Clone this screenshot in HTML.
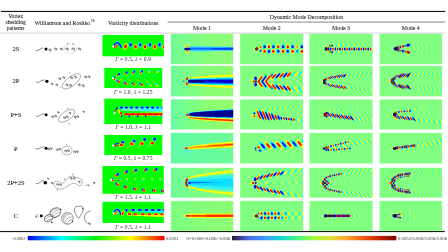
<!DOCTYPE html><html><head><meta charset="utf-8"><style>html,body{margin:0;padding:0;background:#fff;width:448px;height:252px;overflow:hidden;position:relative}</style></head><body><svg width="448" height="252" viewBox="0 0 448 252" style="position:absolute;left:0;top:0">
<defs>
<filter id="b4" x="-10%" y="-10%" width="120%" height="120%"><feGaussianBlur stdDeviation="0.45"/></filter>
<filter id="b6" x="-10%" y="-10%" width="120%" height="120%"><feGaussianBlur stdDeviation="0.6"/></filter>
<filter id="b2" x="-10%" y="-10%" width="120%" height="120%"><feGaussianBlur stdDeviation="0.25"/></filter>
<linearGradient id="cb1" x1="0" x2="1" y1="0" y2="0"><stop offset="0" stop-color="#0000f0"/><stop offset="0.25" stop-color="#00ffff"/><stop offset="0.5" stop-color="#00f000"/><stop offset="0.75" stop-color="#ffff00"/><stop offset="1" stop-color="#f00000"/></linearGradient>
<linearGradient id="cb2" x1="0" x2="1" y1="0" y2="0"><stop offset="0.0" stop-color="rgb(48, 18, 59)"/><stop offset="0.1" stop-color="rgb(70, 107, 227)"/><stop offset="0.2" stop-color="rgb(62, 155, 254)"/><stop offset="0.3" stop-color="rgb(24, 214, 203)"/><stop offset="0.4" stop-color="rgb(70, 247, 131)"/><stop offset="0.5" stop-color="rgb(164, 252, 60)"/><stop offset="0.6" stop-color="rgb(225, 221, 55)"/><stop offset="0.7" stop-color="rgb(254, 164, 49)"/><stop offset="0.8" stop-color="rgb(239, 90, 17)"/><stop offset="0.9" stop-color="rgb(194, 36, 3)"/><stop offset="1.0" stop-color="rgb(122, 4, 3)"/></linearGradient>
<clipPath id="cv0"><rect x="102.5" y="35.0" width="61.40" height="21.30"/></clipPath>
<clipPath id="cv1"><rect x="104.3" y="67.9" width="57.90" height="20.10"/></clipPath>
<clipPath id="cv2"><rect x="104.3" y="98.6" width="58.00" height="25.50"/></clipPath>
<clipPath id="cv3"><rect x="104.3" y="135.0" width="58.00" height="20.00"/></clipPath>
<clipPath id="cv4"><rect x="102.5" y="166.0" width="61.30" height="27.80"/></clipPath>
<clipPath id="cv5"><rect x="102.5" y="201.8" width="61.30" height="21.20"/></clipPath>
<clipPath id="cm00"><rect x="170.8" y="33.8" width="62.40" height="30.40"/></clipPath>
<clipPath id="cm01"><rect x="240.2" y="33.8" width="62.90" height="30.40"/></clipPath>
<clipPath id="cm02"><rect x="309.5" y="33.8" width="63.10" height="30.40"/></clipPath>
<clipPath id="cm03"><rect x="379.6" y="33.8" width="62.30" height="30.40"/></clipPath>
<clipPath id="cm10"><rect x="170.8" y="65.9" width="62.40" height="30.50"/></clipPath>
<clipPath id="cm11"><rect x="240.2" y="65.9" width="62.90" height="30.50"/></clipPath>
<clipPath id="cm12"><rect x="309.5" y="65.9" width="63.10" height="30.50"/></clipPath>
<clipPath id="cm13"><rect x="379.6" y="65.9" width="62.30" height="30.50"/></clipPath>
<clipPath id="cm20"><rect x="170.8" y="99.4" width="62.40" height="30.10"/></clipPath>
<clipPath id="cm21"><rect x="240.2" y="99.4" width="62.90" height="30.10"/></clipPath>
<clipPath id="cm22"><rect x="309.5" y="99.4" width="63.10" height="30.10"/></clipPath>
<clipPath id="cm23"><rect x="379.6" y="99.4" width="62.30" height="30.10"/></clipPath>
<clipPath id="cm30"><rect x="170.8" y="132.9" width="62.40" height="30.60"/></clipPath>
<clipPath id="cm31"><rect x="240.2" y="132.9" width="62.90" height="30.60"/></clipPath>
<clipPath id="cm32"><rect x="309.5" y="132.9" width="63.10" height="30.60"/></clipPath>
<clipPath id="cm33"><rect x="379.6" y="132.9" width="62.30" height="30.60"/></clipPath>
<clipPath id="cm40"><rect x="170.8" y="167.8" width="62.40" height="29.90"/></clipPath>
<clipPath id="cm41"><rect x="240.2" y="167.8" width="62.90" height="29.90"/></clipPath>
<clipPath id="cm42"><rect x="309.5" y="167.8" width="63.10" height="29.90"/></clipPath>
<clipPath id="cm43"><rect x="379.6" y="167.8" width="62.30" height="29.90"/></clipPath>
<clipPath id="cm50"><rect x="170.8" y="200.9" width="62.40" height="30.00"/></clipPath>
<clipPath id="cm51"><rect x="240.2" y="200.9" width="62.90" height="30.00"/></clipPath>
<clipPath id="cm52"><rect x="309.5" y="200.9" width="63.10" height="30.00"/></clipPath>
<clipPath id="cm53"><rect x="379.6" y="200.9" width="62.30" height="30.00"/></clipPath>
<linearGradient id="g1r0" x1="0" x2="1" y1="0" y2="0"><stop offset="0" stop-color="rgb(112, 250, 150)"/><stop offset="0.25" stop-color="rgb(122, 255, 134)"/><stop offset="0.55" stop-color="rgb(132, 255, 122)"/><stop offset="1" stop-color="rgb(142, 252, 114)"/></linearGradient>
<linearGradient id="g1r1" x1="0" x2="1" y1="0" y2="0"><stop offset="0" stop-color="rgb(108, 250, 156)"/><stop offset="0.25" stop-color="rgb(120, 255, 138)"/><stop offset="0.55" stop-color="rgb(134, 255, 120)"/><stop offset="1" stop-color="rgb(144, 252, 112)"/></linearGradient>
<linearGradient id="g1r2" x1="0" x2="1" y1="0" y2="0"><stop offset="0" stop-color="rgb(104, 250, 160)"/><stop offset="0.3" stop-color="rgb(122, 255, 134)"/><stop offset="0.6" stop-color="rgb(138, 255, 116)"/><stop offset="1" stop-color="rgb(148, 252, 108)"/></linearGradient>
<linearGradient id="g1r3" x1="0" x2="1" y1="0" y2="0"><stop offset="0" stop-color="rgb(98, 252, 164)"/><stop offset="0.5" stop-color="rgb(102, 252, 160)"/><stop offset="1" stop-color="rgb(110, 252, 150)"/></linearGradient>
<linearGradient id="g1r4" x1="0" x2="1" y1="0" y2="0"><stop offset="0" stop-color="rgb(110, 250, 152)"/><stop offset="0.4" stop-color="rgb(122, 255, 134)"/><stop offset="1" stop-color="rgb(134, 255, 122)"/></linearGradient>
<linearGradient id="g1r5" x1="0" x2="1" y1="0" y2="0"><stop offset="0" stop-color="rgb(126, 255, 130)"/><stop offset="0.5" stop-color="rgb(134, 255, 122)"/><stop offset="1" stop-color="rgb(142, 252, 114)"/></linearGradient>
</defs>
<rect x="1" y="10.9" width="444.2" height="1.1" fill="#111"/>
<rect x="167.5" y="21.7" width="277.7" height="0.7" fill="#555"/>
<rect x="0" y="32.7" width="445.2" height="0.7" fill="#c8bcc8"/>
<rect x="0" y="230.95" width="444.8" height="1.15" fill="#1a1a1a"/>
<text x="15.7" y="18.0" font-family="Liberation Serif, serif" font-size="5.6" text-anchor="middle" fill="#1a1a1a" stroke="#1a1a1a" stroke-width="0.06" >Vortex</text>
<text x="15.7" y="24.1" font-family="Liberation Serif, serif" font-size="5.6" text-anchor="middle" fill="#1a1a1a" stroke="#1a1a1a" stroke-width="0.06" >shedding</text>
<text x="15.7" y="30.2" font-family="Liberation Serif, serif" font-size="5.6" text-anchor="middle" fill="#1a1a1a" stroke="#1a1a1a" stroke-width="0.06" >patterns</text>
<text x="34.8" y="24.6" font-family="Liberation Serif, serif" font-size="5.75" fill="#1a1a1a" stroke="#1a1a1a" stroke-width="0.06">Williamson and Roshko<tspan font-size="3.4" dy="-2.3"> 18</tspan></text>
<text x="133.3" y="24.5" font-family="Liberation Serif, serif" font-size="5.8" text-anchor="middle" fill="#1a1a1a" stroke="#1a1a1a" stroke-width="0.06" >Vorticity distributions</text>
<text x="306.5" y="19.2" font-family="Liberation Serif, serif" font-size="5.82" text-anchor="middle" fill="#1a1a1a" stroke="#1a1a1a" stroke-width="0.06" >Dynamic Mode Decomposition</text>
<text x="202.0" y="29.9" font-family="Liberation Serif, serif" font-size="5.8" text-anchor="middle" fill="#1a1a1a" stroke="#1a1a1a" stroke-width="0.06" >Mode 1</text>
<text x="271.65" y="29.9" font-family="Liberation Serif, serif" font-size="5.8" text-anchor="middle" fill="#1a1a1a" stroke="#1a1a1a" stroke-width="0.06" >Mode 2</text>
<text x="341.05" y="29.9" font-family="Liberation Serif, serif" font-size="5.8" text-anchor="middle" fill="#1a1a1a" stroke="#1a1a1a" stroke-width="0.06" >Mode 3</text>
<text x="410.75" y="29.9" font-family="Liberation Serif, serif" font-size="5.8" text-anchor="middle" fill="#1a1a1a" stroke="#1a1a1a" stroke-width="0.06" >Mode 4</text>
<text x="15.9" y="51.3" font-family="Liberation Serif, serif" font-size="6.5" text-anchor="middle" fill="#222" stroke="#222" stroke-width="0.08">2S</text>
<text x="15.9" y="83.45" font-family="Liberation Serif, serif" font-size="6.5" text-anchor="middle" fill="#222" stroke="#222" stroke-width="0.08">2P</text>
<text x="15.9" y="116.75" font-family="Liberation Serif, serif" font-size="6.5" text-anchor="middle" fill="#222" stroke="#222" stroke-width="0.08">P+S</text>
<text x="15.9" y="150.5" font-family="Liberation Serif, serif" font-size="6.5" text-anchor="middle" fill="#222" stroke="#222" stroke-width="0.08">P</text>
<text x="15.9" y="185.05" font-family="Liberation Serif, serif" font-size="6.5" text-anchor="middle" fill="#222" stroke="#222" stroke-width="0.08">2P+2S</text>
<text x="15.9" y="218.2" font-family="Liberation Serif, serif" font-size="6.5" text-anchor="middle" fill="#222" stroke="#222" stroke-width="0.08">C</text>
<g filter="url(#b2)">
<path d="M35.4,50.6 L36.6,50.4 L38.4,50.1 L43.1,47.7" fill="none" stroke="#1a1a1a" stroke-width="0.5" /><circle cx="46" cy="49" r="1.5" fill="#000"/><path d="M48.7,50.26 a1.2,1.2 0 1,1 2.4,0 a0.66,0.66 0 1,1 -1.32,0.2" fill="none" stroke="#1a1a1a" stroke-width="0.65" /><path d="M54.4,49.36 a1.2,1.2 0 1,1 2.4,0 a0.66,0.66 0 1,1 -1.32,0.2" fill="none" stroke="#1a1a1a" stroke-width="0.65" /><path d="M60,49.36 a1.2,1.2 0 1,1 2.4,0 a0.66,0.66 0 1,1 -1.32,0.2" fill="none" stroke="#1a1a1a" stroke-width="0.65" /><ellipse cx="70.3" cy="48.6" rx="6.4" ry="4.8" fill="none" stroke="#777" stroke-width="0.45" stroke-dasharray="0.6,0.6"/><path d="M65.56,49.43 a1.44,1.44 0 1,1 2.88,0 a0.79,0.79 0 1,1 -1.58,0.2" fill="none" stroke="#1a1a1a" stroke-width="0.65" /><path d="M71.76,49.43 a1.44,1.44 0 1,1 2.88,0 a0.79,0.79 0 1,1 -1.58,0.2" fill="none" stroke="#1a1a1a" stroke-width="0.65" /><line x1="67.5" y1="44.2" x2="67.8" y2="43.4" stroke="#1a1a1a" stroke-width="0.45" stroke-linecap="round"/><line x1="72.8" y1="44.2" x2="73.1" y2="43.4" stroke="#1a1a1a" stroke-width="0.45" stroke-linecap="round"/><path d="M78.2,49.36 a1.2,1.2 0 1,1 2.4,0 a0.66,0.66 0 1,1 -1.32,0.2" fill="none" stroke="#1a1a1a" stroke-width="0.65" />
<path d="M35.9,82.0 Q37.5,83.2 39.5,81.8 Q41.5,80.2 44.8,79.8" fill="none" stroke="#1a1a1a" stroke-width="0.5" /><circle cx="46.9" cy="81.3" r="1.6" fill="#000"/><path d="M50.94,84.09 a0.96,0.96 0 1,1 1.92,0 a0.53,0.53 0 1,1 -1.06,0.2" fill="none" stroke="#1a1a1a" stroke-width="0.65" /><path d="M55.64,85.09 a0.96,0.96 0 1,1 1.92,0 a0.53,0.53 0 1,1 -1.06,0.2" fill="none" stroke="#1a1a1a" stroke-width="0.65" /><path d="M58.62,78.92 a1.08,1.08 0 1,1 2.16,0 a0.59,0.59 0 1,1 -1.19,0.2" fill="none" stroke="#1a1a1a" stroke-width="0.65" /><path d="M62.52,77.82 a1.08,1.08 0 1,1 2.16,0 a0.59,0.59 0 1,1 -1.19,0.2" fill="none" stroke="#1a1a1a" stroke-width="0.65" /><ellipse cx="71.4" cy="81.3" rx="11" ry="4.6" transform="rotate(-38 71.4 81.3)" fill="none" stroke="#555" stroke-width="0.45"/><path d="M70.32,78.12 a1.08,1.08 0 1,1 2.16,0 a0.59,0.59 0 1,1 -1.19,0.2" fill="none" stroke="#1a1a1a" stroke-width="0.65" /><path d="M74.22,77.32 a1.08,1.08 0 1,1 2.16,0 a0.59,0.59 0 1,1 -1.19,0.2" fill="none" stroke="#1a1a1a" stroke-width="0.65" /><path d="M65.62,85.12 a1.08,1.08 0 1,1 2.16,0 a0.59,0.59 0 1,1 -1.19,0.2" fill="none" stroke="#1a1a1a" stroke-width="0.65" /><path d="M69.22,85.62 a1.08,1.08 0 1,1 2.16,0 a0.59,0.59 0 1,1 -1.19,0.2" fill="none" stroke="#1a1a1a" stroke-width="0.65" /><path d="M84.42,77.32 a1.08,1.08 0 1,1 2.16,0 a0.59,0.59 0 1,1 -1.19,0.2" fill="none" stroke="#1a1a1a" stroke-width="0.65" /><path d="M87.92,76.92 a1.08,1.08 0 1,1 2.16,0 a0.59,0.59 0 1,1 -1.19,0.2" fill="none" stroke="#1a1a1a" stroke-width="0.65" /><path d="M78.12,85.12 a1.08,1.08 0 1,1 2.16,0 a0.59,0.59 0 1,1 -1.19,0.2" fill="none" stroke="#1a1a1a" stroke-width="0.65" /><path d="M82.02,85.92 a1.08,1.08 0 1,1 2.16,0 a0.59,0.59 0 1,1 -1.19,0.2" fill="none" stroke="#1a1a1a" stroke-width="0.65" /><circle cx="69.8" cy="72.8" r="0.45" fill="#1a1a1a"/><circle cx="60.8" cy="86.9" r="0.45" fill="#1a1a1a"/>
<path d="M35.9,116.0 Q37.5,117.2 39.5,115.6 Q41.5,114 44.4,113.8" fill="none" stroke="#1a1a1a" stroke-width="0.5" /><circle cx="46.1" cy="114.8" r="1.5" fill="#000"/><path d="M51.54,116.89 a0.96,0.96 0 1,1 1.92,0 a0.53,0.53 0 1,1 -1.06,0.2" fill="none" stroke="#1a1a1a" stroke-width="0.65" /><path d="M54.54,116.39 a0.96,0.96 0 1,1 1.92,0 a0.53,0.53 0 1,1 -1.06,0.2" fill="none" stroke="#1a1a1a" stroke-width="0.65" /><path d="M57.46,112.55 a0.84,0.84 0 1,1 1.68,0 a0.46,0.46 0 1,1 -0.92,0.2" fill="none" stroke="#1a1a1a" stroke-width="0.65" /><ellipse cx="66.7" cy="115.8" rx="9.4" ry="4.4" transform="rotate(-35 66.7 115.8)" fill="none" stroke="#555" stroke-width="0.45"/><path d="M63.42,117.82 a1.08,1.08 0 1,1 2.16,0 a0.59,0.59 0 1,1 -1.19,0.2" fill="none" stroke="#1a1a1a" stroke-width="0.65" /><path d="M66.12,117.12 a1.08,1.08 0 1,1 2.16,0 a0.59,0.59 0 1,1 -1.19,0.2" fill="none" stroke="#1a1a1a" stroke-width="0.65" /><path d="M68.84,113.29 a0.96,0.96 0 1,1 1.92,0 a0.53,0.53 0 1,1 -1.06,0.2" fill="none" stroke="#1a1a1a" stroke-width="0.65" /><line x1="67.6" y1="109" x2="67.9" y2="108.2" stroke="#1a1a1a" stroke-width="0.45" stroke-linecap="round"/><line x1="69" y1="124.2" x2="69.3" y2="123.4" stroke="#1a1a1a" stroke-width="0.45" stroke-linecap="round"/><path d="M74.04,117.29 a0.96,0.96 0 1,1 1.92,0 a0.53,0.53 0 1,1 -1.06,0.2" fill="none" stroke="#1a1a1a" stroke-width="0.65" /><path d="M76.64,116.79 a0.96,0.96 0 1,1 1.92,0 a0.53,0.53 0 1,1 -1.06,0.2" fill="none" stroke="#1a1a1a" stroke-width="0.65" /><path d="M82.66,111.85 a0.84,0.84 0 1,1 1.68,0 a0.46,0.46 0 1,1 -0.92,0.2" fill="none" stroke="#1a1a1a" stroke-width="0.65" />
<path d="M35.6,148.6 L37.4,148.9 Q40,148.4 44.4,146.6" fill="none" stroke="#1a1a1a" stroke-width="0.5" /><circle cx="46" cy="148.3" r="1.5" fill="#000"/><path d="M47.64,149.39 a0.96,0.96 0 1,1 1.92,0 a0.53,0.53 0 1,1 -1.06,0.2" fill="none" stroke="#1a1a1a" stroke-width="0.65" /><path d="M50.04,148.79 a0.96,0.96 0 1,1 1.92,0 a0.53,0.53 0 1,1 -1.06,0.2" fill="none" stroke="#1a1a1a" stroke-width="0.65" /><path d="M56.14,149.89 a0.96,0.96 0 1,1 1.92,0 a0.53,0.53 0 1,1 -1.06,0.2" fill="none" stroke="#1a1a1a" stroke-width="0.65" /><path d="M58.64,149.29 a0.96,0.96 0 1,1 1.92,0 a0.53,0.53 0 1,1 -1.06,0.2" fill="none" stroke="#1a1a1a" stroke-width="0.65" /><ellipse cx="66.9" cy="150.5" rx="5.2" ry="4.3" fill="none" stroke="#555" stroke-width="0.45"/><path d="M64.52,151.32 a1.08,1.08 0 1,1 2.16,0 a0.59,0.59 0 1,1 -1.19,0.2" fill="none" stroke="#1a1a1a" stroke-width="0.65" /><path d="M67.22,150.82 a1.08,1.08 0 1,1 2.16,0 a0.59,0.59 0 1,1 -1.19,0.2" fill="none" stroke="#1a1a1a" stroke-width="0.65" /><line x1="66.4" y1="145" x2="66.7" y2="144.2" stroke="#1a1a1a" stroke-width="0.45" stroke-linecap="round"/><path d="M73.64,152.29 a0.96,0.96 0 1,1 1.92,0 a0.53,0.53 0 1,1 -1.06,0.2" fill="none" stroke="#1a1a1a" stroke-width="0.65" /><path d="M76.24,151.79 a0.96,0.96 0 1,1 1.92,0 a0.53,0.53 0 1,1 -1.06,0.2" fill="none" stroke="#1a1a1a" stroke-width="0.65" />
<path d="M35.9,183.6 Q38,184.2 40,182.4 Q42,180.6 43.8,180.5" fill="none" stroke="#1a1a1a" stroke-width="0.5" /><circle cx="45.3" cy="182.8" r="1.8" fill="#000"/><path d="M47.08,178.82 a0.72,0.72 0 1,1 1.44,0 a0.4,0.4 0 1,1 -0.79,0.2" fill="none" stroke="#1a1a1a" stroke-width="0.65" /><path d="M51.16,183.25 a0.84,0.84 0 1,1 1.68,0 a0.46,0.46 0 1,1 -0.92,0.2" fill="none" stroke="#1a1a1a" stroke-width="0.65" /><path d="M54,183.5 C54,180.5 58,180.5 60,182.5 C62,184.2 64,183 66,180 C68,176.5 72,175.2 75,177 C78,178.2 81.5,177.8 82.3,181 C83,185 80,187 78,185.2 C76,183.2 73,182.5 70,184.5 C67,186.5 64,189.3 60,189.2 C56,189 54,186.5 54,183.5 Z" fill="none" stroke="#555" stroke-width="0.45" /><path d="M56.54,184.59 a0.96,0.96 0 1,1 1.92,0 a0.53,0.53 0 1,1 -1.06,0.2" fill="none" stroke="#1a1a1a" stroke-width="0.65" /><path d="M59.54,185.09 a0.96,0.96 0 1,1 1.92,0 a0.53,0.53 0 1,1 -1.06,0.2" fill="none" stroke="#1a1a1a" stroke-width="0.65" /><path d="M70.04,178.59 a0.96,0.96 0 1,1 1.92,0 a0.53,0.53 0 1,1 -1.06,0.2" fill="none" stroke="#1a1a1a" stroke-width="0.65" /><path d="M73.04,178.59 a0.96,0.96 0 1,1 1.92,0 a0.53,0.53 0 1,1 -1.06,0.2" fill="none" stroke="#1a1a1a" stroke-width="0.65" /><path d="M78.24,182.09 a0.96,0.96 0 1,1 1.92,0 a0.53,0.53 0 1,1 -1.06,0.2" fill="none" stroke="#1a1a1a" stroke-width="0.65" /><line x1="72.6" y1="174.8" x2="72.9" y2="174" stroke="#1a1a1a" stroke-width="0.45" stroke-linecap="round"/><line x1="57.2" y1="190.2" x2="57.5" y2="189.4" stroke="#1a1a1a" stroke-width="0.45" stroke-linecap="round"/><line x1="64.6" y1="179.4" x2="64.9" y2="178.6" stroke="#1a1a1a" stroke-width="0.45" stroke-linecap="round"/><circle cx="85.5" cy="185.2" r="0.45" fill="#1a1a1a"/><path d="M87.28,185.42 a0.72,0.72 0 1,1 1.44,0 a0.4,0.4 0 1,1 -0.79,0.2" fill="none" stroke="#1a1a1a" stroke-width="0.65" /><path d="M93.16,183.05 a0.84,0.84 0 1,1 1.68,0 a0.46,0.46 0 1,1 -0.92,0.2" fill="none" stroke="#1a1a1a" stroke-width="0.65" />
<path d="M35.2,215.6 L36.2,217.4 L37.6,214.2" fill="none" stroke="#1a1a1a" stroke-width="0.5" /><circle cx="38.2" cy="216.4" r="0.35" fill="#1a1a1a"/><circle cx="41.3" cy="215.9" r="1.45" fill="#000"/><ellipse cx="55.4" cy="212.6" rx="5.6" ry="4.6" transform="rotate(-30 55.4 212.6)" fill="none" stroke="#333" stroke-width="0.55"/><ellipse cx="48.6" cy="218.2" rx="4.6" ry="3.4" transform="rotate(-25 48.6 218.2)" fill="none" stroke="#333" stroke-width="0.55"/><path d="M51.5,214.5 Q55,209.5 59.5,209.8 M52.5,216.5 Q56.5,212 60.2,212.6 M54,218 Q58,215 59.6,215.2 M50.5,212.5 Q53.5,208.5 57.5,207.8" fill="none" stroke="#444" stroke-width="0.45" /><path d="M45,219.5 Q47.5,216 51.5,216.2 M45.8,221.4 Q49,219 52.6,219.2 M44.6,217.4 Q46.5,215.2 49,215" fill="none" stroke="#444" stroke-width="0.45" /><path d="M60.2,208.2 L61.8,209.4 L60.0,210.0 Z" fill="#000" /><path d="M51.2,221.6 L53.0,222.6 L51.2,223.2 Z" fill="#000" /><ellipse cx="67.4" cy="218.4" rx="5.8" ry="5.8" fill="none" stroke="#333" stroke-width="0.55"/><path d="M63,221 Q64.5,214.5 70,214 M64.5,223 Q66,217.5 71.5,216.8 M66.5,224 Q69,219.5 72.6,219.6 M62.6,218 Q64,214.6 67,213.2" fill="none" stroke="#444" stroke-width="0.45" /><circle cx="72.6" cy="221.6" r="0.6" fill="#000"/><path d="M74.2,209.0 Q75.5,205.6 79.0,206.4 Q82.6,205.4 83.4,208.6 Q83.2,213.0 78.6,218.6 Q74.0,213.6 74.2,209.0 Z" fill="none" stroke="#333" stroke-width="0.55" /><circle cx="82.8" cy="208.7" r="0.6" fill="#000"/><path d="M90.8,210.9 Q84.6,212.0 84.3,217.6 Q84.6,221.6 87.6,223.2" fill="none" stroke="#333" stroke-width="0.55" /><path d="M88.24,223.99 a0.96,0.96 0 1,1 1.92,0 a0.53,0.53 0 1,1 -1.06,0.2" fill="none" stroke="#1a1a1a" stroke-width="0.65" />
</g>
<rect x="102.5" y="35.0" width="61.40" height="21.30" fill="#00ff00"/>
<g clip-path="url(#cv0)"><g filter="url(#b4)"><path d="M113.8,45.6 Q116,42 118,42.8 Q120,44 121.5,47.8" fill="none" stroke="#00ffff" stroke-width="2.4" /><path d="M113.8,45.6 Q116,42 118,42.8 Q120,44 121.5,47.8" fill="none" stroke="#0000ff" stroke-width="1.4" /><path d="M114,47.6 Q116,47 117.5,44.8" fill="none" stroke="#ffff00" stroke-width="2" /><path d="M114,47.6 Q116,47 117.5,44.8" fill="none" stroke="#ff0000" stroke-width="1.2" /><ellipse cx="125.5" cy="46.4" rx="1.95" ry="3.45" fill="#ffff00" transform="rotate(15 125.5 46.4)"/><ellipse cx="125.5" cy="46.4" rx="1.3" ry="2.3" fill="#ff0000" transform="rotate(15 125.5 46.4)"/><ellipse cx="130.5" cy="44.7" rx="1.95" ry="2.7" fill="#00ffff"/><ellipse cx="130.5" cy="44.7" rx="1.3" ry="1.8" fill="#0000ff"/><ellipse cx="135.5" cy="46.7" rx="2.1" ry="2.55" fill="#ffff00"/><ellipse cx="135.5" cy="46.7" rx="1.4" ry="1.7" fill="#ff0000"/><ellipse cx="140.2" cy="44.7" rx="1.95" ry="2.7" fill="#00ffff"/><ellipse cx="140.2" cy="44.7" rx="1.3" ry="1.8" fill="#0000ff"/><ellipse cx="145.1" cy="46.7" rx="2.1" ry="2.55" fill="#ffff00"/><ellipse cx="145.1" cy="46.7" rx="1.4" ry="1.7" fill="#ff0000"/><ellipse cx="150" cy="44.7" rx="1.95" ry="2.7" fill="#00ffff"/><ellipse cx="150" cy="44.7" rx="1.3" ry="1.8" fill="#0000ff"/><ellipse cx="154.8" cy="46.7" rx="2.1" ry="2.55" fill="#ffff00"/><ellipse cx="154.8" cy="46.7" rx="1.4" ry="1.7" fill="#ff0000"/><ellipse cx="159.6" cy="44.7" rx="1.95" ry="2.7" fill="#00ffff"/><ellipse cx="159.6" cy="44.7" rx="1.3" ry="1.8" fill="#0000ff"/><ellipse cx="164.2" cy="46.7" rx="2.1" ry="2.55" fill="#ffff00"/><ellipse cx="164.2" cy="46.7" rx="1.4" ry="1.7" fill="#ff0000"/><circle cx="113.2" cy="46.6" r="1.1" fill="#ffffff"/></g></g>
<text x="133.20" y="61.2" font-family="Liberation Serif, serif" font-size="5.5" letter-spacing="0.12" text-anchor="middle" fill="#2a2a2a"><tspan font-style="italic">Γ</tspan> = 0.5, <tspan font-style="italic">λ</tspan> = 0.9</text>
<rect x="104.3" y="67.9" width="57.90" height="20.10" fill="#00ff00"/>
<g clip-path="url(#cv1)"><g filter="url(#b4)"><line x1="120.5" y1="77.4" x2="125.2" y2="74.3" stroke="#00ffff" stroke-width="0.8" stroke-linecap="round" opacity="0.75"/><line x1="120" y1="79.2" x2="124.7" y2="81.9" stroke="#ffff00" stroke-width="0.8" stroke-linecap="round" opacity="0.75"/><line x1="128.1" y1="77.4" x2="132.8" y2="73.5" stroke="#00ffff" stroke-width="0.8" stroke-linecap="round" opacity="0.75"/><line x1="127.9" y1="79.2" x2="132.6" y2="82.5" stroke="#ffff00" stroke-width="0.8" stroke-linecap="round" opacity="0.75"/><line x1="135.9" y1="77.4" x2="140.6" y2="73.1" stroke="#00ffff" stroke-width="0.8" stroke-linecap="round" opacity="0.75"/><line x1="135.9" y1="79.2" x2="140.6" y2="83" stroke="#ffff00" stroke-width="0.8" stroke-linecap="round" opacity="0.75"/><line x1="144.2" y1="77.4" x2="148.9" y2="72.8" stroke="#00ffff" stroke-width="0.8" stroke-linecap="round" opacity="0.75"/><line x1="144.2" y1="79.2" x2="148.9" y2="83.4" stroke="#ffff00" stroke-width="0.8" stroke-linecap="round" opacity="0.75"/><line x1="152.5" y1="77.4" x2="157.2" y2="72.6" stroke="#00ffff" stroke-width="0.8" stroke-linecap="round" opacity="0.75"/><line x1="151.1" y1="79.2" x2="155.8" y2="83.8" stroke="#ffff00" stroke-width="0.8" stroke-linecap="round" opacity="0.75"/><ellipse cx="117.8" cy="75.2" rx="1.47" ry="1.54" fill="#ffff00"/><ellipse cx="117.8" cy="75.2" rx="1.05" ry="1.1" fill="#ff0000"/><ellipse cx="119.1" cy="74.1" rx="1.54" ry="1.61" fill="#00ffff"/><ellipse cx="119.1" cy="74.1" rx="1.1" ry="1.15" fill="#0000ff"/><ellipse cx="125.4" cy="73.6" rx="1.47" ry="1.54" fill="#ffff00"/><ellipse cx="125.4" cy="73.6" rx="1.05" ry="1.1" fill="#ff0000"/><ellipse cx="126.7" cy="72.5" rx="1.54" ry="1.61" fill="#00ffff"/><ellipse cx="126.7" cy="72.5" rx="1.1" ry="1.15" fill="#0000ff"/><ellipse cx="133" cy="72.8" rx="1.47" ry="1.54" fill="#ffff00"/><ellipse cx="133" cy="72.8" rx="1.05" ry="1.1" fill="#ff0000"/><ellipse cx="134.3" cy="71.7" rx="1.54" ry="1.61" fill="#00ffff"/><ellipse cx="134.3" cy="71.7" rx="1.1" ry="1.15" fill="#0000ff"/><ellipse cx="140.8" cy="72.4" rx="1.47" ry="1.54" fill="#ffff00"/><ellipse cx="140.8" cy="72.4" rx="1.05" ry="1.1" fill="#ff0000"/><ellipse cx="142.1" cy="71.3" rx="1.54" ry="1.61" fill="#00ffff"/><ellipse cx="142.1" cy="71.3" rx="1.1" ry="1.15" fill="#0000ff"/><ellipse cx="150.3" cy="71" rx="1.4" ry="1" fill="#00ffff"/><ellipse cx="149.1" cy="72.1" rx="1.4" ry="1" fill="#ffff00"/><ellipse cx="150.3" cy="71" rx="0.6" ry="0.5" fill="#00a0ff"/><ellipse cx="149.1" cy="72.1" rx="0.6" ry="0.5" fill="#ff8000"/><ellipse cx="158.6" cy="70.8" rx="1.4" ry="1" fill="#00ffff"/><ellipse cx="157.4" cy="71.9" rx="1.4" ry="1" fill="#ffff00"/><ellipse cx="158.6" cy="70.8" rx="0.6" ry="0.5" fill="#00a0ff"/><ellipse cx="157.4" cy="71.9" rx="0.6" ry="0.5" fill="#ff8000"/><ellipse cx="117.7" cy="80.8" rx="1.54" ry="1.61" fill="#00ffff"/><ellipse cx="117.7" cy="80.8" rx="1.1" ry="1.15" fill="#0000ff"/><ellipse cx="119" cy="81.8" rx="1.47" ry="1.54" fill="#ffff00"/><ellipse cx="119" cy="81.8" rx="1.05" ry="1.1" fill="#ff0000"/><ellipse cx="124.8" cy="82.8" rx="1.54" ry="1.61" fill="#00ffff"/><ellipse cx="124.8" cy="82.8" rx="1.1" ry="1.15" fill="#0000ff"/><ellipse cx="126.1" cy="83.8" rx="1.47" ry="1.54" fill="#ffff00"/><ellipse cx="126.1" cy="83.8" rx="1.05" ry="1.1" fill="#ff0000"/><ellipse cx="132.7" cy="83.4" rx="1.54" ry="1.61" fill="#00ffff"/><ellipse cx="132.7" cy="83.4" rx="1.1" ry="1.15" fill="#0000ff"/><ellipse cx="134" cy="84.4" rx="1.47" ry="1.54" fill="#ffff00"/><ellipse cx="134" cy="84.4" rx="1.05" ry="1.1" fill="#ff0000"/><ellipse cx="140.7" cy="83.9" rx="1.54" ry="1.61" fill="#00ffff"/><ellipse cx="140.7" cy="83.9" rx="1.1" ry="1.15" fill="#0000ff"/><ellipse cx="142" cy="84.9" rx="1.47" ry="1.54" fill="#ffff00"/><ellipse cx="142" cy="84.9" rx="1.05" ry="1.1" fill="#ff0000"/><ellipse cx="149.1" cy="84.2" rx="1.4" ry="1" fill="#00ffff"/><ellipse cx="150.3" cy="85.3" rx="1.4" ry="1" fill="#ffff00"/><ellipse cx="149.1" cy="84.2" rx="0.6" ry="0.5" fill="#00a0ff"/><ellipse cx="150.3" cy="85.3" rx="0.6" ry="0.5" fill="#ff8000"/><ellipse cx="156" cy="84.6" rx="1.4" ry="1" fill="#00ffff"/><ellipse cx="157.2" cy="85.7" rx="1.4" ry="1" fill="#ffff00"/><ellipse cx="156" cy="84.6" rx="0.6" ry="0.5" fill="#00a0ff"/><ellipse cx="157.2" cy="85.7" rx="0.6" ry="0.5" fill="#ff8000"/><ellipse cx="114.6" cy="77.2" rx="1.35" ry="1.2" fill="#00ffff"/><ellipse cx="114.6" cy="77.2" rx="0.9" ry="0.8" fill="#0000ff"/><ellipse cx="114.6" cy="79.4" rx="1.35" ry="1.2" fill="#ffff00"/><ellipse cx="114.6" cy="79.4" rx="0.9" ry="0.8" fill="#ff0000"/><circle cx="112.8" cy="78.2" r="1.1" fill="#ffffff"/></g></g>
<text x="133.25" y="93.6" font-family="Liberation Serif, serif" font-size="5.5" letter-spacing="0.12" text-anchor="middle" fill="#2a2a2a"><tspan font-style="italic">Γ</tspan> = 1.0, <tspan font-style="italic">λ</tspan> = 1.25</text>
<rect x="104.3" y="98.6" width="58.00" height="25.50" fill="#00ff00"/>
<g clip-path="url(#cv2)"><g filter="url(#b4)"><path d="M121,108.4 L162.5,107.6 L162.5,112.0 L121,110.8 Z" fill="#70ffc0" /><path d="M138,108.6 L162.5,108.0 L162.5,111.4 L138,110.4 Z" fill="#30ffe8" /><path d="M124.5,112.9 L162.5,112.6 L162.5,116.0 L124.5,115.5 Z" fill="#ffff00" /><path d="M124.5,113.5 L162.5,113.3 L162.5,115.2 L124.5,114.9 Z" fill="#ff0000" /><path d="M114.4,112.2 Q115,109.5 116.6,108.4" fill="none" stroke="#ff0000" stroke-width="0.9" /><circle cx="116.8" cy="108.4" r="1" fill="#0000ff"/><path d="M118.2,109.4 L121.6,116.2" fill="none" stroke="#ffff00" stroke-width="1.8" /><ellipse cx="120.9" cy="113.4" rx="1" ry="1.3" fill="#ff0000" transform="rotate(-25 120.9 113.4)"/><ellipse cx="121.6" cy="116" rx="0.9" ry="0.9" fill="#0000ff"/><ellipse cx="121.4" cy="107.6" rx="2.2" ry="1.5" fill="#00ffff" opacity="0.8"/><ellipse cx="121.4" cy="107.6" rx="1.6" ry="1.05" fill="#0000ff"/><ellipse cx="126.4" cy="107.6" rx="2.2" ry="1.5" fill="#00ffff" opacity="0.8"/><ellipse cx="126.4" cy="107.6" rx="1.6" ry="1.05" fill="#0000ff"/><ellipse cx="131.4" cy="107.6" rx="2.2" ry="1.5" fill="#00ffff" opacity="0.8"/><ellipse cx="131.4" cy="107.6" rx="1.6" ry="1.05" fill="#0000ff"/><ellipse cx="136.8" cy="107.6" rx="2.2" ry="1.5" fill="#00ffff" opacity="0.8"/><ellipse cx="136.8" cy="107.6" rx="1.6" ry="1.05" fill="#0000ff"/><ellipse cx="142.2" cy="107.6" rx="2.2" ry="1.5" fill="#00ffff" opacity="0.8"/><ellipse cx="142.2" cy="107.6" rx="1.6" ry="1.05" fill="#0000ff"/><ellipse cx="147.4" cy="107.6" rx="2.2" ry="1.5" fill="#00ffff" opacity="0.8"/><ellipse cx="147.4" cy="107.6" rx="1.6" ry="1.05" fill="#0000ff"/><ellipse cx="152.6" cy="107.6" rx="2.2" ry="1.5" fill="#00ffff" opacity="0.8"/><ellipse cx="152.6" cy="107.6" rx="1.6" ry="1.05" fill="#0000ff"/><ellipse cx="157.6" cy="107.6" rx="2.2" ry="1.5" fill="#00ffff" opacity="0.8"/><ellipse cx="157.6" cy="107.6" rx="1.6" ry="1.05" fill="#0050ff"/><ellipse cx="162.4" cy="107.6" rx="2.2" ry="1.5" fill="#00ffff" opacity="0.8"/><ellipse cx="162.4" cy="107.6" rx="1.6" ry="1.05" fill="#0050ff"/><ellipse cx="126.4" cy="114.2" rx="1.7" ry="1.3" fill="#ff0000"/><ellipse cx="132.6" cy="114.2" rx="1.7" ry="1.3" fill="#ff0000"/><ellipse cx="138.4" cy="114.2" rx="1.7" ry="1.3" fill="#ff0000"/><ellipse cx="144.4" cy="114.2" rx="1.7" ry="1.3" fill="#ff0000"/><ellipse cx="150.4" cy="114.2" rx="1.7" ry="1.3" fill="#ff0000"/><ellipse cx="156.4" cy="114.2" rx="1.7" ry="1.3" fill="#ff0000"/><ellipse cx="162.2" cy="114.2" rx="1.7" ry="1.3" fill="#ff0000"/><circle cx="129.3" cy="116.2" r="0.95" fill="#0000ff"/><circle cx="137.6" cy="116.2" r="0.95" fill="#0000ff"/><circle cx="145.8" cy="116.2" r="0.95" fill="#0000ff"/><circle cx="153.9" cy="116.2" r="0.95" fill="#00a0ff"/><circle cx="160.8" cy="116.2" r="0.95" fill="#00a0ff"/><circle cx="114.4" cy="112.9" r="1.1" fill="#ffffff"/></g></g>
<text x="133.30" y="129.4" font-family="Liberation Serif, serif" font-size="5.5" letter-spacing="0.12" text-anchor="middle" fill="#2a2a2a"><tspan font-style="italic">Γ</tspan> = 1.0, <tspan font-style="italic">λ</tspan> = 1.1</text>
<rect x="104.3" y="135.0" width="58.00" height="20.00" fill="#00ff00"/>
<g clip-path="url(#cv3)"><g filter="url(#b4)"><line x1="113.6" y1="144.5" x2="119" y2="143.2" stroke="#0000ff" stroke-width="1" stroke-linecap="round"/><line x1="113.6" y1="146" x2="119" y2="145.6" stroke="#ff0000" stroke-width="1" stroke-linecap="round"/><line x1="119.9" y1="146.3" x2="115.4" y2="148.3" stroke="#00ffff" stroke-width="0.6" stroke-linecap="round" opacity="0.8"/><line x1="120.4" y1="146.8" x2="116.4" y2="149.3" stroke="#ffff00" stroke-width="0.5" stroke-linecap="round" opacity="0.6"/><line x1="130.2" y1="145.3" x2="125.7" y2="147.3" stroke="#00ffff" stroke-width="0.6" stroke-linecap="round" opacity="0.8"/><line x1="130.7" y1="145.8" x2="126.7" y2="148.3" stroke="#ffff00" stroke-width="0.5" stroke-linecap="round" opacity="0.6"/><line x1="140.6" y1="144.9" x2="136.1" y2="146.9" stroke="#00ffff" stroke-width="0.6" stroke-linecap="round" opacity="0.8"/><line x1="141.1" y1="145.4" x2="137.1" y2="147.9" stroke="#ffff00" stroke-width="0.5" stroke-linecap="round" opacity="0.6"/><line x1="151" y1="144.5" x2="146.5" y2="146.5" stroke="#00ffff" stroke-width="0.6" stroke-linecap="round" opacity="0.8"/><line x1="151.5" y1="145" x2="147.5" y2="147.5" stroke="#ffff00" stroke-width="0.5" stroke-linecap="round" opacity="0.6"/><ellipse cx="122.7" cy="142.4" rx="2.1" ry="1.89" fill="#00ffff"/><ellipse cx="122.7" cy="142.4" rx="1.5" ry="1.35" fill="#0000ff"/><ellipse cx="121.4" cy="144.8" rx="2.24" ry="2.1" fill="#ffff00"/><ellipse cx="121.4" cy="144.8" rx="1.6" ry="1.5" fill="#ff0000"/><ellipse cx="134.1" cy="141" rx="2.1" ry="1.89" fill="#00ffff"/><ellipse cx="134.1" cy="141" rx="1.5" ry="1.35" fill="#0000ff"/><ellipse cx="131.7" cy="143.8" rx="2.24" ry="2.1" fill="#ffff00"/><ellipse cx="131.7" cy="143.8" rx="1.6" ry="1.5" fill="#ff0000"/><ellipse cx="144.6" cy="139.6" rx="2.1" ry="1.89" fill="#00ffff"/><ellipse cx="144.6" cy="139.6" rx="1.5" ry="1.35" fill="#0000ff"/><ellipse cx="142.1" cy="143.4" rx="2.24" ry="2.1" fill="#ffff00"/><ellipse cx="142.1" cy="143.4" rx="1.6" ry="1.5" fill="#ff0000"/><ellipse cx="154.6" cy="139.2" rx="2.1" ry="1.89" fill="#00ffff"/><ellipse cx="154.6" cy="139.2" rx="1.5" ry="1.35" fill="#0000ff"/><ellipse cx="152.5" cy="143" rx="2.24" ry="2.1" fill="#ffff00"/><ellipse cx="152.5" cy="143" rx="1.6" ry="1.5" fill="#ff0000"/><ellipse cx="162.8" cy="142.5" rx="1.4" ry="1.6" fill="#ffff00"/><circle cx="113.3" cy="145.4" r="1.1" fill="#ffffff"/></g></g>
<text x="133.30" y="160.3" font-family="Liberation Serif, serif" font-size="5.5" letter-spacing="0.12" text-anchor="middle" fill="#2a2a2a"><tspan font-style="italic">Γ</tspan> = 0.5, <tspan font-style="italic">λ</tspan> = 0.75</text>
<rect x="102.5" y="166.0" width="61.30" height="27.80" fill="#00ff00"/>
<g clip-path="url(#cv4)"><g filter="url(#b4)"><line x1="118.1" y1="176.7" x2="123.1" y2="179.4" stroke="#00ffff" stroke-width="0.5" stroke-linecap="round" opacity="0.6"/><line x1="127.2" y1="173.9" x2="132.2" y2="176.6" stroke="#00ffff" stroke-width="0.5" stroke-linecap="round" opacity="0.6"/><line x1="136.3" y1="172.4" x2="141.3" y2="175.1" stroke="#00ffff" stroke-width="0.5" stroke-linecap="round" opacity="0.6"/><line x1="146.7" y1="171.7" x2="151.7" y2="174.4" stroke="#00ffff" stroke-width="0.5" stroke-linecap="round" opacity="0.6"/><line x1="156.7" y1="171.4" x2="161.7" y2="174.1" stroke="#00ffff" stroke-width="0.5" stroke-linecap="round" opacity="0.6"/><line x1="118.1" y1="182.6" x2="123.1" y2="179.9" stroke="#ffff00" stroke-width="0.5" stroke-linecap="round" opacity="0.6"/><line x1="126.3" y1="185.3" x2="131.3" y2="182.6" stroke="#ffff00" stroke-width="0.5" stroke-linecap="round" opacity="0.6"/><line x1="135.6" y1="187.2" x2="140.6" y2="184.5" stroke="#ffff00" stroke-width="0.5" stroke-linecap="round" opacity="0.6"/><line x1="144.4" y1="188.4" x2="149.4" y2="185.7" stroke="#ffff00" stroke-width="0.5" stroke-linecap="round" opacity="0.6"/><line x1="154.8" y1="188.7" x2="159.8" y2="186" stroke="#ffff00" stroke-width="0.5" stroke-linecap="round" opacity="0.6"/><line x1="163.6" y1="189.2" x2="168.6" y2="186.5" stroke="#ffff00" stroke-width="0.5" stroke-linecap="round" opacity="0.6"/><ellipse cx="116.4" cy="175.4" rx="1.49" ry="1.76" fill="#ffff00"/><ellipse cx="116.4" cy="175.4" rx="1.1" ry="1.3" fill="#ff0000"/><ellipse cx="117.8" cy="174.4" rx="1.49" ry="1.76" fill="#00ffff"/><ellipse cx="117.8" cy="174.4" rx="1.1" ry="1.3" fill="#0000ff"/><ellipse cx="125.5" cy="172.6" rx="1.49" ry="1.76" fill="#ffff00"/><ellipse cx="125.5" cy="172.6" rx="1.1" ry="1.3" fill="#ff0000"/><ellipse cx="126.9" cy="171.6" rx="1.49" ry="1.76" fill="#00ffff"/><ellipse cx="126.9" cy="171.6" rx="1.1" ry="1.3" fill="#0000ff"/><ellipse cx="134.6" cy="171.1" rx="1.49" ry="1.76" fill="#ffff00"/><ellipse cx="134.6" cy="171.1" rx="1.1" ry="1.3" fill="#ff0000"/><ellipse cx="136" cy="170.1" rx="1.49" ry="1.76" fill="#00ffff"/><ellipse cx="136" cy="170.1" rx="1.1" ry="1.3" fill="#0000ff"/><ellipse cx="145" cy="170.4" rx="1.49" ry="1.76" fill="#ffff00"/><ellipse cx="145" cy="170.4" rx="1.1" ry="1.3" fill="#ff0000"/><ellipse cx="146.4" cy="169.4" rx="1.49" ry="1.76" fill="#00ffff"/><ellipse cx="146.4" cy="169.4" rx="1.1" ry="1.3" fill="#0000ff"/><ellipse cx="155" cy="170.1" rx="1.49" ry="1.76" fill="#ffff00"/><ellipse cx="155" cy="170.1" rx="1.1" ry="1.3" fill="#ff0000"/><ellipse cx="156.4" cy="169.1" rx="1.49" ry="1.76" fill="#00ffff"/><ellipse cx="156.4" cy="169.1" rx="1.1" ry="1.3" fill="#0000ff"/><ellipse cx="116.4" cy="184.1" rx="1.49" ry="1.76" fill="#00ffff"/><ellipse cx="116.4" cy="184.1" rx="1.1" ry="1.3" fill="#0000ff"/><ellipse cx="117.8" cy="184.7" rx="1.49" ry="1.76" fill="#ffff00"/><ellipse cx="117.8" cy="184.7" rx="1.1" ry="1.3" fill="#ff0000"/><ellipse cx="124.6" cy="186.8" rx="1.49" ry="1.76" fill="#00ffff"/><ellipse cx="124.6" cy="186.8" rx="1.1" ry="1.3" fill="#0000ff"/><ellipse cx="126" cy="187.4" rx="1.49" ry="1.76" fill="#ffff00"/><ellipse cx="126" cy="187.4" rx="1.1" ry="1.3" fill="#ff0000"/><ellipse cx="133.9" cy="188.7" rx="1.49" ry="1.76" fill="#00ffff"/><ellipse cx="133.9" cy="188.7" rx="1.1" ry="1.3" fill="#0000ff"/><ellipse cx="135.3" cy="189.3" rx="1.49" ry="1.76" fill="#ffff00"/><ellipse cx="135.3" cy="189.3" rx="1.1" ry="1.3" fill="#ff0000"/><ellipse cx="142.7" cy="189.9" rx="1.49" ry="1.76" fill="#00ffff"/><ellipse cx="142.7" cy="189.9" rx="1.1" ry="1.3" fill="#0000ff"/><ellipse cx="144.1" cy="190.5" rx="1.49" ry="1.76" fill="#ffff00"/><ellipse cx="144.1" cy="190.5" rx="1.1" ry="1.3" fill="#ff0000"/><ellipse cx="153.1" cy="190.2" rx="1.49" ry="1.76" fill="#00ffff"/><ellipse cx="153.1" cy="190.2" rx="1.1" ry="1.3" fill="#0000ff"/><ellipse cx="154.5" cy="190.8" rx="1.49" ry="1.76" fill="#ffff00"/><ellipse cx="154.5" cy="190.8" rx="1.1" ry="1.3" fill="#ff0000"/><ellipse cx="161.9" cy="190.7" rx="1.49" ry="1.76" fill="#00ffff"/><ellipse cx="161.9" cy="190.7" rx="1.1" ry="1.3" fill="#0000ff"/><ellipse cx="163.3" cy="191.3" rx="1.49" ry="1.76" fill="#ffff00"/><ellipse cx="163.3" cy="191.3" rx="1.1" ry="1.3" fill="#ff0000"/><ellipse cx="126.8" cy="178.9" rx="1.2" ry="0.8" fill="#ffff00"/><ellipse cx="126.8" cy="180.2" rx="1.2" ry="0.8" fill="#00ffff"/><ellipse cx="126.8" cy="178.9" rx="0.5" ry="0.4" fill="#ff8000"/><ellipse cx="135" cy="178.9" rx="1.2" ry="0.8" fill="#ffff00"/><ellipse cx="135" cy="180.2" rx="1.2" ry="0.8" fill="#00ffff"/><ellipse cx="135" cy="178.9" rx="0.5" ry="0.4" fill="#ff8000"/><ellipse cx="143.4" cy="178.9" rx="1.2" ry="0.8" fill="#ffff00"/><ellipse cx="143.4" cy="180.2" rx="1.2" ry="0.8" fill="#00ffff"/><ellipse cx="143.4" cy="178.9" rx="0.5" ry="0.4" fill="#ff8000"/><ellipse cx="152.3" cy="178.9" rx="1.2" ry="0.8" fill="#ffff00"/><ellipse cx="152.3" cy="180.2" rx="1.2" ry="0.8" fill="#00ffff"/><ellipse cx="152.3" cy="178.9" rx="0.5" ry="0.4" fill="#ff8000"/><ellipse cx="160.4" cy="178.9" rx="1.2" ry="0.8" fill="#ffff00"/><ellipse cx="160.4" cy="180.2" rx="1.2" ry="0.8" fill="#00ffff"/><ellipse cx="160.4" cy="178.9" rx="0.5" ry="0.4" fill="#ff8000"/><ellipse cx="118.4" cy="179.3" rx="0.9" ry="0.9" fill="#ffff00"/><ellipse cx="118.4" cy="179.3" rx="0.6" ry="0.6" fill="#ff0000"/><ellipse cx="118.4" cy="180.5" rx="0.9" ry="0.9" fill="#00ffff"/><ellipse cx="118.4" cy="180.5" rx="0.6" ry="0.6" fill="#0000ff"/><ellipse cx="112.9" cy="179.1" rx="1.35" ry="1.2" fill="#00ffff"/><ellipse cx="112.9" cy="179.1" rx="0.9" ry="0.8" fill="#0000ff"/><ellipse cx="112.9" cy="180.8" rx="1.35" ry="1.2" fill="#ffff00"/><ellipse cx="112.9" cy="180.8" rx="0.9" ry="0.8" fill="#ff0000"/><circle cx="110.9" cy="179.9" r="1.1" fill="#ffffff"/></g></g>
<text x="133.15" y="199.0" font-family="Liberation Serif, serif" font-size="5.5" letter-spacing="0.12" text-anchor="middle" fill="#2a2a2a"><tspan font-style="italic">Γ</tspan> = 1.5, <tspan font-style="italic">λ</tspan> = 1.1</text>
<rect x="102.5" y="201.8" width="61.30" height="21.20" fill="#00ff00"/>
<g clip-path="url(#cv5)"><g filter="url(#b4)"><path d="M133,211.2 L164,210.6 L164,213.0 L133,211.8 Z" fill="#00ffff" /><path d="M133,215.0 L164,214.6 L164,217.0 L133,215.8 Z" fill="#ffff00" /><path d="M114,212.4 Q116,208.6 118,209.6 Q120,211 121,214.8" fill="none" stroke="#00ffff" stroke-width="2.2" /><path d="M114,212.4 Q116,208.6 118,209.6 Q120,211 121,214.8" fill="none" stroke="#0000ff" stroke-width="1.3" /><path d="M114,214.2 Q116.5,213.4 117.8,211.4" fill="none" stroke="#ffff00" stroke-width="1.8" /><path d="M114,214.2 Q116.5,213.4 117.8,211.4" fill="none" stroke="#ff0000" stroke-width="1" /><ellipse cx="122.8" cy="213.3" rx="1.35" ry="3" fill="#ffff00" transform="rotate(20 122.8 213.3)"/><ellipse cx="122.8" cy="213.3" rx="0.9" ry="2" fill="#ff0000" transform="rotate(20 122.8 213.3)"/><ellipse cx="126.5" cy="210.2" rx="1.8" ry="1.8" fill="#00ffff"/><ellipse cx="126.5" cy="210.2" rx="1.2" ry="1.2" fill="#0000ff"/><ellipse cx="129.5" cy="214.2" rx="2.55" ry="1.65" fill="#ffff00"/><ellipse cx="129.5" cy="214.2" rx="1.7" ry="1.1" fill="#ff0000"/><ellipse cx="133.1" cy="210.1" rx="2.6" ry="1.3" fill="#00ffff"/><ellipse cx="133.1" cy="210.1" rx="2" ry="1" fill="#0000ff"/><ellipse cx="139.8" cy="210.1" rx="2.6" ry="1.3" fill="#00ffff"/><ellipse cx="139.8" cy="210.1" rx="2" ry="1" fill="#0000ff"/><ellipse cx="146.4" cy="210.1" rx="2.6" ry="1.3" fill="#00ffff"/><ellipse cx="146.4" cy="210.1" rx="2" ry="1" fill="#0000ff"/><ellipse cx="152.7" cy="210.1" rx="2.6" ry="1.3" fill="#00ffff"/><ellipse cx="152.7" cy="210.1" rx="2" ry="1" fill="#0000ff"/><ellipse cx="158.9" cy="210.1" rx="2.6" ry="1.3" fill="#00ffff"/><ellipse cx="158.9" cy="210.1" rx="2" ry="1" fill="#0000ff"/><ellipse cx="164.5" cy="210.1" rx="2.6" ry="1.3" fill="#00ffff"/><ellipse cx="164.5" cy="210.1" rx="2" ry="1" fill="#0000ff"/><ellipse cx="135.3" cy="214.3" rx="2.6" ry="1.3" fill="#ffff00"/><ellipse cx="135.3" cy="214.3" rx="2" ry="1" fill="#ff0000"/><ellipse cx="142.7" cy="214.3" rx="2.6" ry="1.3" fill="#ffff00"/><ellipse cx="142.7" cy="214.3" rx="2" ry="1" fill="#ff0000"/><ellipse cx="149.3" cy="214.3" rx="2.6" ry="1.3" fill="#ffff00"/><ellipse cx="149.3" cy="214.3" rx="2" ry="1" fill="#ff0000"/><ellipse cx="156" cy="214.3" rx="2.6" ry="1.3" fill="#ffff00"/><ellipse cx="156" cy="214.3" rx="2" ry="1" fill="#ff0000"/><ellipse cx="161.9" cy="214.3" rx="2.6" ry="1.3" fill="#ffff00"/><ellipse cx="161.9" cy="214.3" rx="2" ry="1" fill="#ff0000"/><circle cx="113.5" cy="213.3" r="1.1" fill="#ffffff"/></g></g>
<text x="133.15" y="228.9" font-family="Liberation Serif, serif" font-size="5.5" letter-spacing="0.12" text-anchor="middle" fill="#2a2a2a"><tspan font-style="italic">Γ</tspan> = 0.5, <tspan font-style="italic">λ</tspan> = 1.1</text>
<rect x="170.8" y="33.8" width="62.40" height="30.40" fill="url(#g1r0)"/>
<g clip-path="url(#cm00)"><g filter="url(#b6)"><ellipse cx="187.5" cy="48.9" rx="5" ry="3.4" fill="#70f0d0"/><path d="M188,45.8 L189.93,45.8 L191.85,45.8 L193.78,45.8 L195.7,45.8 L197.62,45.8 L199.55,45.84 L201.47,45.9 L203.4,45.95 L205.32,46.01 L207.25,46.06 L209.17,46.12 L211.1,46.17 L213.03,46.23 L214.95,46.28 L216.88,46.34 L218.8,46.39 L220.72,46.45 L222.65,46.5 L224.57,46.56 L226.5,46.61 L228.42,46.67 L230.35,46.72 L232.27,46.78 L234.2,46.83 L234.2,50.77 L232.27,50.82 L230.35,50.88 L228.42,50.93 L226.5,50.99 L224.57,51.04 L222.65,51.1 L220.72,51.15 L218.8,51.21 L216.88,51.26 L214.95,51.32 L213.03,51.37 L211.1,51.43 L209.17,51.48 L207.25,51.54 L205.32,51.59 L203.4,51.65 L201.47,51.7 L199.55,51.76 L197.62,51.8 L195.7,51.8 L193.78,51.8 L191.85,51.8 L189.93,51.8 L188,51.8 Z" fill="#60e8e8" /><path d="M188,46.8 L189.93,46.8 L191.85,46.8 L193.78,46.8 L195.7,46.8 L197.62,46.8 L199.55,46.82 L201.47,46.84 L203.4,46.86 L205.32,46.88 L207.25,46.91 L209.17,46.93 L211.1,46.95 L213.03,46.97 L214.95,46.99 L216.88,47.02 L218.8,47.04 L220.72,47.06 L222.65,47.08 L224.57,47.1 L226.5,47.13 L228.42,47.15 L230.35,47.17 L232.27,47.19 L234.2,47.21 L234.2,50.39 L232.27,50.41 L230.35,50.43 L228.42,50.45 L226.5,50.47 L224.57,50.5 L222.65,50.52 L220.72,50.54 L218.8,50.56 L216.88,50.58 L214.95,50.61 L213.03,50.63 L211.1,50.65 L209.17,50.67 L207.25,50.69 L205.32,50.72 L203.4,50.74 L201.47,50.76 L199.55,50.78 L197.62,50.8 L195.7,50.8 L193.78,50.8 L191.85,50.8 L189.93,50.8 L188,50.8 Z" fill="#30c8ff" /><path d="M189,47.8 L190.88,47.8 L192.77,47.8 L194.65,47.8 L196.53,47.8 L198.42,47.8 L200.3,47.8 L202.18,47.8 L204.07,47.8 L205.95,47.8 L207.83,47.8 L209.72,47.8 L211.6,47.8 L213.48,47.8 L215.37,47.8 L217.25,47.8 L219.13,47.8 L221.02,47.8 L222.9,47.8 L224.78,47.8 L226.67,47.8 L228.55,47.8 L230.43,47.8 L232.32,47.8 L234.2,47.8 L234.2,49.8 L232.32,49.8 L230.43,49.8 L228.55,49.8 L226.67,49.8 L224.78,49.8 L222.9,49.8 L221.02,49.8 L219.13,49.8 L217.25,49.8 L215.37,49.8 L213.48,49.8 L211.6,49.8 L209.72,49.8 L207.83,49.8 L205.95,49.8 L204.07,49.8 L202.18,49.8 L200.3,49.8 L198.42,49.8 L196.53,49.8 L194.65,49.8 L192.77,49.8 L190.88,49.8 L189,49.8 Z" fill="#0a68ff" /><path d="M212,48.2 L212.93,48.18 L213.85,48.16 L214.78,48.13 L215.7,48.11 L216.62,48.09 L217.55,48.07 L218.47,48.05 L219.4,48.02 L220.32,48 L221.25,47.98 L222.17,47.96 L223.1,47.94 L224.03,47.91 L224.95,47.89 L225.88,47.87 L226.8,47.85 L227.72,47.83 L228.65,47.8 L229.57,47.78 L230.5,47.76 L231.42,47.74 L232.35,47.72 L233.27,47.69 L234.2,47.67 L234.2,49.93 L233.27,49.91 L232.35,49.88 L231.42,49.86 L230.5,49.84 L229.57,49.82 L228.65,49.8 L227.72,49.77 L226.8,49.75 L225.88,49.73 L224.95,49.71 L224.03,49.69 L223.1,49.66 L222.17,49.64 L221.25,49.62 L220.32,49.6 L219.4,49.58 L218.47,49.55 L217.55,49.53 L216.62,49.51 L215.7,49.49 L214.78,49.47 L213.85,49.44 L212.93,49.42 L212,49.4 Z" fill="#0040ff" /><ellipse cx="187.2" cy="46.2" rx="2.1" ry="1.5" fill="#ffff00"/><ellipse cx="187.2" cy="51.8" rx="2.1" ry="1.5" fill="#ffff00"/><ellipse cx="187.2" cy="46.6" rx="1.2" ry="0.8" fill="#ff8000"/><ellipse cx="187.2" cy="51.4" rx="1.2" ry="0.8" fill="#ff8000"/><ellipse cx="187.3" cy="49" rx="3.1" ry="1.3" fill="#00008f"/></g></g>
<rect x="240.2" y="33.8" width="62.90" height="30.40" fill="#80ff80"/>
<g clip-path="url(#cm01)"><g filter="url(#b4)"><ellipse cx="260.5" cy="47" rx="1.4" ry="1.24" fill="#ffff00" transform="rotate(-30 260.5 47)"/><ellipse cx="260.5" cy="47" rx="0.9" ry="0.8" fill="#ff0000" transform="rotate(-30 260.5 47)"/><ellipse cx="260.5" cy="50.8" rx="1.4" ry="1.24" fill="#00ffff" transform="rotate(30 260.5 50.8)"/><ellipse cx="260.5" cy="50.8" rx="0.9" ry="0.8" fill="#0000ff" transform="rotate(30 260.5 50.8)"/><ellipse cx="264.6" cy="46.7" rx="1.98" ry="2.47" fill="#00ffff"/><ellipse cx="264.6" cy="46.7" rx="1.2" ry="1.5" fill="#0000ff"/><ellipse cx="264.6" cy="51.2" rx="1.98" ry="2.47" fill="#ffff00"/><ellipse cx="264.6" cy="51.2" rx="1.2" ry="1.5" fill="#ff0000"/><ellipse cx="269" cy="46.7" rx="1.98" ry="2.47" fill="#ffff00"/><ellipse cx="269" cy="46.7" rx="1.2" ry="1.5" fill="#ff0000"/><ellipse cx="269" cy="51.2" rx="1.98" ry="2.47" fill="#00ffff"/><ellipse cx="269" cy="51.2" rx="1.2" ry="1.5" fill="#0000ff"/><ellipse cx="273.4" cy="46.7" rx="1.98" ry="2.47" fill="#00ffff"/><ellipse cx="273.4" cy="46.7" rx="1.2" ry="1.5" fill="#0000ff"/><ellipse cx="273.4" cy="51.2" rx="1.98" ry="2.47" fill="#ffff00"/><ellipse cx="273.4" cy="51.2" rx="1.2" ry="1.5" fill="#ff0000"/><ellipse cx="278.2" cy="46.7" rx="1.98" ry="2.47" fill="#ffff00"/><ellipse cx="278.2" cy="46.7" rx="1.2" ry="1.5" fill="#ff0000"/><ellipse cx="278.2" cy="51.2" rx="1.98" ry="2.47" fill="#00ffff"/><ellipse cx="278.2" cy="51.2" rx="1.2" ry="1.5" fill="#0000ff"/><ellipse cx="283.1" cy="46.7" rx="1.98" ry="2.47" fill="#00ffff"/><ellipse cx="283.1" cy="46.7" rx="1.2" ry="1.5" fill="#0000ff"/><ellipse cx="283.1" cy="51.2" rx="1.98" ry="2.47" fill="#ffff00"/><ellipse cx="283.1" cy="51.2" rx="1.2" ry="1.5" fill="#ff0000"/><ellipse cx="287.8" cy="46.7" rx="1.98" ry="2.47" fill="#ffff00"/><ellipse cx="287.8" cy="46.7" rx="1.2" ry="1.5" fill="#ff0000"/><ellipse cx="287.8" cy="51.2" rx="1.98" ry="2.47" fill="#00ffff"/><ellipse cx="287.8" cy="51.2" rx="1.2" ry="1.5" fill="#0000ff"/><ellipse cx="292.6" cy="46.7" rx="1.98" ry="2.47" fill="#00ffff"/><ellipse cx="292.6" cy="46.7" rx="1.2" ry="1.5" fill="#0000ff"/><ellipse cx="292.6" cy="51.2" rx="1.98" ry="2.47" fill="#ffff00"/><ellipse cx="292.6" cy="51.2" rx="1.2" ry="1.5" fill="#ff0000"/><ellipse cx="297.3" cy="46.7" rx="1.8" ry="2.25" fill="#ffff00"/><ellipse cx="297.3" cy="46.7" rx="0.96" ry="1.2" fill="#ff8000"/><ellipse cx="297.3" cy="51.2" rx="1.8" ry="2.25" fill="#00ffff"/><ellipse cx="297.3" cy="51.2" rx="0.96" ry="1.2" fill="#0080ff"/><ellipse cx="301.9" cy="46.7" rx="1.98" ry="2.47" fill="#00ffff"/><ellipse cx="301.9" cy="46.7" rx="1.2" ry="1.5" fill="#0000ff"/><ellipse cx="301.9" cy="51.2" rx="1.98" ry="2.47" fill="#ffff00"/><ellipse cx="301.9" cy="51.2" rx="1.2" ry="1.5" fill="#ff0000"/><ellipse cx="256.7" cy="48.9" rx="2.4" ry="2.2" fill="#ffff00"/><ellipse cx="256.7" cy="48.9" rx="1.35" ry="1.3" fill="#e00000" stroke="#000080" stroke-width="0.75"/></g></g>
<rect x="309.5" y="33.8" width="63.10" height="30.40" fill="#80ff80"/>
<g clip-path="url(#cm02)"><g filter="url(#b4)"><ellipse cx="334" cy="45.6" rx="1" ry="1.9" fill="#ffff00" transform="rotate(-35 334 45.6)" opacity="1.0"/><ellipse cx="334" cy="52.2" rx="1" ry="1.9" fill="#ffff00" transform="rotate(35 334 52.2)" opacity="1.0"/><ellipse cx="336.45" cy="45.5" rx="1" ry="1.9" fill="#00ffff" transform="rotate(-35 336.45 45.5)" opacity="0.94"/><ellipse cx="336.45" cy="52.3" rx="1" ry="1.9" fill="#00ffff" transform="rotate(35 336.45 52.3)" opacity="0.94"/><ellipse cx="338.9" cy="45.4" rx="1" ry="1.9" fill="#ffff00" transform="rotate(-35 338.9 45.4)" opacity="0.88"/><ellipse cx="338.9" cy="52.4" rx="1" ry="1.9" fill="#ffff00" transform="rotate(35 338.9 52.4)" opacity="0.88"/><ellipse cx="341.35" cy="45.3" rx="1" ry="1.9" fill="#00ffff" transform="rotate(-35 341.35 45.3)" opacity="0.82"/><ellipse cx="341.35" cy="52.5" rx="1" ry="1.9" fill="#00ffff" transform="rotate(35 341.35 52.5)" opacity="0.82"/><ellipse cx="343.8" cy="45.2" rx="1" ry="1.9" fill="#ffff00" transform="rotate(-35 343.8 45.2)" opacity="0.76"/><ellipse cx="343.8" cy="52.6" rx="1" ry="1.9" fill="#ffff00" transform="rotate(35 343.8 52.6)" opacity="0.76"/><ellipse cx="346.25" cy="45.1" rx="1" ry="1.9" fill="#00ffff" transform="rotate(-35 346.25 45.1)" opacity="0.7"/><ellipse cx="346.25" cy="52.7" rx="1" ry="1.9" fill="#00ffff" transform="rotate(35 346.25 52.7)" opacity="0.7"/><ellipse cx="348.7" cy="45" rx="1" ry="1.9" fill="#ffff00" transform="rotate(-35 348.7 45)" opacity="0.64"/><ellipse cx="348.7" cy="52.8" rx="1" ry="1.9" fill="#ffff00" transform="rotate(35 348.7 52.8)" opacity="0.64"/><ellipse cx="351.15" cy="44.9" rx="1" ry="1.9" fill="#00ffff" transform="rotate(-35 351.15 44.9)" opacity="0.58"/><ellipse cx="351.15" cy="52.9" rx="1" ry="1.9" fill="#00ffff" transform="rotate(35 351.15 52.9)" opacity="0.58"/><ellipse cx="353.6" cy="44.8" rx="1" ry="1.9" fill="#ffff00" transform="rotate(-35 353.6 44.8)" opacity="0.52"/><ellipse cx="353.6" cy="53" rx="1" ry="1.9" fill="#ffff00" transform="rotate(35 353.6 53)" opacity="0.52"/><ellipse cx="356.05" cy="44.7" rx="1" ry="1.9" fill="#00ffff" transform="rotate(-35 356.05 44.7)" opacity="0.46"/><ellipse cx="356.05" cy="53.1" rx="1" ry="1.9" fill="#00ffff" transform="rotate(35 356.05 53.1)" opacity="0.46"/><ellipse cx="358.5" cy="44.6" rx="1" ry="1.9" fill="#ffff00" transform="rotate(-35 358.5 44.6)" opacity="0.4"/><ellipse cx="358.5" cy="53.2" rx="1" ry="1.9" fill="#ffff00" transform="rotate(35 358.5 53.2)" opacity="0.4"/><ellipse cx="360.95" cy="44.5" rx="1" ry="1.9" fill="#00ffff" transform="rotate(-35 360.95 44.5)" opacity="0.34"/><ellipse cx="360.95" cy="53.3" rx="1" ry="1.9" fill="#00ffff" transform="rotate(35 360.95 53.3)" opacity="0.34"/><ellipse cx="363.4" cy="44.4" rx="1" ry="1.9" fill="#ffff00" transform="rotate(-35 363.4 44.4)" opacity="0.28"/><ellipse cx="363.4" cy="53.4" rx="1" ry="1.9" fill="#ffff00" transform="rotate(35 363.4 53.4)" opacity="0.28"/><ellipse cx="365.85" cy="44.3" rx="1" ry="1.9" fill="#00ffff" transform="rotate(-35 365.85 44.3)" opacity="0.22"/><ellipse cx="365.85" cy="53.5" rx="1" ry="1.9" fill="#00ffff" transform="rotate(35 365.85 53.5)" opacity="0.22"/><ellipse cx="368.3" cy="44.2" rx="1" ry="1.9" fill="#ffff00" transform="rotate(-35 368.3 44.2)" opacity="0.16"/><ellipse cx="368.3" cy="53.6" rx="1" ry="1.9" fill="#ffff00" transform="rotate(35 368.3 53.6)" opacity="0.16"/><ellipse cx="370.75" cy="44.1" rx="1" ry="1.9" fill="#00ffff" transform="rotate(-35 370.75 44.1)" opacity="0.15"/><ellipse cx="370.75" cy="53.7" rx="1" ry="1.9" fill="#00ffff" transform="rotate(35 370.75 53.7)" opacity="0.15"/><ellipse cx="329.8" cy="46.1" rx="1.4" ry="1.55" fill="#ffff00"/><ellipse cx="329.8" cy="46.1" rx="0.9" ry="1" fill="#ff0000"/><ellipse cx="332.2" cy="45.6" rx="1.24" ry="1.55" fill="#00ffff"/><ellipse cx="332.2" cy="45.6" rx="0.8" ry="1" fill="#0000ff"/><ellipse cx="329.8" cy="51.7" rx="1.4" ry="1.55" fill="#ffff00"/><ellipse cx="329.8" cy="51.7" rx="0.9" ry="1" fill="#ff0000"/><ellipse cx="332.2" cy="52.2" rx="1.24" ry="1.55" fill="#00ffff"/><ellipse cx="332.2" cy="52.2" rx="0.8" ry="1" fill="#0000ff"/><ellipse cx="330.7" cy="48.9" rx="1.12" ry="2.1" fill="#00ffff"/><ellipse cx="330.7" cy="48.9" rx="0.8" ry="1.5" fill="#0000ff"/><ellipse cx="333.05" cy="48.9" rx="1.12" ry="2.1" fill="#ffff00"/><ellipse cx="333.05" cy="48.9" rx="0.8" ry="1.5" fill="#ff0000"/><ellipse cx="335.4" cy="48.9" rx="1.12" ry="2.1" fill="#00ffff"/><ellipse cx="335.4" cy="48.9" rx="0.8" ry="1.5" fill="#0000ff"/><ellipse cx="337.75" cy="48.9" rx="1.12" ry="2.1" fill="#ffff00"/><ellipse cx="337.75" cy="48.9" rx="0.8" ry="1.5" fill="#ff0000"/><ellipse cx="340.1" cy="48.9" rx="1.12" ry="2.1" fill="#00ffff"/><ellipse cx="340.1" cy="48.9" rx="0.8" ry="1.5" fill="#0000ff"/><ellipse cx="342.45" cy="48.9" rx="1.12" ry="2.1" fill="#ffff00"/><ellipse cx="342.45" cy="48.9" rx="0.8" ry="1.5" fill="#ff0000"/><ellipse cx="344.8" cy="48.9" rx="1.12" ry="2.1" fill="#00ffff"/><ellipse cx="344.8" cy="48.9" rx="0.8" ry="1.5" fill="#0000ff"/><ellipse cx="347.15" cy="48.9" rx="1.12" ry="2.1" fill="#ffff00"/><ellipse cx="347.15" cy="48.9" rx="0.8" ry="1.5" fill="#ff0000"/><ellipse cx="349.5" cy="48.9" rx="1.12" ry="2.1" fill="#00ffff"/><ellipse cx="349.5" cy="48.9" rx="0.8" ry="1.5" fill="#0000ff"/><ellipse cx="351.85" cy="48.9" rx="1.12" ry="2.1" fill="#ffff00"/><ellipse cx="351.85" cy="48.9" rx="0.8" ry="1.5" fill="#ff0000"/><ellipse cx="354.2" cy="48.9" rx="1.12" ry="2.1" fill="#00ffff"/><ellipse cx="354.2" cy="48.9" rx="0.8" ry="1.5" fill="#0000ff"/><ellipse cx="356.55" cy="48.9" rx="1.12" ry="2.1" fill="#ffff00"/><ellipse cx="356.55" cy="48.9" rx="0.8" ry="1.5" fill="#ff0000"/><ellipse cx="358.9" cy="48.9" rx="1.12" ry="2.1" fill="#00ffff"/><ellipse cx="358.9" cy="48.9" rx="0.8" ry="1.5" fill="#0000ff"/><ellipse cx="361.25" cy="48.9" rx="1.12" ry="2.1" fill="#ffff00"/><ellipse cx="361.25" cy="48.9" rx="0.8" ry="1.5" fill="#ff0000"/><ellipse cx="363.6" cy="48.9" rx="1.12" ry="2.1" fill="#00ffff"/><ellipse cx="363.6" cy="48.9" rx="0.8" ry="1.5" fill="#0000ff"/><ellipse cx="365.95" cy="48.9" rx="1.12" ry="2.1" fill="#ffff00"/><ellipse cx="365.95" cy="48.9" rx="0.8" ry="1.5" fill="#ff0000"/><ellipse cx="368.3" cy="48.9" rx="1.12" ry="2.1" fill="#00ffff"/><ellipse cx="368.3" cy="48.9" rx="0.8" ry="1.5" fill="#0000ff"/><ellipse cx="370.65" cy="48.9" rx="1.12" ry="2.1" fill="#ffff00"/><ellipse cx="370.65" cy="48.9" rx="0.8" ry="1.5" fill="#ff0000"/><ellipse cx="326.2" cy="48.9" rx="1.6" ry="1.9" fill="#8f0000"/><ellipse cx="325.6" cy="48.9" rx="0.7" ry="1.2" fill="#00008f"/><ellipse cx="328.4" cy="48.9" rx="0.9" ry="1.6" fill="#00008f"/></g></g>
<rect x="379.6" y="33.8" width="62.30" height="30.40" fill="#80ff80"/>
<g clip-path="url(#cm03)"><g filter="url(#b4)"><path d="M408.0,44.2 L410.2,48.6 L408.0,53.0" fill="none" stroke="#ffff00" stroke-width="0.85" opacity="0.75" /><path d="M410.2,44.2 L412.4,48.6 L410.2,53.0" fill="none" stroke="#00ffff" stroke-width="0.85" opacity="0.71" /><path d="M412.4,44.2 L414.6,48.6 L412.4,53.0" fill="none" stroke="#ffff00" stroke-width="0.85" opacity="0.67" /><path d="M414.6,44.2 L416.8,48.6 L414.6,53.0" fill="none" stroke="#00ffff" stroke-width="0.85" opacity="0.63" /><path d="M416.8,44.2 L419.0,48.6 L416.8,53.0" fill="none" stroke="#ffff00" stroke-width="0.85" opacity="0.59" /><path d="M419.0,44.2 L421.2,48.6 L419.0,53.0" fill="none" stroke="#00ffff" stroke-width="0.85" opacity="0.55" /><path d="M421.2,44.2 L423.4,48.6 L421.2,53.0" fill="none" stroke="#ffff00" stroke-width="0.85" opacity="0.51" /><path d="M423.4,44.2 L425.6,48.6 L423.4,53.0" fill="none" stroke="#00ffff" stroke-width="0.85" opacity="0.47" /><path d="M425.6,44.2 L427.8,48.6 L425.6,53.0" fill="none" stroke="#ffff00" stroke-width="0.85" opacity="0.43" /><path d="M427.8,44.2 L430.0,48.6 L427.8,53.0" fill="none" stroke="#00ffff" stroke-width="0.85" opacity="0.39" /><path d="M430.0,44.2 L432.2,48.6 L430.0,53.0" fill="none" stroke="#ffff00" stroke-width="0.85" opacity="0.35" /><path d="M432.2,44.2 L434.4,48.6 L432.2,53.0" fill="none" stroke="#00ffff" stroke-width="0.85" opacity="0.31" /><path d="M434.4,44.2 L436.6,48.6 L434.4,53.0" fill="none" stroke="#ffff00" stroke-width="0.85" opacity="0.27" /><path d="M436.6,44.2 L438.8,48.6 L436.6,53.0" fill="none" stroke="#00ffff" stroke-width="0.85" opacity="0.23" /><path d="M438.8,44.2 L441.0,48.6 L438.8,53.0" fill="none" stroke="#ffff00" stroke-width="0.85" opacity="0.2" /><ellipse cx="398" cy="47.6" rx="2.33" ry="1.63" fill="#0080ff" transform="rotate(-15 398 47.6)"/><ellipse cx="398" cy="47.6" rx="1.5" ry="1.05" fill="#00008f" transform="rotate(-15 398 47.6)"/><ellipse cx="399.7" cy="47.19" rx="2.33" ry="1.63" fill="#ff8000" transform="rotate(-15 399.7 47.19)"/><ellipse cx="399.7" cy="47.19" rx="1.5" ry="1.05" fill="#8f0000" transform="rotate(-15 399.7 47.19)"/><ellipse cx="401.4" cy="46.79" rx="2.33" ry="1.63" fill="#00ffff" transform="rotate(-15 401.4 46.79)"/><ellipse cx="401.4" cy="46.79" rx="1.5" ry="1.05" fill="#0000ff" transform="rotate(-15 401.4 46.79)"/><ellipse cx="403.11" cy="46.38" rx="2.33" ry="1.63" fill="#ffff00" transform="rotate(-15 403.11 46.38)"/><ellipse cx="403.11" cy="46.38" rx="1.5" ry="1.05" fill="#ff0000" transform="rotate(-15 403.11 46.38)"/><ellipse cx="404.81" cy="45.98" rx="1.5" ry="1.05" fill="#0080ff" transform="rotate(-15 404.81 45.98)"/><ellipse cx="406.51" cy="45.57" rx="1.5" ry="1.05" fill="#ff8000" transform="rotate(-15 406.51 45.57)"/><ellipse cx="408.21" cy="45.17" rx="2.33" ry="1.63" fill="#0080ff" transform="rotate(-15 408.21 45.17)"/><ellipse cx="408.21" cy="45.17" rx="1.5" ry="1.05" fill="#00008f" transform="rotate(-15 408.21 45.17)"/><ellipse cx="398" cy="50" rx="2.33" ry="1.63" fill="#ff8000" transform="rotate(15 398 50)"/><ellipse cx="398" cy="50" rx="1.5" ry="1.05" fill="#8f0000" transform="rotate(15 398 50)"/><ellipse cx="399.71" cy="50.37" rx="2.33" ry="1.63" fill="#0080ff" transform="rotate(15 399.71 50.37)"/><ellipse cx="399.71" cy="50.37" rx="1.5" ry="1.05" fill="#00008f" transform="rotate(15 399.71 50.37)"/><ellipse cx="401.42" cy="50.75" rx="2.33" ry="1.63" fill="#ffff00" transform="rotate(15 401.42 50.75)"/><ellipse cx="401.42" cy="50.75" rx="1.5" ry="1.05" fill="#ff0000" transform="rotate(15 401.42 50.75)"/><ellipse cx="403.13" cy="51.12" rx="2.33" ry="1.63" fill="#00ffff" transform="rotate(15 403.13 51.12)"/><ellipse cx="403.13" cy="51.12" rx="1.5" ry="1.05" fill="#0000ff" transform="rotate(15 403.13 51.12)"/><ellipse cx="404.84" cy="51.5" rx="1.5" ry="1.05" fill="#ff8000" transform="rotate(15 404.84 51.5)"/><ellipse cx="406.55" cy="51.87" rx="1.5" ry="1.05" fill="#0080ff" transform="rotate(15 406.55 51.87)"/><ellipse cx="408.26" cy="52.25" rx="2.33" ry="1.63" fill="#ff8000" transform="rotate(15 408.26 52.25)"/><ellipse cx="408.26" cy="52.25" rx="1.5" ry="1.05" fill="#8f0000" transform="rotate(15 408.26 52.25)"/><ellipse cx="395.6" cy="48.8" rx="2" ry="1.7" fill="#00008f"/><ellipse cx="397.4" cy="48" rx="0.9" ry="0.8" fill="#8f0000"/><ellipse cx="397" cy="49.9" rx="0.8" ry="0.7" fill="#8f0000"/></g></g>
<rect x="170.8" y="65.9" width="62.40" height="30.50" fill="url(#g1r1)"/>
<g clip-path="url(#cm10)"><g filter="url(#b6)"><path d="M187.2,78.3 L189.16,77.57 L191.12,77.22 L193.07,76.96 L195.03,76.75 L196.99,76.55 L198.95,76.38 L200.91,76.23 L202.87,76.08 L204.82,75.94 L206.78,75.81 L208.74,75.69 L210.7,75.57 L212.66,75.46 L214.62,75.35 L216.57,75.25 L218.53,75.14 L220.49,75.05 L222.45,74.95 L224.41,74.86 L226.37,74.77 L228.32,74.68 L230.28,74.59 L232.24,74.51 L234.2,74.43 L234.2,88.17 L232.24,88.09 L230.28,88.01 L228.32,87.92 L226.37,87.83 L224.41,87.74 L222.45,87.65 L220.49,87.55 L218.53,87.46 L216.57,87.35 L214.62,87.25 L212.66,87.14 L210.7,87.03 L208.74,86.91 L206.78,86.79 L204.82,86.66 L202.87,86.52 L200.91,86.37 L198.95,86.22 L196.99,86.05 L195.03,85.85 L193.07,85.64 L191.12,85.38 L189.16,85.03 L187.2,84.3 Z" fill="#ffff00" /><path d="M187.5,79.1 L189.45,78.64 L191.39,78.45 L193.34,78.31 L195.28,78.19 L197.23,78.08 L199.18,77.98 L201.12,77.89 L203.07,77.81 L205.01,77.73 L206.96,77.65 L208.9,77.58 L210.85,77.52 L212.8,77.45 L214.74,77.39 L216.69,77.33 L218.63,77.27 L220.58,77.21 L222.52,77.16 L224.47,77.11 L226.42,77.05 L228.36,77 L230.31,76.95 L232.25,76.91 L234.2,76.86 L234.2,85.74 L232.25,85.69 L230.31,85.65 L228.36,85.6 L226.42,85.55 L224.47,85.49 L222.52,85.44 L220.58,85.39 L218.63,85.33 L216.69,85.27 L214.74,85.21 L212.8,85.15 L210.85,85.08 L208.9,85.02 L206.96,84.95 L205.01,84.87 L203.07,84.79 L201.12,84.71 L199.18,84.62 L197.23,84.52 L195.28,84.41 L193.34,84.29 L191.39,84.15 L189.45,83.96 L187.5,83.5 Z" fill="#90ff70" /><path d="M187.8,79.24 L189.73,78.95 L191.67,78.79 L193.6,78.66 L195.53,78.55 L197.47,78.46 L199.4,78.37 L201.33,78.29 L203.27,78.22 L205.2,78.15 L207.13,78.08 L209.07,78.02 L211,77.95 L212.93,77.9 L214.87,77.84 L216.8,77.79 L218.73,77.73 L220.67,77.68 L222.6,77.63 L224.53,77.59 L226.47,77.54 L228.4,77.49 L230.33,77.45 L232.27,77.41 L234.2,77.36 L234.2,85.24 L232.27,85.19 L230.33,85.15 L228.4,85.11 L226.47,85.06 L224.53,85.01 L222.6,84.97 L220.67,84.92 L218.73,84.87 L216.8,84.81 L214.87,84.76 L212.93,84.7 L211,84.65 L209.07,84.58 L207.13,84.52 L205.2,84.45 L203.27,84.38 L201.33,84.31 L199.4,84.23 L197.47,84.14 L195.53,84.05 L193.6,83.94 L191.67,83.81 L189.73,83.65 L187.8,83.36 Z" fill="#00ffff" /><path d="M188,79.76 L189.93,79.6 L191.85,79.5 L193.78,79.41 L195.7,79.35 L197.62,79.28 L199.55,79.23 L201.47,79.18 L203.4,79.13 L205.32,79.08 L207.25,79.04 L209.17,79 L211.1,78.96 L213.03,78.92 L214.95,78.88 L216.88,78.85 L218.8,78.82 L220.72,78.78 L222.65,78.75 L224.57,78.72 L226.5,78.69 L228.42,78.66 L230.35,78.63 L232.27,78.6 L234.2,78.58 L234.2,84.02 L232.27,84 L230.35,83.97 L228.42,83.94 L226.5,83.91 L224.57,83.88 L222.65,83.85 L220.72,83.82 L218.8,83.78 L216.88,83.75 L214.95,83.72 L213.03,83.68 L211.1,83.64 L209.17,83.6 L207.25,83.56 L205.32,83.52 L203.4,83.47 L201.47,83.42 L199.55,83.37 L197.62,83.32 L195.7,83.25 L193.78,83.19 L191.85,83.1 L189.93,83 L188,82.84 Z" fill="#0060ff" /><path d="M188.5,80.19 L190.4,80.18 L192.31,80.17 L194.21,80.16 L196.12,80.14 L198.02,80.13 L199.93,80.12 L201.83,80.1 L203.73,80.09 L205.64,80.08 L207.54,80.07 L209.45,80.05 L211.35,80.04 L213.25,80.03 L215.16,80.02 L217.06,80 L218.97,79.99 L220.87,79.98 L222.77,79.96 L224.68,79.95 L226.58,79.94 L228.49,79.93 L230.39,79.91 L232.3,79.9 L234.2,79.89 L234.2,82.71 L232.3,82.7 L230.39,82.69 L228.49,82.67 L226.58,82.66 L224.68,82.65 L222.77,82.64 L220.87,82.62 L218.97,82.61 L217.06,82.6 L215.16,82.58 L213.25,82.57 L211.35,82.56 L209.45,82.55 L207.54,82.53 L205.64,82.52 L203.73,82.51 L201.83,82.5 L199.93,82.48 L198.02,82.47 L196.12,82.46 L194.21,82.44 L192.31,82.43 L190.4,82.42 L188.5,82.41 Z" fill="#0000d0" /><path d="M188.5,80.1 L189.1,80.1 L189.71,80.1 L190.31,80.1 L190.92,80.1 L191.52,80.1 L192.12,80.1 L192.73,80.1 L193.33,80.1 L193.94,80.1 L194.54,80.1 L195.15,80.1 L195.75,80.1 L196.35,80.1 L196.96,80.1 L197.56,80.1 L198.17,80.1 L198.77,80.1 L199.38,80.1 L199.98,80.1 L200.58,80.1 L201.19,80.1 L201.79,80.1 L202.4,80.1 L203,80.1 L203,82.5 L202.4,82.5 L201.79,82.5 L201.19,82.5 L200.58,82.5 L199.98,82.5 L199.38,82.5 L198.77,82.5 L198.17,82.5 L197.56,82.5 L196.96,82.5 L196.35,82.5 L195.75,82.5 L195.15,82.5 L194.54,82.5 L193.94,82.5 L193.33,82.5 L192.73,82.5 L192.12,82.5 L191.52,82.5 L190.92,82.5 L190.31,82.5 L189.71,82.5 L189.1,82.5 L188.5,82.5 Z" fill="#00008f" /><path d="M188.2,78.0 Q186.2,78.6 186.6,80.2" fill="none" stroke="#ff0000" stroke-width="1.5" /><path d="M188.2,84.6 Q186.2,84.0 186.6,82.4" fill="none" stroke="#ff0000" stroke-width="1.5" /><ellipse cx="183.6" cy="81.2" rx="1.1" ry="0.8" fill="#0080ff"/></g></g>
<rect x="240.2" y="65.9" width="62.90" height="30.50" fill="#80ff80"/>
<g clip-path="url(#cm11)"><g filter="url(#b4)"><ellipse cx="270.5" cy="76.6" rx="1.47" ry="4.96" fill="#00ffff" transform="rotate(42 270.5 76.6)"/><ellipse cx="270.5" cy="76.6" rx="0.95" ry="3.2" fill="#0000ff" transform="rotate(42 270.5 76.6)"/><ellipse cx="274.18" cy="76.23" rx="1.47" ry="4.96" fill="#ffff00" transform="rotate(42 274.18 76.23)"/><ellipse cx="274.18" cy="76.23" rx="0.95" ry="3.2" fill="#ff0000" transform="rotate(42 274.18 76.23)"/><ellipse cx="277.86" cy="75.85" rx="1.47" ry="4.96" fill="#00ffff" transform="rotate(42 277.86 75.85)"/><ellipse cx="277.86" cy="75.85" rx="0.95" ry="3.2" fill="#0000ff" transform="rotate(42 277.86 75.85)"/><ellipse cx="281.54" cy="75.48" rx="1.47" ry="4.96" fill="#ffff00" transform="rotate(42 281.54 75.48)"/><ellipse cx="281.54" cy="75.48" rx="0.95" ry="3.2" fill="#ff0000" transform="rotate(42 281.54 75.48)"/><ellipse cx="285.22" cy="75.11" rx="1.47" ry="4.96" fill="#00ffff" transform="rotate(42 285.22 75.11)"/><ellipse cx="285.22" cy="75.11" rx="0.95" ry="3.2" fill="#0000ff" transform="rotate(42 285.22 75.11)"/><ellipse cx="288.91" cy="74.73" rx="1.47" ry="4.96" fill="#ffff00" transform="rotate(42 288.91 74.73)"/><ellipse cx="288.91" cy="74.73" rx="0.95" ry="3.2" fill="#ff0000" transform="rotate(42 288.91 74.73)"/><ellipse cx="292.59" cy="74.36" rx="1.05" ry="3.2" fill="#00ffff" transform="rotate(42 292.59 74.36)" opacity="0.99"/><ellipse cx="296.27" cy="73.98" rx="1.05" ry="3.2" fill="#ffff00" transform="rotate(42 296.27 73.98)" opacity="0.96"/><ellipse cx="299.95" cy="73.61" rx="1.05" ry="3.2" fill="#00ffff" transform="rotate(42 299.95 73.61)" opacity="0.93"/><ellipse cx="303.63" cy="73.24" rx="1.05" ry="3.2" fill="#ffff00" transform="rotate(42 303.63 73.24)" opacity="0.9"/><ellipse cx="270.5" cy="86.4" rx="1.47" ry="4.96" fill="#00ffff" transform="rotate(-42 270.5 86.4)"/><ellipse cx="270.5" cy="86.4" rx="0.95" ry="3.2" fill="#0000ff" transform="rotate(-42 270.5 86.4)"/><ellipse cx="274.18" cy="86.77" rx="1.47" ry="4.96" fill="#ffff00" transform="rotate(-42 274.18 86.77)"/><ellipse cx="274.18" cy="86.77" rx="0.95" ry="3.2" fill="#ff0000" transform="rotate(-42 274.18 86.77)"/><ellipse cx="277.86" cy="87.15" rx="1.47" ry="4.96" fill="#00ffff" transform="rotate(-42 277.86 87.15)"/><ellipse cx="277.86" cy="87.15" rx="0.95" ry="3.2" fill="#0000ff" transform="rotate(-42 277.86 87.15)"/><ellipse cx="281.54" cy="87.52" rx="1.47" ry="4.96" fill="#ffff00" transform="rotate(-42 281.54 87.52)"/><ellipse cx="281.54" cy="87.52" rx="0.95" ry="3.2" fill="#ff0000" transform="rotate(-42 281.54 87.52)"/><ellipse cx="285.22" cy="87.89" rx="1.47" ry="4.96" fill="#00ffff" transform="rotate(-42 285.22 87.89)"/><ellipse cx="285.22" cy="87.89" rx="0.95" ry="3.2" fill="#0000ff" transform="rotate(-42 285.22 87.89)"/><ellipse cx="288.91" cy="88.27" rx="1.47" ry="4.96" fill="#ffff00" transform="rotate(-42 288.91 88.27)"/><ellipse cx="288.91" cy="88.27" rx="0.95" ry="3.2" fill="#ff0000" transform="rotate(-42 288.91 88.27)"/><ellipse cx="292.59" cy="88.64" rx="1.05" ry="3.2" fill="#00ffff" transform="rotate(-42 292.59 88.64)" opacity="0.99"/><ellipse cx="296.27" cy="89.02" rx="1.05" ry="3.2" fill="#ffff00" transform="rotate(-42 296.27 89.02)" opacity="0.96"/><ellipse cx="299.95" cy="89.39" rx="1.05" ry="3.2" fill="#00ffff" transform="rotate(-42 299.95 89.39)" opacity="0.93"/><ellipse cx="303.63" cy="89.76" rx="1.05" ry="3.2" fill="#ffff00" transform="rotate(-42 303.63 89.76)" opacity="0.9"/><path d="M261.8,76.9 L258.4,81.5 L261.8,86.1" fill="none" stroke="#ffff00" stroke-width="2.9" stroke-linejoin="round" stroke-linecap="round"/><path d="M265.9,76.4 L262.1,81.5 L265.9,86.6" fill="none" stroke="#00ffff" stroke-width="2.9" stroke-linejoin="round" stroke-linecap="round"/><path d="M270.1,75.9 L265.9,81.5 L270.1,87.1" fill="none" stroke="#ffff00" stroke-width="2.9" stroke-linejoin="round" stroke-linecap="round"/><path d="M261.8,76.9 L258.4,81.5 L261.8,86.1" fill="none" stroke="#ff0000" stroke-width="1.5" stroke-linejoin="round" stroke-linecap="round"/><path d="M265.9,76.4 L262.1,81.5 L265.9,86.6" fill="none" stroke="#0000ff" stroke-width="1.5" stroke-linejoin="round" stroke-linecap="round"/><path d="M270.1,75.9 L265.9,81.5 L270.1,87.1" fill="none" stroke="#ff0000" stroke-width="1.5" stroke-linejoin="round" stroke-linecap="round"/><ellipse cx="255.6" cy="78.6" rx="1.3" ry="2" fill="#0000ff"/><ellipse cx="255.6" cy="84.4" rx="1.3" ry="2" fill="#0000ff"/><ellipse cx="253.5" cy="81.5" rx="1.5" ry="1" fill="#ff0000"/><ellipse cx="256" cy="81.5" rx="1" ry="1" fill="#00008f"/><ellipse cx="252" cy="81.5" rx="1" ry="1.5" fill="#ffff00"/></g></g>
<rect x="309.5" y="65.9" width="63.10" height="30.50" fill="#80ff80"/>
<g clip-path="url(#cm12)"><g filter="url(#b4)"><ellipse cx="325.6" cy="79.4" rx="1.24" ry="3.41" fill="#ffff00" transform="rotate(50 325.6 79.4)"/><ellipse cx="325.6" cy="79.4" rx="0.8" ry="2.2" fill="#ff0000" transform="rotate(50 325.6 79.4)"/><ellipse cx="327.64" cy="78.57" rx="1.24" ry="3.41" fill="#00ffff" transform="rotate(50 327.64 78.57)"/><ellipse cx="327.64" cy="78.57" rx="0.8" ry="2.2" fill="#0000ff" transform="rotate(50 327.64 78.57)"/><ellipse cx="329.67" cy="77.73" rx="1.24" ry="3.41" fill="#ffff00" transform="rotate(50 329.67 77.73)"/><ellipse cx="329.67" cy="77.73" rx="0.8" ry="2.2" fill="#ff0000" transform="rotate(50 329.67 77.73)"/><ellipse cx="331.83" cy="77.34" rx="1.24" ry="3.41" fill="#00ffff" transform="rotate(50 331.83 77.34)"/><ellipse cx="331.83" cy="77.34" rx="0.8" ry="2.2" fill="#0000ff" transform="rotate(50 331.83 77.34)"/><ellipse cx="334.01" cy="77.04" rx="1.24" ry="3.41" fill="#ffff00" transform="rotate(50 334.01 77.04)"/><ellipse cx="334.01" cy="77.04" rx="0.8" ry="2.2" fill="#ff0000" transform="rotate(50 334.01 77.04)"/><ellipse cx="336.19" cy="76.73" rx="1.24" ry="3.41" fill="#00ffff" transform="rotate(50 336.19 76.73)"/><ellipse cx="336.19" cy="76.73" rx="0.8" ry="2.2" fill="#0000ff" transform="rotate(50 336.19 76.73)"/><ellipse cx="338.36" cy="76.43" rx="1.24" ry="3.41" fill="#ffff00" transform="rotate(50 338.36 76.43)"/><ellipse cx="338.36" cy="76.43" rx="0.8" ry="2.2" fill="#ff0000" transform="rotate(50 338.36 76.43)"/><ellipse cx="340.55" cy="76.14" rx="1.24" ry="3.41" fill="#00ffff" transform="rotate(50 340.55 76.14)"/><ellipse cx="340.55" cy="76.14" rx="0.8" ry="2.2" fill="#0000ff" transform="rotate(50 340.55 76.14)"/><ellipse cx="342.73" cy="75.9" rx="1.24" ry="3.41" fill="#ffff00" transform="rotate(50 342.73 75.9)"/><ellipse cx="342.73" cy="75.9" rx="0.8" ry="2.2" fill="#ff0000" transform="rotate(50 342.73 75.9)"/><ellipse cx="344.92" cy="75.66" rx="1.24" ry="3.41" fill="#00ffff" transform="rotate(50 344.92 75.66)"/><ellipse cx="344.92" cy="75.66" rx="0.8" ry="2.2" fill="#0000ff" transform="rotate(50 344.92 75.66)"/><ellipse cx="347.11" cy="75.42" rx="0.85" ry="2.2" fill="#ffff00" transform="rotate(50 347.11 75.42)" opacity="0.98"/><ellipse cx="349.29" cy="75.19" rx="0.85" ry="2.2" fill="#00ffff" transform="rotate(50 349.29 75.19)" opacity="0.96"/><ellipse cx="351.48" cy="74.95" rx="0.85" ry="2.2" fill="#ffff00" transform="rotate(50 351.48 74.95)" opacity="0.94"/><ellipse cx="353.67" cy="74.71" rx="0.85" ry="2.2" fill="#00ffff" transform="rotate(50 353.67 74.71)" opacity="0.92"/><ellipse cx="355.85" cy="74.47" rx="0.85" ry="2.2" fill="#ffff00" transform="rotate(50 355.85 74.47)" opacity="0.9"/><ellipse cx="358.04" cy="74.23" rx="0.85" ry="2.2" fill="#00ffff" transform="rotate(50 358.04 74.23)" opacity="0.88"/><ellipse cx="360.23" cy="73.99" rx="0.85" ry="2.2" fill="#ffff00" transform="rotate(50 360.23 73.99)" opacity="0.86"/><ellipse cx="362.42" cy="73.75" rx="0.85" ry="2.2" fill="#00ffff" transform="rotate(50 362.42 73.75)" opacity="0.84"/><ellipse cx="364.6" cy="73.52" rx="0.85" ry="2.2" fill="#ffff00" transform="rotate(50 364.6 73.52)" opacity="0.82"/><ellipse cx="366.79" cy="73.28" rx="0.85" ry="2.2" fill="#00ffff" transform="rotate(50 366.79 73.28)" opacity="0.81"/><ellipse cx="368.98" cy="73.04" rx="0.85" ry="2.2" fill="#ffff00" transform="rotate(50 368.98 73.04)" opacity="0.79"/><ellipse cx="371.16" cy="72.8" rx="0.85" ry="2.2" fill="#00ffff" transform="rotate(50 371.16 72.8)" opacity="0.77"/><ellipse cx="325.6" cy="83.6" rx="1.24" ry="3.41" fill="#00ffff" transform="rotate(-50 325.6 83.6)"/><ellipse cx="325.6" cy="83.6" rx="0.8" ry="2.2" fill="#0000ff" transform="rotate(-50 325.6 83.6)"/><ellipse cx="327.64" cy="84.43" rx="1.24" ry="3.41" fill="#ffff00" transform="rotate(-50 327.64 84.43)"/><ellipse cx="327.64" cy="84.43" rx="0.8" ry="2.2" fill="#ff0000" transform="rotate(-50 327.64 84.43)"/><ellipse cx="329.67" cy="85.27" rx="1.24" ry="3.41" fill="#00ffff" transform="rotate(-50 329.67 85.27)"/><ellipse cx="329.67" cy="85.27" rx="0.8" ry="2.2" fill="#0000ff" transform="rotate(-50 329.67 85.27)"/><ellipse cx="331.83" cy="85.66" rx="1.24" ry="3.41" fill="#ffff00" transform="rotate(-50 331.83 85.66)"/><ellipse cx="331.83" cy="85.66" rx="0.8" ry="2.2" fill="#ff0000" transform="rotate(-50 331.83 85.66)"/><ellipse cx="334.01" cy="85.96" rx="1.24" ry="3.41" fill="#00ffff" transform="rotate(-50 334.01 85.96)"/><ellipse cx="334.01" cy="85.96" rx="0.8" ry="2.2" fill="#0000ff" transform="rotate(-50 334.01 85.96)"/><ellipse cx="336.19" cy="86.27" rx="1.24" ry="3.41" fill="#ffff00" transform="rotate(-50 336.19 86.27)"/><ellipse cx="336.19" cy="86.27" rx="0.8" ry="2.2" fill="#ff0000" transform="rotate(-50 336.19 86.27)"/><ellipse cx="338.36" cy="86.57" rx="1.24" ry="3.41" fill="#00ffff" transform="rotate(-50 338.36 86.57)"/><ellipse cx="338.36" cy="86.57" rx="0.8" ry="2.2" fill="#0000ff" transform="rotate(-50 338.36 86.57)"/><ellipse cx="340.55" cy="86.86" rx="1.24" ry="3.41" fill="#ffff00" transform="rotate(-50 340.55 86.86)"/><ellipse cx="340.55" cy="86.86" rx="0.8" ry="2.2" fill="#ff0000" transform="rotate(-50 340.55 86.86)"/><ellipse cx="342.73" cy="87.1" rx="1.24" ry="3.41" fill="#00ffff" transform="rotate(-50 342.73 87.1)"/><ellipse cx="342.73" cy="87.1" rx="0.8" ry="2.2" fill="#0000ff" transform="rotate(-50 342.73 87.1)"/><ellipse cx="344.92" cy="87.34" rx="1.24" ry="3.41" fill="#ffff00" transform="rotate(-50 344.92 87.34)"/><ellipse cx="344.92" cy="87.34" rx="0.8" ry="2.2" fill="#ff0000" transform="rotate(-50 344.92 87.34)"/><ellipse cx="347.11" cy="87.58" rx="0.85" ry="2.2" fill="#00ffff" transform="rotate(-50 347.11 87.58)" opacity="0.98"/><ellipse cx="349.29" cy="87.81" rx="0.85" ry="2.2" fill="#ffff00" transform="rotate(-50 349.29 87.81)" opacity="0.96"/><ellipse cx="351.48" cy="88.05" rx="0.85" ry="2.2" fill="#00ffff" transform="rotate(-50 351.48 88.05)" opacity="0.94"/><ellipse cx="353.67" cy="88.29" rx="0.85" ry="2.2" fill="#ffff00" transform="rotate(-50 353.67 88.29)" opacity="0.92"/><ellipse cx="355.85" cy="88.53" rx="0.85" ry="2.2" fill="#00ffff" transform="rotate(-50 355.85 88.53)" opacity="0.9"/><ellipse cx="358.04" cy="88.77" rx="0.85" ry="2.2" fill="#ffff00" transform="rotate(-50 358.04 88.77)" opacity="0.88"/><ellipse cx="360.23" cy="89.01" rx="0.85" ry="2.2" fill="#00ffff" transform="rotate(-50 360.23 89.01)" opacity="0.86"/><ellipse cx="362.42" cy="89.25" rx="0.85" ry="2.2" fill="#ffff00" transform="rotate(-50 362.42 89.25)" opacity="0.84"/><ellipse cx="364.6" cy="89.48" rx="0.85" ry="2.2" fill="#00ffff" transform="rotate(-50 364.6 89.48)" opacity="0.82"/><ellipse cx="366.79" cy="89.72" rx="0.85" ry="2.2" fill="#ffff00" transform="rotate(-50 366.79 89.72)" opacity="0.81"/><ellipse cx="368.98" cy="89.96" rx="0.85" ry="2.2" fill="#00ffff" transform="rotate(-50 368.98 89.96)" opacity="0.79"/><ellipse cx="371.16" cy="90.2" rx="0.85" ry="2.2" fill="#ffff00" transform="rotate(-50 371.16 90.2)" opacity="0.77"/><ellipse cx="324.2" cy="81.5" rx="1.5" ry="2.6" fill="#00008f"/><ellipse cx="325.8" cy="79.4" rx="0.9" ry="0.9" fill="#ff0000"/><ellipse cx="325.8" cy="83.6" rx="0.9" ry="0.9" fill="#ff0000"/><ellipse cx="322.6" cy="81.5" rx="0.7" ry="1.6" fill="#ffff00"/></g></g>
<rect x="379.6" y="65.9" width="62.30" height="30.50" fill="#80ff80"/>
<g clip-path="url(#cm13)"><g filter="url(#b4)"><ellipse cx="393.4" cy="78.6" rx="1.24" ry="3.26" fill="#0080ff" transform="rotate(45 393.4 78.6)"/><ellipse cx="393.4" cy="78.6" rx="0.8" ry="2.1" fill="#00008f" transform="rotate(45 393.4 78.6)"/><ellipse cx="395.04" cy="77.46" rx="1.24" ry="3.26" fill="#ff8000" transform="rotate(45 395.04 77.46)"/><ellipse cx="395.04" cy="77.46" rx="0.8" ry="2.1" fill="#8f0000" transform="rotate(45 395.04 77.46)"/><ellipse cx="396.81" cy="76.6" rx="1.24" ry="3.26" fill="#00ffff" transform="rotate(45 396.81 76.6)"/><ellipse cx="396.81" cy="76.6" rx="0.8" ry="2.1" fill="#0000ff" transform="rotate(45 396.81 76.6)"/><ellipse cx="398.75" cy="76.11" rx="1.24" ry="3.26" fill="#ffff00" transform="rotate(45 398.75 76.11)"/><ellipse cx="398.75" cy="76.11" rx="0.8" ry="2.1" fill="#ff0000" transform="rotate(45 398.75 76.11)"/><ellipse cx="400.71" cy="75.74" rx="1.24" ry="3.26" fill="#0080ff" transform="rotate(45 400.71 75.74)"/><ellipse cx="400.71" cy="75.74" rx="0.8" ry="2.1" fill="#00008f" transform="rotate(45 400.71 75.74)"/><ellipse cx="402.71" cy="75.58" rx="1.24" ry="3.26" fill="#ff8000" transform="rotate(45 402.71 75.58)"/><ellipse cx="402.71" cy="75.58" rx="0.8" ry="2.1" fill="#8f0000" transform="rotate(45 402.71 75.58)"/><ellipse cx="404.7" cy="75.42" rx="1.24" ry="3.26" fill="#00ffff" transform="rotate(45 404.7 75.42)"/><ellipse cx="404.7" cy="75.42" rx="0.8" ry="2.1" fill="#0000ff" transform="rotate(45 404.7 75.42)"/><ellipse cx="406.69" cy="75.26" rx="1.24" ry="3.26" fill="#ffff00" transform="rotate(45 406.69 75.26)"/><ellipse cx="406.69" cy="75.26" rx="0.8" ry="2.1" fill="#ff0000" transform="rotate(45 406.69 75.26)"/><ellipse cx="408.69" cy="75.11" rx="1.24" ry="3.26" fill="#0080ff" transform="rotate(45 408.69 75.11)"/><ellipse cx="408.69" cy="75.11" rx="0.8" ry="2.1" fill="#00008f" transform="rotate(45 408.69 75.11)"/><ellipse cx="410.68" cy="74.97" rx="0.8" ry="2.1" fill="#ffff00" transform="rotate(45 410.68 74.97)" opacity="0.97"/><ellipse cx="412.68" cy="74.88" rx="0.8" ry="2.1" fill="#00ffff" transform="rotate(45 412.68 74.88)" opacity="0.94"/><ellipse cx="414.68" cy="74.8" rx="0.8" ry="2.1" fill="#ffff00" transform="rotate(45 414.68 74.8)" opacity="0.91"/><ellipse cx="416.68" cy="74.71" rx="0.8" ry="2.1" fill="#00ffff" transform="rotate(45 416.68 74.71)" opacity="0.88"/><ellipse cx="418.67" cy="74.62" rx="0.8" ry="2.1" fill="#ffff00" transform="rotate(45 418.67 74.62)" opacity="0.85"/><ellipse cx="420.67" cy="74.53" rx="0.8" ry="2.1" fill="#00ffff" transform="rotate(45 420.67 74.53)" opacity="0.82"/><ellipse cx="422.67" cy="74.45" rx="0.8" ry="2.1" fill="#ffff00" transform="rotate(45 422.67 74.45)" opacity="0.79"/><ellipse cx="424.67" cy="74.36" rx="0.8" ry="2.1" fill="#00ffff" transform="rotate(45 424.67 74.36)" opacity="0.76"/><ellipse cx="426.67" cy="74.27" rx="0.8" ry="2.1" fill="#ffff00" transform="rotate(45 426.67 74.27)" opacity="0.73"/><ellipse cx="428.66" cy="74.18" rx="0.8" ry="2.1" fill="#00ffff" transform="rotate(45 428.66 74.18)" opacity="0.7"/><ellipse cx="430.66" cy="74.1" rx="0.8" ry="2.1" fill="#ffff00" transform="rotate(45 430.66 74.1)" opacity="0.67"/><ellipse cx="432.66" cy="74.01" rx="0.8" ry="2.1" fill="#00ffff" transform="rotate(45 432.66 74.01)" opacity="0.64"/><ellipse cx="434.66" cy="73.92" rx="0.8" ry="2.1" fill="#ffff00" transform="rotate(45 434.66 73.92)" opacity="0.61"/><ellipse cx="436.66" cy="73.83" rx="0.8" ry="2.1" fill="#00ffff" transform="rotate(45 436.66 73.83)" opacity="0.58"/><ellipse cx="438.66" cy="73.75" rx="0.8" ry="2.1" fill="#ffff00" transform="rotate(45 438.66 73.75)" opacity="0.55"/><ellipse cx="440.65" cy="73.66" rx="0.8" ry="2.1" fill="#00ffff" transform="rotate(45 440.65 73.66)" opacity="0.52"/><ellipse cx="393.4" cy="83.6" rx="1.24" ry="3.26" fill="#0080ff" transform="rotate(-45 393.4 83.6)"/><ellipse cx="393.4" cy="83.6" rx="0.8" ry="2.1" fill="#00008f" transform="rotate(-45 393.4 83.6)"/><ellipse cx="395.04" cy="84.74" rx="1.24" ry="3.26" fill="#ff8000" transform="rotate(-45 395.04 84.74)"/><ellipse cx="395.04" cy="84.74" rx="0.8" ry="2.1" fill="#8f0000" transform="rotate(-45 395.04 84.74)"/><ellipse cx="396.81" cy="85.6" rx="1.24" ry="3.26" fill="#00ffff" transform="rotate(-45 396.81 85.6)"/><ellipse cx="396.81" cy="85.6" rx="0.8" ry="2.1" fill="#0000ff" transform="rotate(-45 396.81 85.6)"/><ellipse cx="398.75" cy="86.09" rx="1.24" ry="3.26" fill="#ffff00" transform="rotate(-45 398.75 86.09)"/><ellipse cx="398.75" cy="86.09" rx="0.8" ry="2.1" fill="#ff0000" transform="rotate(-45 398.75 86.09)"/><ellipse cx="400.71" cy="86.46" rx="1.24" ry="3.26" fill="#0080ff" transform="rotate(-45 400.71 86.46)"/><ellipse cx="400.71" cy="86.46" rx="0.8" ry="2.1" fill="#00008f" transform="rotate(-45 400.71 86.46)"/><ellipse cx="402.71" cy="86.62" rx="1.24" ry="3.26" fill="#ff8000" transform="rotate(-45 402.71 86.62)"/><ellipse cx="402.71" cy="86.62" rx="0.8" ry="2.1" fill="#8f0000" transform="rotate(-45 402.71 86.62)"/><ellipse cx="404.7" cy="86.78" rx="1.24" ry="3.26" fill="#00ffff" transform="rotate(-45 404.7 86.78)"/><ellipse cx="404.7" cy="86.78" rx="0.8" ry="2.1" fill="#0000ff" transform="rotate(-45 404.7 86.78)"/><ellipse cx="406.69" cy="86.94" rx="1.24" ry="3.26" fill="#ffff00" transform="rotate(-45 406.69 86.94)"/><ellipse cx="406.69" cy="86.94" rx="0.8" ry="2.1" fill="#ff0000" transform="rotate(-45 406.69 86.94)"/><ellipse cx="408.69" cy="87.09" rx="1.24" ry="3.26" fill="#0080ff" transform="rotate(-45 408.69 87.09)"/><ellipse cx="408.69" cy="87.09" rx="0.8" ry="2.1" fill="#00008f" transform="rotate(-45 408.69 87.09)"/><ellipse cx="410.68" cy="87.23" rx="0.8" ry="2.1" fill="#ffff00" transform="rotate(-45 410.68 87.23)" opacity="0.97"/><ellipse cx="412.68" cy="87.32" rx="0.8" ry="2.1" fill="#00ffff" transform="rotate(-45 412.68 87.32)" opacity="0.94"/><ellipse cx="414.68" cy="87.4" rx="0.8" ry="2.1" fill="#ffff00" transform="rotate(-45 414.68 87.4)" opacity="0.91"/><ellipse cx="416.68" cy="87.49" rx="0.8" ry="2.1" fill="#00ffff" transform="rotate(-45 416.68 87.49)" opacity="0.88"/><ellipse cx="418.67" cy="87.58" rx="0.8" ry="2.1" fill="#ffff00" transform="rotate(-45 418.67 87.58)" opacity="0.85"/><ellipse cx="420.67" cy="87.67" rx="0.8" ry="2.1" fill="#00ffff" transform="rotate(-45 420.67 87.67)" opacity="0.82"/><ellipse cx="422.67" cy="87.75" rx="0.8" ry="2.1" fill="#ffff00" transform="rotate(-45 422.67 87.75)" opacity="0.79"/><ellipse cx="424.67" cy="87.84" rx="0.8" ry="2.1" fill="#00ffff" transform="rotate(-45 424.67 87.84)" opacity="0.76"/><ellipse cx="426.67" cy="87.93" rx="0.8" ry="2.1" fill="#ffff00" transform="rotate(-45 426.67 87.93)" opacity="0.73"/><ellipse cx="428.66" cy="88.02" rx="0.8" ry="2.1" fill="#00ffff" transform="rotate(-45 428.66 88.02)" opacity="0.7"/><ellipse cx="430.66" cy="88.1" rx="0.8" ry="2.1" fill="#ffff00" transform="rotate(-45 430.66 88.1)" opacity="0.67"/><ellipse cx="432.66" cy="88.19" rx="0.8" ry="2.1" fill="#00ffff" transform="rotate(-45 432.66 88.19)" opacity="0.64"/><ellipse cx="434.66" cy="88.28" rx="0.8" ry="2.1" fill="#ffff00" transform="rotate(-45 434.66 88.28)" opacity="0.61"/><ellipse cx="436.66" cy="88.37" rx="0.8" ry="2.1" fill="#00ffff" transform="rotate(-45 436.66 88.37)" opacity="0.58"/><ellipse cx="438.66" cy="88.45" rx="0.8" ry="2.1" fill="#ffff00" transform="rotate(-45 438.66 88.45)" opacity="0.55"/><ellipse cx="440.65" cy="88.54" rx="0.8" ry="2.1" fill="#00ffff" transform="rotate(-45 440.65 88.54)" opacity="0.52"/><ellipse cx="392" cy="79.6" rx="0.95" ry="0.95" fill="#8f0000"/><ellipse cx="392" cy="82.6" rx="0.95" ry="0.95" fill="#8f0000"/><ellipse cx="393.4" cy="81.1" rx="0.95" ry="0.95" fill="#00008f"/><ellipse cx="394.4" cy="78.9" rx="0.95" ry="0.95" fill="#00008f"/><ellipse cx="394.4" cy="83.3" rx="0.95" ry="0.95" fill="#00008f"/><ellipse cx="391" cy="81.1" rx="0.95" ry="0.95" fill="#c00000"/><ellipse cx="389.8" cy="81.1" rx="0.6" ry="1.5" fill="#ffff00"/></g></g>
<rect x="170.8" y="99.4" width="62.40" height="30.10" fill="url(#g1r2)"/>
<g clip-path="url(#cm20)"><g filter="url(#b6)"><path d="M187.5,116.1 L189.45,116.37 L191.39,116.57 L193.34,116.73 L195.28,116.87 L197.23,117 L199.18,117.12 L201.12,117.23 L203.07,117.34 L205.01,117.44 L206.96,117.53 L208.9,117.63 L210.85,117.72 L212.8,117.81 L214.74,117.89 L216.69,117.97 L218.63,118.05 L220.58,118.13 L222.52,118.21 L224.47,118.29 L226.42,118.36 L228.36,118.43 L230.31,118.5 L232.25,118.57 L234.2,118.64 L234.2,122.47 L232.25,122.36 L230.31,122.24 L228.36,122.13 L226.42,122.01 L224.47,121.89 L222.52,121.76 L220.58,121.63 L218.63,121.5 L216.69,121.37 L214.74,121.23 L212.8,121.09 L210.85,120.94 L208.9,120.79 L206.96,120.63 L205.01,120.47 L203.07,120.29 L201.12,120.11 L199.18,119.92 L197.23,119.71 L195.28,119.48 L193.34,119.22 L191.39,118.92 L189.45,118.52 L187.5,117.9 Z" fill="#ffff00" /><path d="M188,116.65 L189.93,117.05 L191.85,117.28 L193.78,117.46 L195.7,117.62 L197.62,117.76 L199.55,117.89 L201.47,118.02 L203.4,118.14 L205.32,118.25 L207.25,118.36 L209.17,118.46 L211.1,118.57 L213.03,118.66 L214.95,118.76 L216.88,118.85 L218.8,118.94 L220.72,119.03 L222.65,119.12 L224.57,119.2 L226.5,119.28 L228.42,119.36 L230.35,119.44 L232.27,119.52 L234.2,119.6 L234.2,121.51 L232.27,121.41 L230.35,121.31 L228.42,121.2 L226.5,121.09 L224.57,120.98 L222.65,120.87 L220.72,120.75 L218.8,120.63 L216.88,120.51 L214.95,120.39 L213.03,120.26 L211.1,120.13 L209.17,119.99 L207.25,119.85 L205.32,119.7 L203.4,119.54 L201.47,119.38 L199.55,119.2 L197.62,119.01 L195.7,118.81 L193.78,118.59 L191.85,118.33 L189.93,118 L188,117.35 Z" fill="#ff5000" /><path d="M200,118.38 L201.43,118.48 L202.85,118.57 L204.28,118.66 L205.7,118.75 L207.12,118.83 L208.55,118.92 L209.97,119 L211.4,119.08 L212.82,119.15 L214.25,119.23 L215.67,119.3 L217.1,119.37 L218.53,119.44 L219.95,119.51 L221.38,119.58 L222.8,119.65 L224.22,119.71 L225.65,119.78 L227.07,119.84 L228.5,119.91 L229.92,119.97 L231.35,120.03 L232.77,120.09 L234.2,120.15 L234.2,120.96 L232.77,120.89 L231.35,120.82 L229.92,120.74 L228.5,120.67 L227.07,120.59 L225.65,120.51 L224.22,120.43 L222.8,120.35 L221.38,120.27 L219.95,120.19 L218.53,120.1 L217.1,120.02 L215.67,119.93 L214.25,119.84 L212.82,119.75 L211.4,119.65 L209.97,119.56 L208.55,119.46 L207.12,119.36 L205.7,119.25 L204.28,119.14 L202.85,119.03 L201.43,118.91 L200,118.79 Z" fill="#ff1000" /><path d="M188.5,112.98 L190.4,112.41 L192.31,112.07 L194.21,111.79 L196.12,111.55 L198.02,111.34 L199.93,111.14 L201.83,110.96 L203.73,110.79 L205.64,110.63 L207.54,110.47 L209.45,110.32 L211.35,110.18 L213.25,110.04 L215.16,109.91 L217.06,109.78 L218.97,109.65 L220.87,109.53 L222.77,109.41 L224.68,109.29 L226.58,109.17 L228.49,109.06 L230.39,108.95 L232.3,108.84 L234.2,108.73 L234.2,118.43 L232.3,118.38 L230.39,118.34 L228.49,118.3 L226.58,118.25 L224.68,118.21 L222.77,118.15 L220.87,118.1 L218.97,118.05 L217.06,117.99 L215.16,117.92 L213.25,117.86 L211.35,117.79 L209.45,117.71 L207.54,117.63 L205.64,117.55 L203.73,117.45 L201.83,117.35 L199.93,117.23 L198.02,117.11 L196.12,116.96 L194.21,116.79 L192.31,116.58 L190.4,116.3 L188.5,115.81 Z" fill="#a0ff60" /><path d="M188.8,113 L190.69,112.54 L192.58,112.23 L194.48,111.98 L196.37,111.76 L198.26,111.57 L200.15,111.39 L202.04,111.22 L203.93,111.06 L205.82,110.91 L207.72,110.77 L209.61,110.63 L211.5,110.49 L213.39,110.37 L215.28,110.24 L217.18,110.12 L219.07,110 L220.96,109.88 L222.85,109.77 L224.74,109.66 L226.63,109.55 L228.52,109.45 L230.42,109.34 L232.31,109.24 L234.2,109.14 L234.2,118.02 L232.31,117.99 L230.42,117.95 L228.52,117.91 L226.63,117.87 L224.74,117.83 L222.85,117.79 L220.96,117.74 L219.07,117.69 L217.18,117.64 L215.28,117.59 L213.39,117.53 L211.5,117.47 L209.61,117.4 L207.72,117.33 L205.82,117.26 L203.93,117.17 L202.04,117.08 L200.15,116.98 L198.26,116.87 L196.37,116.74 L194.48,116.59 L192.58,116.41 L190.69,116.17 L188.8,115.77 Z" fill="#00ffff" /><path d="M189,113.19 L190.88,112.79 L192.77,112.51 L194.65,112.29 L196.53,112.09 L198.42,111.91 L200.3,111.74 L202.18,111.59 L204.07,111.44 L205.95,111.3 L207.83,111.16 L209.72,111.04 L211.6,110.91 L213.48,110.79 L215.37,110.68 L217.25,110.56 L219.13,110.45 L221.02,110.34 L222.9,110.24 L224.78,110.13 L226.67,110.03 L228.55,109.93 L230.43,109.83 L232.32,109.73 L234.2,109.64 L234.2,117.52 L232.32,117.49 L230.43,117.46 L228.55,117.43 L226.67,117.39 L224.78,117.36 L222.9,117.32 L221.02,117.28 L219.13,117.24 L217.25,117.2 L215.37,117.15 L213.48,117.1 L211.6,117.05 L209.72,116.99 L207.83,116.93 L205.95,116.86 L204.07,116.79 L202.18,116.71 L200.3,116.62 L198.42,116.52 L196.53,116.41 L194.65,116.28 L192.77,116.12 L190.88,115.91 L189,115.58 Z" fill="#0040f0" /><path d="M190,113.25 L191.84,112.97 L193.68,112.76 L195.53,112.57 L197.37,112.4 L199.21,112.25 L201.05,112.11 L202.89,111.97 L204.73,111.84 L206.57,111.72 L208.42,111.6 L210.26,111.49 L212.1,111.38 L213.94,111.28 L215.78,111.17 L217.62,111.07 L219.47,110.97 L221.31,110.88 L223.15,110.78 L224.99,110.69 L226.83,110.6 L228.67,110.51 L230.52,110.42 L232.36,110.33 L234.2,110.24 L234.2,116.91 L232.36,116.89 L230.52,116.87 L228.67,116.85 L226.83,116.82 L224.99,116.8 L223.15,116.77 L221.31,116.74 L219.47,116.71 L217.62,116.68 L215.78,116.64 L213.94,116.6 L212.1,116.56 L210.26,116.52 L208.42,116.47 L206.57,116.42 L204.73,116.36 L202.89,116.3 L201.05,116.23 L199.21,116.15 L197.37,116.06 L195.53,115.96 L193.68,115.84 L191.84,115.69 L190,115.48 Z" fill="#000090" /><ellipse cx="187.4" cy="114.9" rx="1.4" ry="1.2" fill="#ff0000"/><ellipse cx="185.2" cy="115" rx="1.2" ry="1.8" fill="#40ffd0"/></g></g>
<rect x="240.2" y="99.4" width="62.90" height="30.10" fill="#80ff80"/>
<g clip-path="url(#cm21)"><g filter="url(#b4)"><ellipse cx="265" cy="109.6" rx="0.8" ry="1.8" fill="#ffff00" transform="rotate(45 265 109.6)" opacity="0.95"/><ellipse cx="267.59" cy="109.33" rx="0.8" ry="1.8" fill="#00ffff" transform="rotate(45 267.59 109.33)" opacity="0.93"/><ellipse cx="270.17" cy="109.07" rx="0.8" ry="1.8" fill="#ffff00" transform="rotate(45 270.17 109.07)" opacity="0.9"/><ellipse cx="272.76" cy="108.8" rx="0.8" ry="1.8" fill="#00ffff" transform="rotate(45 272.76 108.8)" opacity="0.88"/><ellipse cx="275.35" cy="108.54" rx="0.8" ry="1.8" fill="#ffff00" transform="rotate(45 275.35 108.54)" opacity="0.86"/><ellipse cx="277.93" cy="108.27" rx="0.8" ry="1.8" fill="#00ffff" transform="rotate(45 277.93 108.27)" opacity="0.83"/><ellipse cx="280.52" cy="108.01" rx="0.8" ry="1.8" fill="#ffff00" transform="rotate(45 280.52 108.01)" opacity="0.81"/><ellipse cx="283.11" cy="107.74" rx="0.8" ry="1.8" fill="#00ffff" transform="rotate(45 283.11 107.74)" opacity="0.79"/><ellipse cx="285.69" cy="107.48" rx="0.8" ry="1.8" fill="#ffff00" transform="rotate(45 285.69 107.48)" opacity="0.76"/><ellipse cx="288.28" cy="107.21" rx="0.8" ry="1.8" fill="#00ffff" transform="rotate(45 288.28 107.21)" opacity="0.74"/><ellipse cx="290.86" cy="106.95" rx="0.8" ry="1.8" fill="#ffff00" transform="rotate(45 290.86 106.95)" opacity="0.72"/><ellipse cx="293.45" cy="106.68" rx="0.8" ry="1.8" fill="#00ffff" transform="rotate(45 293.45 106.68)" opacity="0.69"/><ellipse cx="296.04" cy="106.42" rx="0.8" ry="1.8" fill="#ffff00" transform="rotate(45 296.04 106.42)" opacity="0.67"/><ellipse cx="298.62" cy="106.15" rx="0.8" ry="1.8" fill="#00ffff" transform="rotate(45 298.62 106.15)" opacity="0.65"/><ellipse cx="301.21" cy="105.89" rx="0.8" ry="1.8" fill="#ffff00" transform="rotate(45 301.21 105.89)" opacity="0.63"/><ellipse cx="303.8" cy="105.62" rx="0.8" ry="1.8" fill="#00ffff" transform="rotate(45 303.8 105.62)" opacity="0.6"/><ellipse cx="258.8" cy="114.8" rx="1.26" ry="6.44" fill="#ffff00" transform="rotate(-24 258.8 114.8)"/><ellipse cx="258.8" cy="114.8" rx="0.9" ry="4.6" fill="#ff0000" transform="rotate(-24 258.8 114.8)"/><ellipse cx="261.65" cy="115.2" rx="1.26" ry="7" fill="#00ffff" transform="rotate(-24 261.65 115.2)"/><ellipse cx="261.65" cy="115.2" rx="0.9" ry="5" fill="#0000ff" transform="rotate(-24 261.65 115.2)"/><ellipse cx="264.5" cy="115.6" rx="1.26" ry="7" fill="#ffff00" transform="rotate(-24 264.5 115.6)"/><ellipse cx="264.5" cy="115.6" rx="0.9" ry="5" fill="#ff0000" transform="rotate(-24 264.5 115.6)"/><ellipse cx="267.35" cy="116" rx="1.26" ry="6.58" fill="#00ffff" transform="rotate(-24 267.35 116)"/><ellipse cx="267.35" cy="116" rx="0.9" ry="4.7" fill="#0000ff" transform="rotate(-24 267.35 116)"/><ellipse cx="270.2" cy="116.4" rx="1.26" ry="5.88" fill="#ffff00" transform="rotate(-24 270.2 116.4)"/><ellipse cx="270.2" cy="116.4" rx="0.9" ry="4.2" fill="#ff0000" transform="rotate(-24 270.2 116.4)"/><ellipse cx="273.05" cy="116.8" rx="1.26" ry="5.04" fill="#00ffff" transform="rotate(-24 273.05 116.8)"/><ellipse cx="273.05" cy="116.8" rx="0.9" ry="3.6" fill="#0000ff" transform="rotate(-24 273.05 116.8)"/><ellipse cx="275.9" cy="117.2" rx="1.26" ry="4.2" fill="#ffff00" transform="rotate(-24 275.9 117.2)"/><ellipse cx="275.9" cy="117.2" rx="0.9" ry="3" fill="#ff0000" transform="rotate(-24 275.9 117.2)"/><ellipse cx="278.75" cy="117.6" rx="1.26" ry="3.36" fill="#00ffff" transform="rotate(-24 278.75 117.6)"/><ellipse cx="278.75" cy="117.6" rx="0.9" ry="2.4" fill="#0000ff" transform="rotate(-24 278.75 117.6)"/><ellipse cx="281.5" cy="118.2" rx="1.4" ry="2.17" fill="#00ffff" transform="rotate(-35 281.5 118.2)"/><ellipse cx="281.5" cy="118.2" rx="0.9" ry="1.4" fill="#0000ff" transform="rotate(-35 281.5 118.2)"/><ellipse cx="283.98" cy="118.49" rx="1.4" ry="2.17" fill="#ffff00" transform="rotate(-35 283.98 118.49)"/><ellipse cx="283.98" cy="118.49" rx="0.9" ry="1.4" fill="#ff0000" transform="rotate(-35 283.98 118.49)"/><ellipse cx="286.47" cy="118.77" rx="1.4" ry="2.17" fill="#00ffff" transform="rotate(-35 286.47 118.77)"/><ellipse cx="286.47" cy="118.77" rx="0.9" ry="1.4" fill="#0000ff" transform="rotate(-35 286.47 118.77)"/><ellipse cx="288.95" cy="119.06" rx="1.4" ry="2.17" fill="#ffff00" transform="rotate(-35 288.95 119.06)"/><ellipse cx="288.95" cy="119.06" rx="0.9" ry="1.4" fill="#ff0000" transform="rotate(-35 288.95 119.06)"/><ellipse cx="291.43" cy="119.35" rx="1.4" ry="2.17" fill="#00ffff" transform="rotate(-35 291.43 119.35)"/><ellipse cx="291.43" cy="119.35" rx="0.9" ry="1.4" fill="#0000ff" transform="rotate(-35 291.43 119.35)"/><ellipse cx="293.92" cy="119.63" rx="1.4" ry="2.17" fill="#ffff00" transform="rotate(-35 293.92 119.63)"/><ellipse cx="293.92" cy="119.63" rx="0.9" ry="1.4" fill="#ff0000" transform="rotate(-35 293.92 119.63)"/><ellipse cx="296.4" cy="119.92" rx="0.99" ry="1.54" fill="#00ffff" transform="rotate(-35 296.4 119.92)" opacity="1.0"/><ellipse cx="298.88" cy="120.21" rx="0.99" ry="1.54" fill="#ffff00" transform="rotate(-35 298.88 120.21)" opacity="1.0"/><ellipse cx="301.37" cy="120.5" rx="0.99" ry="1.54" fill="#00ffff" transform="rotate(-35 301.37 120.5)" opacity="1.0"/><ellipse cx="303.85" cy="120.78" rx="0.99" ry="1.54" fill="#ffff00" transform="rotate(-35 303.85 120.78)" opacity="1.0"/><ellipse cx="254.4" cy="113.4" rx="1.4" ry="1.55" fill="#00ffff"/><ellipse cx="254.4" cy="113.4" rx="0.9" ry="1" fill="#0000ff"/><ellipse cx="254.4" cy="116.3" rx="1.4" ry="1.55" fill="#ffff00"/><ellipse cx="254.4" cy="116.3" rx="0.9" ry="1" fill="#ff0000"/><ellipse cx="252.4" cy="115" rx="0.9" ry="1.6" fill="#ffff00"/></g></g>
<rect x="309.5" y="99.4" width="63.10" height="30.10" fill="#80ff80"/>
<g clip-path="url(#cm22)"><g filter="url(#b4)"><ellipse cx="330" cy="110.6" rx="0.75" ry="1.7" fill="#ffff00" transform="rotate(50 330 110.6)" opacity="0.95"/><ellipse cx="332.28" cy="110.33" rx="0.75" ry="1.7" fill="#00ffff" transform="rotate(50 332.28 110.33)" opacity="0.9"/><ellipse cx="334.57" cy="110.07" rx="0.75" ry="1.7" fill="#ffff00" transform="rotate(50 334.57 110.07)" opacity="0.85"/><ellipse cx="336.85" cy="109.8" rx="0.75" ry="1.7" fill="#00ffff" transform="rotate(50 336.85 109.8)" opacity="0.8"/><ellipse cx="339.14" cy="109.53" rx="0.75" ry="1.7" fill="#ffff00" transform="rotate(50 339.14 109.53)" opacity="0.75"/><ellipse cx="341.42" cy="109.27" rx="0.75" ry="1.7" fill="#00ffff" transform="rotate(50 341.42 109.27)" opacity="0.7"/><ellipse cx="343.71" cy="109" rx="0.75" ry="1.7" fill="#ffff00" transform="rotate(50 343.71 109)" opacity="0.65"/><ellipse cx="345.99" cy="108.73" rx="0.75" ry="1.7" fill="#00ffff" transform="rotate(50 345.99 108.73)" opacity="0.59"/><ellipse cx="348.28" cy="108.47" rx="0.75" ry="1.7" fill="#ffff00" transform="rotate(50 348.28 108.47)" opacity="0.54"/><ellipse cx="350.56" cy="108.2" rx="0.75" ry="1.7" fill="#00ffff" transform="rotate(50 350.56 108.2)" opacity="0.49"/><ellipse cx="352.85" cy="107.93" rx="0.75" ry="1.7" fill="#ffff00" transform="rotate(50 352.85 107.93)" opacity="0.44"/><ellipse cx="355.13" cy="107.67" rx="0.75" ry="1.7" fill="#00ffff" transform="rotate(50 355.13 107.67)" opacity="0.39"/><ellipse cx="357.41" cy="107.4" rx="0.75" ry="1.7" fill="#ffff00" transform="rotate(50 357.41 107.4)" opacity="0.34"/><ellipse cx="359.7" cy="107.14" rx="0.75" ry="1.7" fill="#00ffff" transform="rotate(50 359.7 107.14)" opacity="0.29"/><ellipse cx="361.98" cy="106.87" rx="0.75" ry="1.7" fill="#ffff00" transform="rotate(50 361.98 106.87)" opacity="0.24"/><ellipse cx="364.27" cy="106.6" rx="0.75" ry="1.7" fill="#00ffff" transform="rotate(50 364.27 106.6)" opacity="0.19"/><ellipse cx="327.5" cy="114.4" rx="1.24" ry="4.19" fill="#ffff00" transform="rotate(-40 327.5 114.4)"/><ellipse cx="327.5" cy="114.4" rx="0.8" ry="2.7" fill="#ff0000" transform="rotate(-40 327.5 114.4)"/><ellipse cx="329.72" cy="114.76" rx="1.24" ry="4.19" fill="#00ffff" transform="rotate(-40 329.72 114.76)"/><ellipse cx="329.72" cy="114.76" rx="0.8" ry="2.7" fill="#0000ff" transform="rotate(-40 329.72 114.76)"/><ellipse cx="331.94" cy="115.11" rx="1.24" ry="4.19" fill="#ffff00" transform="rotate(-40 331.94 115.11)"/><ellipse cx="331.94" cy="115.11" rx="0.8" ry="2.7" fill="#ff0000" transform="rotate(-40 331.94 115.11)"/><ellipse cx="334.17" cy="115.47" rx="1.24" ry="4.19" fill="#00ffff" transform="rotate(-40 334.17 115.47)"/><ellipse cx="334.17" cy="115.47" rx="0.8" ry="2.7" fill="#0000ff" transform="rotate(-40 334.17 115.47)"/><ellipse cx="336.39" cy="115.82" rx="1.24" ry="4.19" fill="#ffff00" transform="rotate(-40 336.39 115.82)"/><ellipse cx="336.39" cy="115.82" rx="0.8" ry="2.7" fill="#ff0000" transform="rotate(-40 336.39 115.82)"/><ellipse cx="338.61" cy="116.18" rx="1.24" ry="4.19" fill="#00ffff" transform="rotate(-40 338.61 116.18)"/><ellipse cx="338.61" cy="116.18" rx="0.8" ry="2.7" fill="#0000ff" transform="rotate(-40 338.61 116.18)"/><ellipse cx="340.83" cy="116.52" rx="1.24" ry="4.19" fill="#ffff00" transform="rotate(-40 340.83 116.52)"/><ellipse cx="340.83" cy="116.52" rx="0.8" ry="2.7" fill="#ff0000" transform="rotate(-40 340.83 116.52)"/><ellipse cx="343.06" cy="116.83" rx="1.24" ry="4.19" fill="#00ffff" transform="rotate(-40 343.06 116.83)"/><ellipse cx="343.06" cy="116.83" rx="0.8" ry="2.7" fill="#0000ff" transform="rotate(-40 343.06 116.83)"/><ellipse cx="345.29" cy="117.14" rx="1.24" ry="4.19" fill="#ffff00" transform="rotate(-40 345.29 117.14)"/><ellipse cx="345.29" cy="117.14" rx="0.8" ry="2.7" fill="#ff0000" transform="rotate(-40 345.29 117.14)"/><ellipse cx="347.52" cy="117.45" rx="1.24" ry="4.19" fill="#00ffff" transform="rotate(-40 347.52 117.45)"/><ellipse cx="347.52" cy="117.45" rx="0.8" ry="2.7" fill="#0000ff" transform="rotate(-40 347.52 117.45)"/><ellipse cx="349.75" cy="117.76" rx="1.24" ry="4.19" fill="#ffff00" transform="rotate(-40 349.75 117.76)"/><ellipse cx="349.75" cy="117.76" rx="0.8" ry="2.7" fill="#ff0000" transform="rotate(-40 349.75 117.76)"/><ellipse cx="351.98" cy="118.07" rx="1.24" ry="4.19" fill="#00ffff" transform="rotate(-40 351.98 118.07)"/><ellipse cx="351.98" cy="118.07" rx="0.8" ry="2.7" fill="#0000ff" transform="rotate(-40 351.98 118.07)"/><ellipse cx="354.2" cy="118.38" rx="0.85" ry="2.5" fill="#ffff00" transform="rotate(-40 354.2 118.38)" opacity="0.98"/><ellipse cx="356.43" cy="118.69" rx="0.85" ry="2.5" fill="#00ffff" transform="rotate(-40 356.43 118.69)" opacity="0.96"/><ellipse cx="358.66" cy="119" rx="0.85" ry="2.5" fill="#ffff00" transform="rotate(-40 358.66 119)" opacity="0.94"/><ellipse cx="360.89" cy="119.31" rx="0.85" ry="2.5" fill="#00ffff" transform="rotate(-40 360.89 119.31)" opacity="0.92"/><ellipse cx="363.12" cy="119.62" rx="0.85" ry="2.5" fill="#ffff00" transform="rotate(-40 363.12 119.62)" opacity="0.89"/><ellipse cx="365.35" cy="119.93" rx="0.85" ry="2.5" fill="#00ffff" transform="rotate(-40 365.35 119.93)" opacity="0.87"/><ellipse cx="367.57" cy="120.24" rx="0.85" ry="2.5" fill="#ffff00" transform="rotate(-40 367.57 120.24)" opacity="0.85"/><ellipse cx="369.8" cy="120.55" rx="0.85" ry="2.5" fill="#00ffff" transform="rotate(-40 369.8 120.55)" opacity="0.83"/><ellipse cx="372.03" cy="120.86" rx="0.85" ry="2.5" fill="#ffff00" transform="rotate(-40 372.03 120.86)" opacity="0.81"/><ellipse cx="325" cy="114.6" rx="1.5" ry="2.2" fill="#8f0000"/><ellipse cx="326.8" cy="113" rx="1" ry="1" fill="#00008f"/><ellipse cx="326.8" cy="116.5" rx="0.9" ry="0.9" fill="#0000ff"/></g></g>
<rect x="379.6" y="99.4" width="62.30" height="30.10" fill="#80ff80"/>
<g clip-path="url(#cm23)"><g filter="url(#b4)"><ellipse cx="398" cy="111.5" rx="0.66" ry="1.5" fill="#ffff00" transform="rotate(45 398 111.5)"/><ellipse cx="400.75" cy="111.12" rx="0.66" ry="1.5" fill="#00ffff" transform="rotate(45 400.75 111.12)"/><ellipse cx="403.5" cy="110.75" rx="0.66" ry="1.5" fill="#ffff00" transform="rotate(45 403.5 110.75)"/><ellipse cx="406.25" cy="110.38" rx="0.66" ry="1.5" fill="#00ffff" transform="rotate(45 406.25 110.38)"/><ellipse cx="409" cy="110" rx="0.66" ry="1.5" fill="#ffff00" transform="rotate(45 409 110)"/><ellipse cx="411.75" cy="109.62" rx="0.66" ry="1.5" fill="#00ffff" transform="rotate(45 411.75 109.62)"/><ellipse cx="414.5" cy="109.25" rx="0.66" ry="1.5" fill="#ffff00" transform="rotate(45 414.5 109.25)"/><ellipse cx="417.25" cy="108.88" rx="0.66" ry="1.5" fill="#00ffff" transform="rotate(45 417.25 108.88)"/><ellipse cx="420" cy="108.5" rx="0.66" ry="1.5" fill="#ffff00" transform="rotate(45 420 108.5)"/><ellipse cx="396" cy="112.2" rx="1.24" ry="1.4" fill="#ffff00"/><ellipse cx="396" cy="112.2" rx="0.8" ry="0.9" fill="#ff0000"/><ellipse cx="398.8" cy="111.92" rx="1.24" ry="1.4" fill="#00ffff"/><ellipse cx="398.8" cy="111.92" rx="0.8" ry="0.9" fill="#0000ff"/><ellipse cx="401.6" cy="111.64" rx="1.24" ry="1.4" fill="#ffff00"/><ellipse cx="401.6" cy="111.64" rx="0.8" ry="0.9" fill="#ff0000"/><ellipse cx="404.4" cy="111.36" rx="1.24" ry="1.4" fill="#00ffff"/><ellipse cx="404.4" cy="111.36" rx="0.8" ry="0.9" fill="#0000ff"/><ellipse cx="407.2" cy="111.08" rx="1.24" ry="1.4" fill="#ffff00"/><ellipse cx="407.2" cy="111.08" rx="0.8" ry="0.9" fill="#ff0000"/><ellipse cx="410" cy="110.8" rx="1.24" ry="1.4" fill="#00ffff"/><ellipse cx="410" cy="110.8" rx="0.8" ry="0.9" fill="#0000ff"/><ellipse cx="396" cy="117" rx="1.08" ry="3.56" fill="#ffff00" transform="rotate(-40 396 117)"/><ellipse cx="396" cy="117" rx="0.7" ry="2.3" fill="#ff0000" transform="rotate(-40 396 117)"/><ellipse cx="398.56" cy="117.29" rx="1.08" ry="3.56" fill="#00ffff" transform="rotate(-40 398.56 117.29)"/><ellipse cx="398.56" cy="117.29" rx="0.7" ry="2.3" fill="#0000ff" transform="rotate(-40 398.56 117.29)"/><ellipse cx="401.11" cy="117.59" rx="1.08" ry="3.56" fill="#ffff00" transform="rotate(-40 401.11 117.59)"/><ellipse cx="401.11" cy="117.59" rx="0.7" ry="2.3" fill="#ff0000" transform="rotate(-40 401.11 117.59)"/><ellipse cx="403.67" cy="117.88" rx="1.08" ry="3.56" fill="#00ffff" transform="rotate(-40 403.67 117.88)"/><ellipse cx="403.67" cy="117.88" rx="0.7" ry="2.3" fill="#0000ff" transform="rotate(-40 403.67 117.88)"/><ellipse cx="406.22" cy="118.18" rx="1.08" ry="3.56" fill="#ffff00" transform="rotate(-40 406.22 118.18)"/><ellipse cx="406.22" cy="118.18" rx="0.7" ry="2.3" fill="#ff0000" transform="rotate(-40 406.22 118.18)"/><ellipse cx="408.78" cy="118.47" rx="1.08" ry="3.56" fill="#00ffff" transform="rotate(-40 408.78 118.47)"/><ellipse cx="408.78" cy="118.47" rx="0.7" ry="2.3" fill="#0000ff" transform="rotate(-40 408.78 118.47)"/><ellipse cx="411.33" cy="118.77" rx="1.08" ry="3.56" fill="#ffff00" transform="rotate(-40 411.33 118.77)"/><ellipse cx="411.33" cy="118.77" rx="0.7" ry="2.3" fill="#ff0000" transform="rotate(-40 411.33 118.77)"/><ellipse cx="413.89" cy="119.06" rx="1.08" ry="3.56" fill="#00ffff" transform="rotate(-40 413.89 119.06)"/><ellipse cx="413.89" cy="119.06" rx="0.7" ry="2.3" fill="#0000ff" transform="rotate(-40 413.89 119.06)"/><ellipse cx="416.44" cy="119.36" rx="0.77" ry="2.2" fill="#ffff00" transform="rotate(-40 416.44 119.36)"/><ellipse cx="419" cy="119.65" rx="0.77" ry="2.2" fill="#00ffff" transform="rotate(-40 419 119.65)"/><ellipse cx="421.56" cy="119.94" rx="0.77" ry="2.2" fill="#ffff00" transform="rotate(-40 421.56 119.94)"/><ellipse cx="424.11" cy="120.24" rx="0.77" ry="2.2" fill="#00ffff" transform="rotate(-40 424.11 120.24)"/><ellipse cx="426.67" cy="120.53" rx="0.77" ry="2.2" fill="#ffff00" transform="rotate(-40 426.67 120.53)"/><ellipse cx="429.22" cy="120.83" rx="0.77" ry="2.2" fill="#00ffff" transform="rotate(-40 429.22 120.83)"/><ellipse cx="431.78" cy="121.12" rx="0.77" ry="2.2" fill="#ffff00" transform="rotate(-40 431.78 121.12)"/><ellipse cx="434.33" cy="121.42" rx="0.77" ry="2.2" fill="#00ffff" transform="rotate(-40 434.33 121.42)"/><ellipse cx="436.89" cy="121.71" rx="0.77" ry="2.2" fill="#ffff00" transform="rotate(-40 436.89 121.71)"/><ellipse cx="439.44" cy="122.01" rx="0.77" ry="2.2" fill="#00ffff" transform="rotate(-40 439.44 122.01)"/><ellipse cx="442" cy="122.3" rx="0.77" ry="2.2" fill="#ffff00" transform="rotate(-40 442 122.3)"/><ellipse cx="394.5" cy="114.5" rx="1.6" ry="2" fill="#00008f"/><ellipse cx="396.5" cy="114.3" rx="0.9" ry="1" fill="#8f0000"/><ellipse cx="392.5" cy="114.5" rx="0.6" ry="1.4" fill="#ffff00"/></g></g>
<rect x="170.8" y="132.9" width="62.40" height="30.60" fill="url(#g1r3)"/>
<g clip-path="url(#cm30)"><g filter="url(#b6)"><ellipse cx="187.6" cy="150.6" rx="3" ry="2.4" fill="#50e8ff" opacity="0.75"/><path d="M186.5,147.4 L188.49,146.69 L190.47,146.23 L192.46,145.86 L194.45,145.54 L196.44,145.25 L198.43,144.98 L200.41,144.72 L202.4,144.48 L204.39,144.25 L206.38,144.02 L208.36,143.8 L210.35,143.59 L212.34,143.39 L214.32,143.19 L216.31,143 L218.3,142.81 L220.29,142.62 L222.27,142.44 L224.26,142.26 L226.25,142.08 L228.24,141.91 L230.22,141.73 L232.21,141.57 L234.2,141.4 L234.2,147.24 L232.21,147.34 L230.22,147.43 L228.24,147.52 L226.25,147.62 L224.26,147.71 L222.27,147.81 L220.29,147.9 L218.3,148 L216.31,148.1 L214.32,148.2 L212.34,148.3 L210.35,148.39 L208.36,148.5 L206.38,148.6 L204.39,148.7 L202.4,148.8 L200.41,148.9 L198.43,149.01 L196.44,149.11 L194.45,149.22 L192.46,149.32 L190.47,149.42 L188.49,149.5 L186.5,149.4 Z" fill="#ffff00" /><path d="M187,147.9 L188.97,147.39 L190.93,147.06 L192.9,146.78 L194.87,146.52 L196.83,146.29 L198.8,146.06 L200.77,145.85 L202.73,145.64 L204.7,145.44 L206.67,145.24 L208.63,145.06 L210.6,144.87 L212.57,144.69 L214.53,144.52 L216.5,144.34 L218.47,144.17 L220.43,144.01 L222.4,143.84 L224.37,143.68 L226.33,143.52 L228.3,143.37 L230.27,143.21 L232.23,143.06 L234.2,142.91 L234.2,145.74 L232.23,145.84 L230.27,145.95 L228.3,146.05 L226.33,146.16 L224.37,146.27 L222.4,146.38 L220.43,146.49 L218.47,146.61 L216.5,146.72 L214.53,146.84 L212.57,146.96 L210.6,147.08 L208.63,147.2 L206.67,147.33 L204.7,147.45 L202.73,147.58 L200.77,147.72 L198.8,147.86 L196.83,148 L194.87,148.15 L192.9,148.31 L190.93,148.47 L188.97,148.66 L187,148.9 Z" fill="#ffa000" /><path d="M205,146.14 L206.22,146.02 L207.43,145.91 L208.65,145.8 L209.87,145.69 L211.08,145.58 L212.3,145.47 L213.52,145.37 L214.73,145.26 L215.95,145.16 L217.17,145.06 L218.38,144.96 L219.6,144.85 L220.82,144.76 L222.03,144.66 L223.25,144.56 L224.47,144.46 L225.68,144.36 L226.9,144.27 L228.12,144.17 L229.33,144.08 L230.55,143.99 L231.77,143.89 L232.98,143.8 L234.2,143.71 L234.2,144.93 L232.98,145 L231.77,145.07 L230.55,145.14 L229.33,145.2 L228.12,145.27 L226.9,145.34 L225.68,145.41 L224.47,145.48 L223.25,145.55 L222.03,145.62 L220.82,145.69 L219.6,145.77 L218.38,145.84 L217.17,145.91 L215.95,145.99 L214.73,146.06 L213.52,146.14 L212.3,146.22 L211.08,146.3 L209.87,146.37 L208.65,146.46 L207.43,146.54 L206.22,146.62 L205,146.7 Z" fill="#ff3000" /><ellipse cx="186.4" cy="148.4" rx="1.5" ry="0.8" fill="#ff0000"/></g></g>
<rect x="240.2" y="132.9" width="62.90" height="30.60" fill="#80ff80"/>
<g clip-path="url(#cm31)"><g filter="url(#b4)"><ellipse cx="263" cy="146" rx="5.12" ry="1.68" fill="#00ffff" transform="rotate(50 263 146)"/><ellipse cx="263" cy="146" rx="3.2" ry="1.05" fill="#0000ff" transform="rotate(50 263 146)"/><ellipse cx="268.25" cy="145.64" rx="5.12" ry="1.68" fill="#ffff00" transform="rotate(50 268.25 145.64)"/><ellipse cx="268.25" cy="145.64" rx="3.2" ry="1.05" fill="#ff0000" transform="rotate(50 268.25 145.64)"/><ellipse cx="273.5" cy="145.28" rx="5.12" ry="1.68" fill="#00ffff" transform="rotate(50 273.5 145.28)"/><ellipse cx="273.5" cy="145.28" rx="3.2" ry="1.05" fill="#0000ff" transform="rotate(50 273.5 145.28)"/><ellipse cx="278.75" cy="144.92" rx="5.12" ry="1.68" fill="#ffff00" transform="rotate(50 278.75 144.92)"/><ellipse cx="278.75" cy="144.92" rx="3.2" ry="1.05" fill="#ff0000" transform="rotate(50 278.75 144.92)"/><ellipse cx="284" cy="144.56" rx="5.12" ry="1.68" fill="#00ffff" transform="rotate(50 284 144.56)"/><ellipse cx="284" cy="144.56" rx="3.2" ry="1.05" fill="#0000ff" transform="rotate(50 284 144.56)"/><ellipse cx="289.25" cy="144.2" rx="5.12" ry="1.68" fill="#ffff00" transform="rotate(50 289.25 144.2)"/><ellipse cx="289.25" cy="144.2" rx="3.2" ry="1.05" fill="#ff0000" transform="rotate(50 289.25 144.2)"/><ellipse cx="294.5" cy="143.84" rx="5.12" ry="1.68" fill="#00ffff" transform="rotate(50 294.5 143.84)"/><ellipse cx="294.5" cy="143.84" rx="3.2" ry="1.05" fill="#0000ff" transform="rotate(50 294.5 143.84)"/><ellipse cx="299.75" cy="143.48" rx="5.12" ry="1.68" fill="#ffff00" transform="rotate(50 299.75 143.48)"/><ellipse cx="299.75" cy="143.48" rx="3.2" ry="1.05" fill="#ff0000" transform="rotate(50 299.75 143.48)"/><ellipse cx="305" cy="143.12" rx="5.12" ry="1.68" fill="#00ffff" transform="rotate(50 305 143.12)"/><ellipse cx="305" cy="143.12" rx="3.2" ry="1.05" fill="#0000ff" transform="rotate(50 305 143.12)"/><ellipse cx="258.6" cy="147.2" rx="2.25" ry="1.35" fill="#ffff00" transform="rotate(35 258.6 147.2)"/><ellipse cx="258.6" cy="147.2" rx="1.5" ry="0.9" fill="#ff0000" transform="rotate(35 258.6 147.2)"/><ellipse cx="260" cy="150.6" rx="1.95" ry="1.35" fill="#00ffff" transform="rotate(35 260 150.6)"/><ellipse cx="260" cy="150.6" rx="1.3" ry="0.9" fill="#0000ff" transform="rotate(35 260 150.6)"/><ellipse cx="255.6" cy="148.4" rx="1.24" ry="1.24" fill="#00ffff"/><ellipse cx="255.6" cy="148.4" rx="0.8" ry="0.8" fill="#0000ff"/><ellipse cx="255.8" cy="150.4" rx="0.7" ry="0.6" fill="#ff0000"/></g></g>
<rect x="309.5" y="132.9" width="63.10" height="30.60" fill="#80ff80"/>
<g clip-path="url(#cm32)"><g filter="url(#b4)"><ellipse cx="334" cy="146.6" rx="0.85" ry="3" fill="#ffff00" transform="rotate(-45 334 146.6)" opacity="1.0"/><ellipse cx="336.38" cy="146.28" rx="0.85" ry="3" fill="#00ffff" transform="rotate(-45 336.38 146.28)" opacity="0.98"/><ellipse cx="338.76" cy="145.97" rx="0.85" ry="3" fill="#ffff00" transform="rotate(-45 338.76 145.97)" opacity="0.97"/><ellipse cx="341.14" cy="145.65" rx="0.85" ry="3" fill="#00ffff" transform="rotate(-45 341.14 145.65)" opacity="0.95"/><ellipse cx="343.52" cy="145.33" rx="0.85" ry="3" fill="#ffff00" transform="rotate(-45 343.52 145.33)" opacity="0.94"/><ellipse cx="345.89" cy="145.01" rx="0.85" ry="3" fill="#00ffff" transform="rotate(-45 345.89 145.01)" opacity="0.92"/><ellipse cx="348.27" cy="144.7" rx="0.85" ry="3" fill="#ffff00" transform="rotate(-45 348.27 144.7)" opacity="0.91"/><ellipse cx="350.65" cy="144.38" rx="0.85" ry="3" fill="#00ffff" transform="rotate(-45 350.65 144.38)" opacity="0.89"/><ellipse cx="353.03" cy="144.02" rx="0.85" ry="3" fill="#ffff00" transform="rotate(-45 353.03 144.02)" opacity="0.88"/><ellipse cx="355.39" cy="143.62" rx="0.85" ry="3" fill="#00ffff" transform="rotate(-45 355.39 143.62)" opacity="0.86"/><ellipse cx="357.76" cy="143.21" rx="0.85" ry="3" fill="#ffff00" transform="rotate(-45 357.76 143.21)" opacity="0.85"/><ellipse cx="360.12" cy="142.81" rx="0.85" ry="3" fill="#00ffff" transform="rotate(-45 360.12 142.81)" opacity="0.83"/><ellipse cx="362.49" cy="142.4" rx="0.85" ry="3" fill="#ffff00" transform="rotate(-45 362.49 142.4)" opacity="0.82"/><ellipse cx="364.85" cy="142" rx="0.85" ry="3" fill="#00ffff" transform="rotate(-45 364.85 142)" opacity="0.8"/><ellipse cx="367.22" cy="141.59" rx="0.85" ry="3" fill="#ffff00" transform="rotate(-45 367.22 141.59)" opacity="0.79"/><ellipse cx="369.58" cy="141.19" rx="0.85" ry="3" fill="#00ffff" transform="rotate(-45 369.58 141.19)" opacity="0.77"/><ellipse cx="371.95" cy="140.78" rx="0.85" ry="3" fill="#ffff00" transform="rotate(-45 371.95 140.78)" opacity="0.76"/><ellipse cx="336" cy="152.2" rx="0.6" ry="1.4" fill="#00ffff" transform="rotate(-35 336 152.2)" opacity="0.7"/><ellipse cx="338.4" cy="152.06" rx="0.6" ry="1.4" fill="#ffff00" transform="rotate(-35 338.4 152.06)" opacity="0.64"/><ellipse cx="340.79" cy="151.91" rx="0.6" ry="1.4" fill="#00ffff" transform="rotate(-35 340.79 151.91)" opacity="0.58"/><ellipse cx="343.19" cy="151.77" rx="0.6" ry="1.4" fill="#ffff00" transform="rotate(-35 343.19 151.77)" opacity="0.52"/><ellipse cx="345.58" cy="151.63" rx="0.6" ry="1.4" fill="#00ffff" transform="rotate(-35 345.58 151.63)" opacity="0.46"/><ellipse cx="347.98" cy="151.48" rx="0.6" ry="1.4" fill="#ffff00" transform="rotate(-35 347.98 151.48)" opacity="0.4"/><ellipse cx="350.37" cy="151.34" rx="0.6" ry="1.4" fill="#00ffff" transform="rotate(-35 350.37 151.34)" opacity="0.34"/><ellipse cx="352.77" cy="151.19" rx="0.6" ry="1.4" fill="#ffff00" transform="rotate(-35 352.77 151.19)" opacity="0.28"/><ellipse cx="355.17" cy="151.05" rx="0.6" ry="1.4" fill="#00ffff" transform="rotate(-35 355.17 151.05)" opacity="0.22"/><ellipse cx="328.5" cy="146.8" rx="1.16" ry="1.4" fill="#ffff00" transform="rotate(-20 328.5 146.8)"/><ellipse cx="328.5" cy="146.8" rx="0.75" ry="0.9" fill="#ff0000" transform="rotate(-20 328.5 146.8)"/><ellipse cx="330.94" cy="146.18" rx="1.16" ry="1.4" fill="#00ffff" transform="rotate(-20 330.94 146.18)"/><ellipse cx="330.94" cy="146.18" rx="0.75" ry="0.9" fill="#0000ff" transform="rotate(-20 330.94 146.18)"/><ellipse cx="333.38" cy="145.55" rx="1.16" ry="1.4" fill="#ffff00" transform="rotate(-20 333.38 145.55)"/><ellipse cx="333.38" cy="145.55" rx="0.75" ry="0.9" fill="#ff0000" transform="rotate(-20 333.38 145.55)"/><ellipse cx="335.81" cy="144.93" rx="1.16" ry="1.4" fill="#00ffff" transform="rotate(-20 335.81 144.93)"/><ellipse cx="335.81" cy="144.93" rx="0.75" ry="0.9" fill="#0000ff" transform="rotate(-20 335.81 144.93)"/><ellipse cx="338.25" cy="144.3" rx="1.16" ry="1.4" fill="#ffff00" transform="rotate(-20 338.25 144.3)"/><ellipse cx="338.25" cy="144.3" rx="0.75" ry="0.9" fill="#ff0000" transform="rotate(-20 338.25 144.3)"/><ellipse cx="340.69" cy="143.68" rx="1.16" ry="1.4" fill="#00ffff" transform="rotate(-20 340.69 143.68)"/><ellipse cx="340.69" cy="143.68" rx="0.75" ry="0.9" fill="#0000ff" transform="rotate(-20 340.69 143.68)"/><ellipse cx="343.12" cy="143.05" rx="1.16" ry="1.4" fill="#ffff00" transform="rotate(-20 343.12 143.05)"/><ellipse cx="343.12" cy="143.05" rx="0.75" ry="0.9" fill="#ff0000" transform="rotate(-20 343.12 143.05)"/><ellipse cx="345.56" cy="142.43" rx="1.16" ry="1.4" fill="#00ffff" transform="rotate(-20 345.56 142.43)"/><ellipse cx="345.56" cy="142.43" rx="0.75" ry="0.9" fill="#0000ff" transform="rotate(-20 345.56 142.43)"/><ellipse cx="348" cy="141.8" rx="1.16" ry="1.4" fill="#ffff00" transform="rotate(-20 348 141.8)"/><ellipse cx="348" cy="141.8" rx="0.75" ry="0.9" fill="#ff0000" transform="rotate(-20 348 141.8)"/><ellipse cx="328.5" cy="150.2" rx="1.16" ry="1.4" fill="#00ffff" transform="rotate(-10 328.5 150.2)"/><ellipse cx="328.5" cy="150.2" rx="0.75" ry="0.9" fill="#0000ff" transform="rotate(-10 328.5 150.2)"/><ellipse cx="331.19" cy="149.97" rx="1.16" ry="1.4" fill="#ffff00" transform="rotate(-10 331.19 149.97)"/><ellipse cx="331.19" cy="149.97" rx="0.75" ry="0.9" fill="#ff0000" transform="rotate(-10 331.19 149.97)"/><ellipse cx="333.88" cy="149.75" rx="1.16" ry="1.4" fill="#00ffff" transform="rotate(-10 333.88 149.75)"/><ellipse cx="333.88" cy="149.75" rx="0.75" ry="0.9" fill="#0000ff" transform="rotate(-10 333.88 149.75)"/><ellipse cx="336.56" cy="149.53" rx="1.16" ry="1.4" fill="#ffff00" transform="rotate(-10 336.56 149.53)"/><ellipse cx="336.56" cy="149.53" rx="0.75" ry="0.9" fill="#ff0000" transform="rotate(-10 336.56 149.53)"/><ellipse cx="339.25" cy="149.3" rx="1.16" ry="1.4" fill="#00ffff" transform="rotate(-10 339.25 149.3)"/><ellipse cx="339.25" cy="149.3" rx="0.75" ry="0.9" fill="#0000ff" transform="rotate(-10 339.25 149.3)"/><ellipse cx="341.94" cy="149.07" rx="1.16" ry="1.4" fill="#ffff00" transform="rotate(-10 341.94 149.07)"/><ellipse cx="341.94" cy="149.07" rx="0.75" ry="0.9" fill="#ff0000" transform="rotate(-10 341.94 149.07)"/><ellipse cx="344.62" cy="148.85" rx="1.16" ry="1.4" fill="#00ffff" transform="rotate(-10 344.62 148.85)"/><ellipse cx="344.62" cy="148.85" rx="0.75" ry="0.9" fill="#0000ff" transform="rotate(-10 344.62 148.85)"/><ellipse cx="347.31" cy="148.62" rx="1.16" ry="1.4" fill="#ffff00" transform="rotate(-10 347.31 148.62)"/><ellipse cx="347.31" cy="148.62" rx="0.75" ry="0.9" fill="#ff0000" transform="rotate(-10 347.31 148.62)"/><ellipse cx="350" cy="148.4" rx="1.16" ry="1.4" fill="#00ffff" transform="rotate(-10 350 148.4)"/><ellipse cx="350" cy="148.4" rx="0.75" ry="0.9" fill="#0000ff" transform="rotate(-10 350 148.4)"/><ellipse cx="324.8" cy="148.6" rx="1" ry="1" fill="#00008f"/><ellipse cx="326.4" cy="147.2" rx="1" ry="1" fill="#8f0000"/><ellipse cx="326.4" cy="150" rx="1" ry="1" fill="#00008f"/><ellipse cx="327.6" cy="148.6" rx="1" ry="1" fill="#ff0000"/><ellipse cx="323.6" cy="148.6" rx="1" ry="1" fill="#200050"/></g></g>
<rect x="379.6" y="132.9" width="62.30" height="30.60" fill="#80ff80"/>
<g clip-path="url(#cm33)"><g filter="url(#b4)"><ellipse cx="398.5" cy="148.2" rx="0.9" ry="3.2" fill="#ffff00" transform="rotate(-38 398.5 148.2)" opacity="1.0"/><ellipse cx="400.77" cy="147.86" rx="0.9" ry="3.2" fill="#00ffff" transform="rotate(-38 400.77 147.86)" opacity="0.99"/><ellipse cx="403.05" cy="147.52" rx="0.9" ry="3.2" fill="#ffff00" transform="rotate(-38 403.05 147.52)" opacity="0.98"/><ellipse cx="405.32" cy="147.18" rx="0.9" ry="3.2" fill="#00ffff" transform="rotate(-38 405.32 147.18)" opacity="0.97"/><ellipse cx="407.6" cy="146.85" rx="0.9" ry="3.2" fill="#ffff00" transform="rotate(-38 407.6 146.85)" opacity="0.96"/><ellipse cx="409.87" cy="146.51" rx="0.9" ry="3.2" fill="#00ffff" transform="rotate(-38 409.87 146.51)" opacity="0.95"/><ellipse cx="412.15" cy="146.17" rx="0.9" ry="3.2" fill="#ffff00" transform="rotate(-38 412.15 146.17)" opacity="0.94"/><ellipse cx="414.42" cy="145.83" rx="0.9" ry="3.2" fill="#00ffff" transform="rotate(-38 414.42 145.83)" opacity="0.93"/><ellipse cx="416.7" cy="145.49" rx="0.9" ry="3.2" fill="#ffff00" transform="rotate(-38 416.7 145.49)" opacity="0.92"/><ellipse cx="418.97" cy="145.15" rx="0.9" ry="3.2" fill="#00ffff" transform="rotate(-38 418.97 145.15)" opacity="0.91"/><ellipse cx="421.25" cy="144.81" rx="0.9" ry="3.2" fill="#ffff00" transform="rotate(-38 421.25 144.81)" opacity="0.9"/><ellipse cx="423.52" cy="144.46" rx="0.9" ry="3.2" fill="#00ffff" transform="rotate(-38 423.52 144.46)" opacity="0.88"/><ellipse cx="425.79" cy="144.1" rx="0.9" ry="3.2" fill="#ffff00" transform="rotate(-38 425.79 144.1)" opacity="0.87"/><ellipse cx="428.07" cy="143.75" rx="0.9" ry="3.2" fill="#00ffff" transform="rotate(-38 428.07 143.75)" opacity="0.86"/><ellipse cx="430.34" cy="143.4" rx="0.9" ry="3.2" fill="#ffff00" transform="rotate(-38 430.34 143.4)" opacity="0.85"/><ellipse cx="432.61" cy="143.05" rx="0.9" ry="3.2" fill="#00ffff" transform="rotate(-38 432.61 143.05)" opacity="0.84"/><ellipse cx="434.89" cy="142.7" rx="0.9" ry="3.2" fill="#ffff00" transform="rotate(-38 434.89 142.7)" opacity="0.83"/><ellipse cx="437.16" cy="142.35" rx="0.9" ry="3.2" fill="#00ffff" transform="rotate(-38 437.16 142.35)" opacity="0.82"/><ellipse cx="439.43" cy="142" rx="0.9" ry="3.2" fill="#ffff00" transform="rotate(-38 439.43 142)" opacity="0.81"/><ellipse cx="441.71" cy="141.65" rx="0.9" ry="3.2" fill="#00ffff" transform="rotate(-38 441.71 141.65)" opacity="0.8"/><ellipse cx="396" cy="148" rx="2.63" ry="1.63" fill="#ff8000" transform="rotate(-8 396 148)"/><ellipse cx="396" cy="148" rx="1.7" ry="1.05" fill="#8f0000" transform="rotate(-8 396 148)"/><ellipse cx="398.28" cy="147.69" rx="2.63" ry="1.63" fill="#0080ff" transform="rotate(-8 398.28 147.69)"/><ellipse cx="398.28" cy="147.69" rx="1.7" ry="1.05" fill="#00008f" transform="rotate(-8 398.28 147.69)"/><ellipse cx="400.56" cy="147.38" rx="2.63" ry="1.63" fill="#ffff00" transform="rotate(-8 400.56 147.38)"/><ellipse cx="400.56" cy="147.38" rx="1.7" ry="1.05" fill="#ff0000" transform="rotate(-8 400.56 147.38)"/><ellipse cx="402.84" cy="147.07" rx="2.63" ry="1.63" fill="#00ffff" transform="rotate(-8 402.84 147.07)"/><ellipse cx="402.84" cy="147.07" rx="1.7" ry="1.05" fill="#0000ff" transform="rotate(-8 402.84 147.07)"/><ellipse cx="405.12" cy="146.76" rx="2.63" ry="1.63" fill="#ff8000" transform="rotate(-8 405.12 146.76)"/><ellipse cx="405.12" cy="146.76" rx="1.7" ry="1.05" fill="#8f0000" transform="rotate(-8 405.12 146.76)"/><ellipse cx="407.4" cy="146.45" rx="2.63" ry="1.63" fill="#0080ff" transform="rotate(-8 407.4 146.45)"/><ellipse cx="407.4" cy="146.45" rx="1.7" ry="1.05" fill="#00008f" transform="rotate(-8 407.4 146.45)"/><ellipse cx="409.67" cy="146.14" rx="2.63" ry="1.63" fill="#ffff00" transform="rotate(-8 409.67 146.14)"/><ellipse cx="409.67" cy="146.14" rx="1.7" ry="1.05" fill="#ff0000" transform="rotate(-8 409.67 146.14)"/><ellipse cx="411.95" cy="145.83" rx="2.63" ry="1.63" fill="#00ffff" transform="rotate(-8 411.95 145.83)"/><ellipse cx="411.95" cy="145.83" rx="1.7" ry="1.05" fill="#0000ff" transform="rotate(-8 411.95 145.83)"/><ellipse cx="414.23" cy="145.53" rx="2.63" ry="1.63" fill="#ff8000" transform="rotate(-8 414.23 145.53)"/><ellipse cx="414.23" cy="145.53" rx="1.7" ry="1.05" fill="#8f0000" transform="rotate(-8 414.23 145.53)"/><ellipse cx="416.51" cy="145.22" rx="1.87" ry="1.16" fill="#00ffff" transform="rotate(-8 416.51 145.22)" opacity="0.88"/><ellipse cx="418.79" cy="144.91" rx="1.87" ry="1.16" fill="#ffff00" transform="rotate(-8 418.79 144.91)" opacity="0.8"/><ellipse cx="421.07" cy="144.6" rx="1.87" ry="1.16" fill="#00ffff" transform="rotate(-8 421.07 144.6)" opacity="0.71"/><ellipse cx="423.35" cy="144.29" rx="1.87" ry="1.16" fill="#ffff00" transform="rotate(-8 423.35 144.29)" opacity="0.62"/><ellipse cx="394.6" cy="148.6" rx="1.8" ry="1.3" fill="#600000"/><ellipse cx="395.6" cy="148" rx="0.9" ry="0.7" fill="#00008f"/></g></g>
<rect x="170.8" y="167.8" width="62.40" height="29.90" fill="url(#g1r4)"/>
<g clip-path="url(#cm40)"><g filter="url(#b6)"><path d="M186,179.8 L188.01,177.82 L190.02,176.99 L192.03,176.36 L194.03,175.83 L196.04,175.36 L198.05,174.94 L200.06,174.55 L202.07,174.19 L204.07,173.85 L206.08,173.52 L208.09,173.22 L210.1,172.93 L212.11,172.64 L214.12,172.37 L216.12,172.11 L218.13,171.86 L220.14,171.62 L222.15,171.38 L224.16,171.15 L226.17,170.93 L228.17,170.71 L230.18,170.49 L232.19,170.28 L234.2,170.08 L234.2,195.12 L232.19,194.92 L230.18,194.71 L228.17,194.49 L226.17,194.27 L224.16,194.05 L222.15,193.82 L220.14,193.58 L218.13,193.34 L216.12,193.09 L214.12,192.83 L212.11,192.56 L210.1,192.27 L208.09,191.98 L206.08,191.68 L204.07,191.35 L202.07,191.01 L200.06,190.65 L198.05,190.26 L196.04,189.84 L194.03,189.37 L192.03,188.84 L190.02,188.21 L188.01,187.38 L186,185.4 Z" fill="#ffff00" /><path d="M186.6,179.76 L188.58,178.75 L190.57,178.11 L192.55,177.6 L194.53,177.16 L196.52,176.77 L198.5,176.42 L200.48,176.09 L202.47,175.79 L204.45,175.5 L206.43,175.23 L208.42,174.97 L210.4,174.72 L212.38,174.48 L214.37,174.25 L216.35,174.03 L218.33,173.82 L220.32,173.61 L222.3,173.41 L224.28,173.21 L226.27,173.02 L228.25,172.83 L230.23,172.65 L232.22,172.47 L234.2,172.29 L234.2,192.91 L232.22,192.73 L230.23,192.55 L228.25,192.37 L226.27,192.18 L224.28,191.99 L222.3,191.79 L220.32,191.59 L218.33,191.38 L216.35,191.17 L214.37,190.95 L212.38,190.72 L210.4,190.48 L208.42,190.23 L206.43,189.97 L204.45,189.7 L202.47,189.41 L200.48,189.11 L198.5,188.78 L196.52,188.43 L194.53,188.04 L192.55,187.6 L190.57,187.09 L188.58,186.45 L186.6,185.44 Z" fill="#a8ff60" /><path d="M187,179.89 L188.97,179.09 L190.93,178.54 L192.9,178.09 L194.87,177.7 L196.83,177.35 L198.8,177.03 L200.77,176.74 L202.73,176.47 L204.7,176.21 L206.67,175.96 L208.63,175.73 L210.6,175.5 L212.57,175.29 L214.53,175.08 L216.5,174.88 L218.47,174.68 L220.43,174.49 L222.4,174.31 L224.37,174.13 L226.33,173.96 L228.3,173.79 L230.27,173.62 L232.23,173.46 L234.2,173.3 L234.2,191.9 L232.23,191.74 L230.27,191.58 L228.3,191.41 L226.33,191.24 L224.37,191.07 L222.4,190.89 L220.43,190.71 L218.47,190.52 L216.5,190.32 L214.53,190.12 L212.57,189.91 L210.6,189.7 L208.63,189.47 L206.67,189.24 L204.7,188.99 L202.73,188.73 L200.77,188.46 L198.8,188.17 L196.83,187.85 L194.87,187.5 L192.9,187.11 L190.93,186.66 L188.97,186.11 L187,185.31 Z" fill="#50f8c8" /><path d="M187.6,180.27 L189.54,179.76 L191.48,179.39 L193.42,179.07 L195.37,178.8 L197.31,178.55 L199.25,178.33 L201.19,178.12 L203.13,177.92 L205.07,177.73 L207.02,177.56 L208.96,177.39 L210.9,177.22 L212.84,177.07 L214.78,176.92 L216.72,176.77 L218.67,176.63 L220.61,176.49 L222.55,176.36 L224.49,176.23 L226.43,176.11 L228.38,175.98 L230.32,175.86 L232.26,175.74 L234.2,175.63 L234.2,189.57 L232.26,189.46 L230.32,189.34 L228.38,189.22 L226.43,189.09 L224.49,188.97 L222.55,188.84 L220.61,188.71 L218.67,188.57 L216.72,188.43 L214.78,188.28 L212.84,188.13 L210.9,187.98 L208.96,187.81 L207.02,187.64 L205.07,187.47 L203.13,187.28 L201.19,187.08 L199.25,186.87 L197.31,186.65 L195.37,186.4 L193.42,186.13 L191.48,185.81 L189.54,185.44 L187.6,184.93 Z" fill="#30f0f0" /><path d="M188.2,180.95 L190.12,180.71 L192.03,180.53 L193.95,180.37 L195.87,180.23 L197.78,180.1 L199.7,179.98 L201.62,179.87 L203.53,179.77 L205.45,179.67 L207.37,179.58 L209.28,179.49 L211.2,179.4 L213.12,179.32 L215.03,179.24 L216.95,179.17 L218.87,179.09 L220.78,179.02 L222.7,178.95 L224.62,178.88 L226.53,178.81 L228.45,178.75 L230.37,178.69 L232.28,178.62 L234.2,178.56 L234.2,186.64 L232.28,186.58 L230.37,186.51 L228.45,186.45 L226.53,186.39 L224.62,186.32 L222.7,186.25 L220.78,186.18 L218.87,186.11 L216.95,186.03 L215.03,185.96 L213.12,185.88 L211.2,185.8 L209.28,185.71 L207.37,185.62 L205.45,185.53 L203.53,185.43 L201.62,185.33 L199.7,185.22 L197.78,185.1 L195.87,184.97 L193.95,184.83 L192.03,184.67 L190.12,184.49 L188.2,184.25 Z" fill="#10e0ff" /><path d="M188.5,181.8 L189.9,181.83 L191.29,181.87 L192.69,181.9 L194.08,181.93 L195.48,181.96 L196.88,182 L198.27,182.03 L199.67,182.06 L201.06,182.1 L202.46,182.13 L203.85,182.16 L205.25,182.19 L206.65,182.23 L208.04,182.26 L209.44,182.29 L210.83,182.33 L212.23,182.36 L213.62,182.39 L215.02,182.42 L216.42,182.46 L217.81,182.49 L219.21,182.52 L220.6,182.56 L222,182.59 L222,182.61 L220.6,182.64 L219.21,182.68 L217.81,182.71 L216.42,182.74 L215.02,182.78 L213.62,182.81 L212.23,182.84 L210.83,182.87 L209.44,182.91 L208.04,182.94 L206.65,182.97 L205.25,183.01 L203.85,183.04 L202.46,183.07 L201.06,183.1 L199.67,183.14 L198.27,183.17 L196.88,183.2 L195.48,183.24 L194.08,183.27 L192.69,183.3 L191.29,183.33 L189.9,183.37 L188.5,183.4 Z" fill="#0070ff" /><ellipse cx="189.4" cy="183" rx="1.3" ry="1" fill="#0000ff"/><path d="M187.6,178.6 Q184.4,182.6 187.6,186.8" fill="none" stroke="#ff0000" stroke-width="1.6" /><path d="M187.4,179.4 Q185.0,182.6 187.4,186.0" fill="none" stroke="#8f0000" stroke-width="0.6" /><ellipse cx="182.8" cy="182.6" rx="0.8" ry="0.8" fill="#40e0ff"/></g></g>
<rect x="240.2" y="167.8" width="62.90" height="29.90" fill="#80ff80"/>
<g clip-path="url(#cm41)"><g filter="url(#b4)"><ellipse cx="258" cy="178.2" rx="1.32" ry="3.88" fill="#ffff00" transform="rotate(42 258 178.2)"/><ellipse cx="258" cy="178.2" rx="0.85" ry="2.5" fill="#ff0000" transform="rotate(42 258 178.2)"/><ellipse cx="261.4" cy="177.35" rx="1.32" ry="3.88" fill="#00ffff" transform="rotate(42 261.4 177.35)"/><ellipse cx="261.4" cy="177.35" rx="0.85" ry="2.5" fill="#0000ff" transform="rotate(42 261.4 177.35)"/><ellipse cx="264.79" cy="176.5" rx="1.32" ry="3.88" fill="#ffff00" transform="rotate(42 264.79 176.5)"/><ellipse cx="264.79" cy="176.5" rx="0.85" ry="2.5" fill="#ff0000" transform="rotate(42 264.79 176.5)"/><ellipse cx="268.19" cy="175.65" rx="1.32" ry="3.88" fill="#00ffff" transform="rotate(42 268.19 175.65)"/><ellipse cx="268.19" cy="175.65" rx="0.85" ry="2.5" fill="#0000ff" transform="rotate(42 268.19 175.65)"/><ellipse cx="271.61" cy="174.93" rx="1.32" ry="3.88" fill="#ffff00" transform="rotate(42 271.61 174.93)"/><ellipse cx="271.61" cy="174.93" rx="0.85" ry="2.5" fill="#ff0000" transform="rotate(42 271.61 174.93)"/><ellipse cx="275.06" cy="174.34" rx="1.32" ry="3.88" fill="#00ffff" transform="rotate(42 275.06 174.34)"/><ellipse cx="275.06" cy="174.34" rx="0.85" ry="2.5" fill="#0000ff" transform="rotate(42 275.06 174.34)"/><ellipse cx="278.51" cy="173.75" rx="1.32" ry="3.88" fill="#ffff00" transform="rotate(42 278.51 173.75)"/><ellipse cx="278.51" cy="173.75" rx="0.85" ry="2.5" fill="#ff0000" transform="rotate(42 278.51 173.75)"/><ellipse cx="281.96" cy="173.16" rx="1.32" ry="3.88" fill="#00ffff" transform="rotate(42 281.96 173.16)"/><ellipse cx="281.96" cy="173.16" rx="0.85" ry="2.5" fill="#0000ff" transform="rotate(42 281.96 173.16)"/><ellipse cx="285.41" cy="172.57" rx="0.95" ry="2.6" fill="#ffff00" transform="rotate(42 285.41 172.57)" opacity="0.97"/><ellipse cx="288.86" cy="171.98" rx="0.95" ry="2.6" fill="#00ffff" transform="rotate(42 288.86 171.98)" opacity="0.94"/><ellipse cx="292.31" cy="171.39" rx="0.95" ry="2.6" fill="#ffff00" transform="rotate(42 292.31 171.39)" opacity="0.91"/><ellipse cx="295.76" cy="170.81" rx="0.95" ry="2.6" fill="#00ffff" transform="rotate(42 295.76 170.81)" opacity="0.87"/><ellipse cx="299.21" cy="170.22" rx="0.95" ry="2.6" fill="#ffff00" transform="rotate(42 299.21 170.22)" opacity="0.84"/><ellipse cx="302.66" cy="169.63" rx="0.95" ry="2.6" fill="#00ffff" transform="rotate(42 302.66 169.63)" opacity="0.81"/><ellipse cx="258" cy="187.8" rx="1.32" ry="3.88" fill="#ffff00" transform="rotate(-42 258 187.8)"/><ellipse cx="258" cy="187.8" rx="0.85" ry="2.5" fill="#ff0000" transform="rotate(-42 258 187.8)"/><ellipse cx="261.4" cy="188.65" rx="1.32" ry="3.88" fill="#00ffff" transform="rotate(-42 261.4 188.65)"/><ellipse cx="261.4" cy="188.65" rx="0.85" ry="2.5" fill="#0000ff" transform="rotate(-42 261.4 188.65)"/><ellipse cx="264.79" cy="189.5" rx="1.32" ry="3.88" fill="#ffff00" transform="rotate(-42 264.79 189.5)"/><ellipse cx="264.79" cy="189.5" rx="0.85" ry="2.5" fill="#ff0000" transform="rotate(-42 264.79 189.5)"/><ellipse cx="268.19" cy="190.35" rx="1.32" ry="3.88" fill="#00ffff" transform="rotate(-42 268.19 190.35)"/><ellipse cx="268.19" cy="190.35" rx="0.85" ry="2.5" fill="#0000ff" transform="rotate(-42 268.19 190.35)"/><ellipse cx="271.61" cy="191.07" rx="1.32" ry="3.88" fill="#ffff00" transform="rotate(-42 271.61 191.07)"/><ellipse cx="271.61" cy="191.07" rx="0.85" ry="2.5" fill="#ff0000" transform="rotate(-42 271.61 191.07)"/><ellipse cx="275.06" cy="191.66" rx="1.32" ry="3.88" fill="#00ffff" transform="rotate(-42 275.06 191.66)"/><ellipse cx="275.06" cy="191.66" rx="0.85" ry="2.5" fill="#0000ff" transform="rotate(-42 275.06 191.66)"/><ellipse cx="278.51" cy="192.25" rx="1.32" ry="3.88" fill="#ffff00" transform="rotate(-42 278.51 192.25)"/><ellipse cx="278.51" cy="192.25" rx="0.85" ry="2.5" fill="#ff0000" transform="rotate(-42 278.51 192.25)"/><ellipse cx="281.96" cy="192.84" rx="1.32" ry="3.88" fill="#00ffff" transform="rotate(-42 281.96 192.84)"/><ellipse cx="281.96" cy="192.84" rx="0.85" ry="2.5" fill="#0000ff" transform="rotate(-42 281.96 192.84)"/><ellipse cx="285.41" cy="193.43" rx="0.95" ry="2.6" fill="#ffff00" transform="rotate(-42 285.41 193.43)" opacity="0.97"/><ellipse cx="288.86" cy="194.02" rx="0.95" ry="2.6" fill="#00ffff" transform="rotate(-42 288.86 194.02)" opacity="0.94"/><ellipse cx="292.31" cy="194.61" rx="0.95" ry="2.6" fill="#ffff00" transform="rotate(-42 292.31 194.61)" opacity="0.91"/><ellipse cx="295.76" cy="195.19" rx="0.95" ry="2.6" fill="#00ffff" transform="rotate(-42 295.76 195.19)" opacity="0.87"/><ellipse cx="299.21" cy="195.78" rx="0.95" ry="2.6" fill="#ffff00" transform="rotate(-42 299.21 195.78)" opacity="0.84"/><ellipse cx="302.66" cy="196.37" rx="0.95" ry="2.6" fill="#00ffff" transform="rotate(-42 302.66 196.37)" opacity="0.81"/><ellipse cx="260" cy="183" rx="1" ry="0.7" fill="#ffff00"/><ellipse cx="263.7" cy="183" rx="1" ry="0.7" fill="#00ffff"/><ellipse cx="267.4" cy="183" rx="1" ry="0.7" fill="#ffff00"/><ellipse cx="271.1" cy="183" rx="1" ry="0.7" fill="#00ffff"/><ellipse cx="274.8" cy="183" rx="1" ry="0.7" fill="#ffff00"/><ellipse cx="278.5" cy="183" rx="1" ry="0.7" fill="#00ffff"/><ellipse cx="282.2" cy="183" rx="1" ry="0.7" fill="#ffff00"/><ellipse cx="285.9" cy="183" rx="1" ry="0.7" fill="#00ffff"/><ellipse cx="289.6" cy="183" rx="1" ry="0.7" fill="#ffff00"/><ellipse cx="293.3" cy="183" rx="1" ry="0.7" fill="#00ffff"/><ellipse cx="297" cy="183" rx="1" ry="0.7" fill="#ffff00"/><ellipse cx="300.7" cy="183" rx="1" ry="0.7" fill="#00ffff"/><ellipse cx="255.2" cy="179.2" rx="1.4" ry="2" fill="#0000ff"/><ellipse cx="255.2" cy="186.8" rx="1.4" ry="2" fill="#0000ff"/><ellipse cx="253" cy="183" rx="1.3" ry="1" fill="#ff0000"/><ellipse cx="255.8" cy="183" rx="0.9" ry="0.9" fill="#00008f"/><ellipse cx="251.2" cy="183" rx="1" ry="1.6" fill="#ffff00"/></g></g>
<rect x="309.5" y="167.8" width="63.10" height="29.90" fill="#80ff80"/>
<g clip-path="url(#cm42)"><g filter="url(#b4)"><ellipse cx="330.5" cy="183" rx="0.8" ry="0.6" fill="#ffff00" opacity="0.75"/><ellipse cx="333" cy="183" rx="0.8" ry="0.6" fill="#00ffff" opacity="0.75"/><ellipse cx="335.5" cy="183" rx="0.8" ry="0.6" fill="#ffff00" opacity="0.75"/><ellipse cx="338" cy="183" rx="0.8" ry="0.6" fill="#00ffff" opacity="0.75"/><ellipse cx="340.5" cy="183" rx="0.8" ry="0.6" fill="#ffff00" opacity="0.75"/><ellipse cx="343" cy="183" rx="0.8" ry="0.6" fill="#00ffff" opacity="0.75"/><ellipse cx="345.5" cy="183" rx="0.8" ry="0.6" fill="#ffff00" opacity="0.75"/><ellipse cx="348" cy="183" rx="0.8" ry="0.6" fill="#00ffff" opacity="0.75"/><ellipse cx="350.5" cy="183" rx="0.8" ry="0.6" fill="#ffff00" opacity="0.75"/><ellipse cx="324.4" cy="179" rx="1.32" ry="1.55" fill="#ffff00"/><ellipse cx="324.4" cy="179" rx="0.85" ry="1" fill="#ff0000"/><ellipse cx="326.21" cy="177.75" rx="1.32" ry="1.55" fill="#00ffff"/><ellipse cx="326.21" cy="177.75" rx="0.85" ry="1" fill="#0000ff"/><ellipse cx="328.18" cy="176.82" rx="1.32" ry="1.55" fill="#ffff00"/><ellipse cx="328.18" cy="176.82" rx="0.85" ry="1" fill="#ff0000"/><ellipse cx="330.27" cy="176.15" rx="1.32" ry="1.55" fill="#00ffff"/><ellipse cx="330.27" cy="176.15" rx="0.85" ry="1" fill="#0000ff"/><ellipse cx="332.38" cy="175.53" rx="1.32" ry="1.55" fill="#ffff00"/><ellipse cx="332.38" cy="175.53" rx="0.85" ry="1" fill="#ff0000"/><ellipse cx="334.55" cy="175.14" rx="1.32" ry="1.55" fill="#00ffff"/><ellipse cx="334.55" cy="175.14" rx="0.85" ry="1" fill="#0000ff"/><ellipse cx="336.71" cy="174.75" rx="1.32" ry="1.55" fill="#ffff00"/><ellipse cx="336.71" cy="174.75" rx="0.85" ry="1" fill="#ff0000"/><ellipse cx="338.88" cy="174.36" rx="1.32" ry="1.55" fill="#00ffff"/><ellipse cx="338.88" cy="174.36" rx="0.85" ry="1" fill="#0000ff"/><ellipse cx="341.04" cy="173.97" rx="1.32" ry="1.55" fill="#ffff00"/><ellipse cx="341.04" cy="173.97" rx="0.85" ry="1" fill="#ff0000"/><ellipse cx="343.22" cy="173.63" rx="0.9" ry="2.8" fill="#00ffff" transform="rotate(45 343.22 173.63)" opacity="0.99"/><ellipse cx="345.39" cy="173.32" rx="0.9" ry="2.8" fill="#ffff00" transform="rotate(45 345.39 173.32)" opacity="0.98"/><ellipse cx="347.57" cy="173.01" rx="0.9" ry="2.8" fill="#00ffff" transform="rotate(45 347.57 173.01)" opacity="0.97"/><ellipse cx="349.75" cy="172.7" rx="0.9" ry="2.8" fill="#ffff00" transform="rotate(45 349.75 172.7)" opacity="0.96"/><ellipse cx="351.93" cy="172.39" rx="0.9" ry="2.8" fill="#00ffff" transform="rotate(45 351.93 172.39)" opacity="0.95"/><ellipse cx="354.11" cy="172.08" rx="0.9" ry="2.8" fill="#ffff00" transform="rotate(45 354.11 172.08)" opacity="0.94"/><ellipse cx="356.28" cy="171.77" rx="0.9" ry="2.8" fill="#00ffff" transform="rotate(45 356.28 171.77)" opacity="0.93"/><ellipse cx="358.46" cy="171.46" rx="0.9" ry="2.8" fill="#ffff00" transform="rotate(45 358.46 171.46)" opacity="0.92"/><ellipse cx="360.64" cy="171.15" rx="0.9" ry="2.8" fill="#00ffff" transform="rotate(45 360.64 171.15)" opacity="0.91"/><ellipse cx="362.82" cy="170.85" rx="0.9" ry="2.8" fill="#ffff00" transform="rotate(45 362.82 170.85)" opacity="0.9"/><ellipse cx="365" cy="170.54" rx="0.9" ry="2.8" fill="#00ffff" transform="rotate(45 365 170.54)" opacity="0.89"/><ellipse cx="367.17" cy="170.23" rx="0.9" ry="2.8" fill="#ffff00" transform="rotate(45 367.17 170.23)" opacity="0.88"/><ellipse cx="369.35" cy="169.92" rx="0.9" ry="2.8" fill="#00ffff" transform="rotate(45 369.35 169.92)" opacity="0.87"/><ellipse cx="371.53" cy="169.61" rx="0.9" ry="2.8" fill="#ffff00" transform="rotate(45 371.53 169.61)" opacity="0.86"/><ellipse cx="324.4" cy="187" rx="1.32" ry="1.55" fill="#ffff00"/><ellipse cx="324.4" cy="187" rx="0.85" ry="1" fill="#ff0000"/><ellipse cx="326.21" cy="188.25" rx="1.32" ry="1.55" fill="#00ffff"/><ellipse cx="326.21" cy="188.25" rx="0.85" ry="1" fill="#0000ff"/><ellipse cx="328.18" cy="189.18" rx="1.32" ry="1.55" fill="#ffff00"/><ellipse cx="328.18" cy="189.18" rx="0.85" ry="1" fill="#ff0000"/><ellipse cx="330.27" cy="189.85" rx="1.32" ry="1.55" fill="#00ffff"/><ellipse cx="330.27" cy="189.85" rx="0.85" ry="1" fill="#0000ff"/><ellipse cx="332.38" cy="190.47" rx="1.32" ry="1.55" fill="#ffff00"/><ellipse cx="332.38" cy="190.47" rx="0.85" ry="1" fill="#ff0000"/><ellipse cx="334.55" cy="190.86" rx="1.32" ry="1.55" fill="#00ffff"/><ellipse cx="334.55" cy="190.86" rx="0.85" ry="1" fill="#0000ff"/><ellipse cx="336.71" cy="191.25" rx="1.32" ry="1.55" fill="#ffff00"/><ellipse cx="336.71" cy="191.25" rx="0.85" ry="1" fill="#ff0000"/><ellipse cx="338.88" cy="191.64" rx="1.32" ry="1.55" fill="#00ffff"/><ellipse cx="338.88" cy="191.64" rx="0.85" ry="1" fill="#0000ff"/><ellipse cx="341.04" cy="192.03" rx="1.32" ry="1.55" fill="#ffff00"/><ellipse cx="341.04" cy="192.03" rx="0.85" ry="1" fill="#ff0000"/><ellipse cx="343.22" cy="192.37" rx="0.9" ry="2.8" fill="#00ffff" transform="rotate(-45 343.22 192.37)" opacity="0.99"/><ellipse cx="345.39" cy="192.68" rx="0.9" ry="2.8" fill="#ffff00" transform="rotate(-45 345.39 192.68)" opacity="0.98"/><ellipse cx="347.57" cy="192.99" rx="0.9" ry="2.8" fill="#00ffff" transform="rotate(-45 347.57 192.99)" opacity="0.97"/><ellipse cx="349.75" cy="193.3" rx="0.9" ry="2.8" fill="#ffff00" transform="rotate(-45 349.75 193.3)" opacity="0.96"/><ellipse cx="351.93" cy="193.61" rx="0.9" ry="2.8" fill="#00ffff" transform="rotate(-45 351.93 193.61)" opacity="0.95"/><ellipse cx="354.11" cy="193.92" rx="0.9" ry="2.8" fill="#ffff00" transform="rotate(-45 354.11 193.92)" opacity="0.94"/><ellipse cx="356.28" cy="194.23" rx="0.9" ry="2.8" fill="#00ffff" transform="rotate(-45 356.28 194.23)" opacity="0.93"/><ellipse cx="358.46" cy="194.54" rx="0.9" ry="2.8" fill="#ffff00" transform="rotate(-45 358.46 194.54)" opacity="0.92"/><ellipse cx="360.64" cy="194.85" rx="0.9" ry="2.8" fill="#00ffff" transform="rotate(-45 360.64 194.85)" opacity="0.91"/><ellipse cx="362.82" cy="195.15" rx="0.9" ry="2.8" fill="#ffff00" transform="rotate(-45 362.82 195.15)" opacity="0.9"/><ellipse cx="365" cy="195.46" rx="0.9" ry="2.8" fill="#00ffff" transform="rotate(-45 365 195.46)" opacity="0.89"/><ellipse cx="367.17" cy="195.77" rx="0.9" ry="2.8" fill="#ffff00" transform="rotate(-45 367.17 195.77)" opacity="0.88"/><ellipse cx="369.35" cy="196.08" rx="0.9" ry="2.8" fill="#00ffff" transform="rotate(-45 369.35 196.08)" opacity="0.87"/><ellipse cx="371.53" cy="196.39" rx="0.9" ry="2.8" fill="#ffff00" transform="rotate(-45 371.53 196.39)" opacity="0.86"/><ellipse cx="328" cy="179.3" rx="0.72" ry="0.77" fill="#00ffff" opacity="0.95"/><ellipse cx="330.1" cy="178.63" rx="0.72" ry="0.77" fill="#ffff00" opacity="0.89"/><ellipse cx="332.19" cy="177.96" rx="0.72" ry="0.77" fill="#00ffff" opacity="0.82"/><ellipse cx="334.33" cy="177.46" rx="0.72" ry="0.77" fill="#ffff00" opacity="0.76"/><ellipse cx="336.49" cy="177.07" rx="0.72" ry="0.77" fill="#00ffff" opacity="0.7"/><ellipse cx="338.66" cy="176.68" rx="0.72" ry="0.77" fill="#ffff00" opacity="0.63"/><ellipse cx="340.82" cy="176.29" rx="0.72" ry="0.77" fill="#00ffff" opacity="0.57"/><ellipse cx="342.99" cy="175.9" rx="0.72" ry="0.77" fill="#ffff00" opacity="0.5"/><ellipse cx="328" cy="186.7" rx="0.72" ry="0.77" fill="#00ffff" opacity="0.95"/><ellipse cx="330.1" cy="187.37" rx="0.72" ry="0.77" fill="#ffff00" opacity="0.89"/><ellipse cx="332.19" cy="188.04" rx="0.72" ry="0.77" fill="#00ffff" opacity="0.82"/><ellipse cx="334.33" cy="188.54" rx="0.72" ry="0.77" fill="#ffff00" opacity="0.76"/><ellipse cx="336.49" cy="188.93" rx="0.72" ry="0.77" fill="#00ffff" opacity="0.7"/><ellipse cx="338.66" cy="189.32" rx="0.72" ry="0.77" fill="#ffff00" opacity="0.63"/><ellipse cx="340.82" cy="189.71" rx="0.72" ry="0.77" fill="#00ffff" opacity="0.57"/><ellipse cx="342.99" cy="190.1" rx="0.72" ry="0.77" fill="#ffff00" opacity="0.5"/><ellipse cx="323.3" cy="181.4" rx="0.95" ry="0.95" fill="#00008f"/><ellipse cx="323.3" cy="184.6" rx="0.95" ry="0.95" fill="#00008f"/><ellipse cx="325.1" cy="180" rx="0.95" ry="0.95" fill="#8f0000"/><ellipse cx="325.1" cy="183" rx="0.95" ry="0.95" fill="#00008f"/><ellipse cx="325.1" cy="186" rx="0.95" ry="0.95" fill="#8f0000"/><ellipse cx="326.9" cy="181.5" rx="0.95" ry="0.95" fill="#0000ff"/><ellipse cx="326.9" cy="184.5" rx="0.95" ry="0.95" fill="#0000ff"/><ellipse cx="322.2" cy="183" rx="0.95" ry="0.95" fill="#c00000"/><ellipse cx="328.4" cy="183" rx="0.95" ry="0.95" fill="#ff0000"/><ellipse cx="324.2" cy="183" rx="0.95" ry="0.95" fill="#300040"/><ellipse cx="320.9" cy="183" rx="0.7" ry="1.6" fill="#ffff00"/></g></g>
<rect x="379.6" y="167.8" width="62.30" height="29.90" fill="#80ff80"/>
<g clip-path="url(#cm43)"><g filter="url(#b4)"><ellipse cx="392.6" cy="179.6" rx="1.4" ry="1.71" fill="#0080ff"/><ellipse cx="392.6" cy="179.6" rx="0.9" ry="1.1" fill="#00008f"/><ellipse cx="393.8" cy="178.13" rx="1.4" ry="1.71" fill="#ff8000"/><ellipse cx="393.8" cy="178.13" rx="0.9" ry="1.1" fill="#8f0000"/><ellipse cx="395.26" cy="176.97" rx="1.4" ry="1.71" fill="#00ffff"/><ellipse cx="395.26" cy="176.97" rx="0.9" ry="1.1" fill="#0000ff"/><ellipse cx="396.96" cy="176.12" rx="1.4" ry="1.71" fill="#ffff00"/><ellipse cx="396.96" cy="176.12" rx="0.9" ry="1.1" fill="#ff0000"/><ellipse cx="398.72" cy="175.46" rx="1.4" ry="1.71" fill="#0080ff"/><ellipse cx="398.72" cy="175.46" rx="0.9" ry="1.1" fill="#00008f"/><ellipse cx="400.58" cy="175.08" rx="1.4" ry="1.71" fill="#ff8000"/><ellipse cx="400.58" cy="175.08" rx="0.9" ry="1.1" fill="#8f0000"/><ellipse cx="402.44" cy="174.71" rx="1.4" ry="1.71" fill="#00ffff"/><ellipse cx="402.44" cy="174.71" rx="0.9" ry="1.1" fill="#0000ff"/><ellipse cx="404.31" cy="174.36" rx="1.4" ry="1.71" fill="#ffff00"/><ellipse cx="404.31" cy="174.36" rx="0.9" ry="1.1" fill="#ff0000"/><ellipse cx="406.19" cy="174.11" rx="1.4" ry="1.71" fill="#0080ff"/><ellipse cx="406.19" cy="174.11" rx="0.9" ry="1.1" fill="#00008f"/><ellipse cx="408.08" cy="173.86" rx="1.4" ry="1.71" fill="#ff8000"/><ellipse cx="408.08" cy="173.86" rx="0.9" ry="1.1" fill="#8f0000"/><ellipse cx="409.96" cy="173.61" rx="1.4" ry="1.71" fill="#00ffff"/><ellipse cx="409.96" cy="173.61" rx="0.9" ry="1.1" fill="#0000ff"/><ellipse cx="411.86" cy="173.47" rx="0.75" ry="2.3" fill="#ffff00" transform="rotate(45 411.86 173.47)" opacity="0.93"/><ellipse cx="413.75" cy="173.34" rx="0.75" ry="2.3" fill="#00ffff" transform="rotate(45 413.75 173.34)" opacity="0.9"/><ellipse cx="415.65" cy="173.21" rx="0.75" ry="2.3" fill="#ffff00" transform="rotate(45 415.65 173.21)" opacity="0.86"/><ellipse cx="417.54" cy="173.08" rx="0.75" ry="2.3" fill="#00ffff" transform="rotate(45 417.54 173.08)" opacity="0.82"/><ellipse cx="419.44" cy="172.95" rx="0.75" ry="2.3" fill="#ffff00" transform="rotate(45 419.44 172.95)" opacity="0.79"/><ellipse cx="421.33" cy="172.82" rx="0.75" ry="2.3" fill="#00ffff" transform="rotate(45 421.33 172.82)" opacity="0.75"/><ellipse cx="423.23" cy="172.69" rx="0.75" ry="2.3" fill="#ffff00" transform="rotate(45 423.23 172.69)" opacity="0.71"/><ellipse cx="425.12" cy="172.56" rx="0.75" ry="2.3" fill="#00ffff" transform="rotate(45 425.12 172.56)" opacity="0.68"/><ellipse cx="427.02" cy="172.43" rx="0.75" ry="2.3" fill="#ffff00" transform="rotate(45 427.02 172.43)" opacity="0.64"/><ellipse cx="428.92" cy="172.3" rx="0.75" ry="2.3" fill="#00ffff" transform="rotate(45 428.92 172.3)" opacity="0.6"/><ellipse cx="430.81" cy="172.17" rx="0.75" ry="2.3" fill="#ffff00" transform="rotate(45 430.81 172.17)" opacity="0.57"/><ellipse cx="432.71" cy="172.04" rx="0.75" ry="2.3" fill="#00ffff" transform="rotate(45 432.71 172.04)" opacity="0.53"/><ellipse cx="434.6" cy="171.91" rx="0.75" ry="2.3" fill="#ffff00" transform="rotate(45 434.6 171.91)" opacity="0.49"/><ellipse cx="436.5" cy="171.78" rx="0.75" ry="2.3" fill="#00ffff" transform="rotate(45 436.5 171.78)" opacity="0.46"/><ellipse cx="438.39" cy="171.65" rx="0.75" ry="2.3" fill="#ffff00" transform="rotate(45 438.39 171.65)" opacity="0.42"/><ellipse cx="440.29" cy="171.52" rx="0.75" ry="2.3" fill="#00ffff" transform="rotate(45 440.29 171.52)" opacity="0.38"/><ellipse cx="392.6" cy="186.4" rx="1.4" ry="1.71" fill="#0080ff"/><ellipse cx="392.6" cy="186.4" rx="0.9" ry="1.1" fill="#00008f"/><ellipse cx="393.8" cy="187.87" rx="1.4" ry="1.71" fill="#ff8000"/><ellipse cx="393.8" cy="187.87" rx="0.9" ry="1.1" fill="#8f0000"/><ellipse cx="395.26" cy="189.03" rx="1.4" ry="1.71" fill="#00ffff"/><ellipse cx="395.26" cy="189.03" rx="0.9" ry="1.1" fill="#0000ff"/><ellipse cx="396.96" cy="189.88" rx="1.4" ry="1.71" fill="#ffff00"/><ellipse cx="396.96" cy="189.88" rx="0.9" ry="1.1" fill="#ff0000"/><ellipse cx="398.72" cy="190.54" rx="1.4" ry="1.71" fill="#0080ff"/><ellipse cx="398.72" cy="190.54" rx="0.9" ry="1.1" fill="#00008f"/><ellipse cx="400.58" cy="190.92" rx="1.4" ry="1.71" fill="#ff8000"/><ellipse cx="400.58" cy="190.92" rx="0.9" ry="1.1" fill="#8f0000"/><ellipse cx="402.44" cy="191.29" rx="1.4" ry="1.71" fill="#00ffff"/><ellipse cx="402.44" cy="191.29" rx="0.9" ry="1.1" fill="#0000ff"/><ellipse cx="404.31" cy="191.64" rx="1.4" ry="1.71" fill="#ffff00"/><ellipse cx="404.31" cy="191.64" rx="0.9" ry="1.1" fill="#ff0000"/><ellipse cx="406.19" cy="191.89" rx="1.4" ry="1.71" fill="#0080ff"/><ellipse cx="406.19" cy="191.89" rx="0.9" ry="1.1" fill="#00008f"/><ellipse cx="408.08" cy="192.14" rx="1.4" ry="1.71" fill="#ff8000"/><ellipse cx="408.08" cy="192.14" rx="0.9" ry="1.1" fill="#8f0000"/><ellipse cx="409.96" cy="192.39" rx="1.4" ry="1.71" fill="#00ffff"/><ellipse cx="409.96" cy="192.39" rx="0.9" ry="1.1" fill="#0000ff"/><ellipse cx="411.86" cy="192.53" rx="0.75" ry="2.3" fill="#ffff00" transform="rotate(-45 411.86 192.53)" opacity="0.93"/><ellipse cx="413.75" cy="192.66" rx="0.75" ry="2.3" fill="#00ffff" transform="rotate(-45 413.75 192.66)" opacity="0.9"/><ellipse cx="415.65" cy="192.79" rx="0.75" ry="2.3" fill="#ffff00" transform="rotate(-45 415.65 192.79)" opacity="0.86"/><ellipse cx="417.54" cy="192.92" rx="0.75" ry="2.3" fill="#00ffff" transform="rotate(-45 417.54 192.92)" opacity="0.82"/><ellipse cx="419.44" cy="193.05" rx="0.75" ry="2.3" fill="#ffff00" transform="rotate(-45 419.44 193.05)" opacity="0.79"/><ellipse cx="421.33" cy="193.18" rx="0.75" ry="2.3" fill="#00ffff" transform="rotate(-45 421.33 193.18)" opacity="0.75"/><ellipse cx="423.23" cy="193.31" rx="0.75" ry="2.3" fill="#ffff00" transform="rotate(-45 423.23 193.31)" opacity="0.71"/><ellipse cx="425.12" cy="193.44" rx="0.75" ry="2.3" fill="#00ffff" transform="rotate(-45 425.12 193.44)" opacity="0.68"/><ellipse cx="427.02" cy="193.57" rx="0.75" ry="2.3" fill="#ffff00" transform="rotate(-45 427.02 193.57)" opacity="0.64"/><ellipse cx="428.92" cy="193.7" rx="0.75" ry="2.3" fill="#00ffff" transform="rotate(-45 428.92 193.7)" opacity="0.6"/><ellipse cx="430.81" cy="193.83" rx="0.75" ry="2.3" fill="#ffff00" transform="rotate(-45 430.81 193.83)" opacity="0.57"/><ellipse cx="432.71" cy="193.96" rx="0.75" ry="2.3" fill="#00ffff" transform="rotate(-45 432.71 193.96)" opacity="0.53"/><ellipse cx="434.6" cy="194.09" rx="0.75" ry="2.3" fill="#ffff00" transform="rotate(-45 434.6 194.09)" opacity="0.49"/><ellipse cx="436.5" cy="194.22" rx="0.75" ry="2.3" fill="#00ffff" transform="rotate(-45 436.5 194.22)" opacity="0.46"/><ellipse cx="438.39" cy="194.35" rx="0.75" ry="2.3" fill="#ffff00" transform="rotate(-45 438.39 194.35)" opacity="0.42"/><ellipse cx="440.29" cy="194.48" rx="0.75" ry="2.3" fill="#00ffff" transform="rotate(-45 440.29 194.48)" opacity="0.38"/><ellipse cx="395.4" cy="179.3" rx="0.7" ry="0.75" fill="#ff8000"/><ellipse cx="397.1" cy="178.45" rx="0.7" ry="0.75" fill="#0080ff"/><ellipse cx="398.8" cy="177.6" rx="1.08" ry="1.16" fill="#ffff00"/><ellipse cx="398.8" cy="177.6" rx="0.7" ry="0.75" fill="#ff0000"/><ellipse cx="400.64" cy="177.17" rx="1.08" ry="1.16" fill="#00ffff"/><ellipse cx="400.64" cy="177.17" rx="0.7" ry="0.75" fill="#0000ff"/><ellipse cx="402.51" cy="176.8" rx="0.7" ry="0.75" fill="#ff8000"/><ellipse cx="404.37" cy="176.43" rx="0.7" ry="0.75" fill="#0080ff"/><ellipse cx="406.25" cy="176.13" rx="1.08" ry="1.16" fill="#ffff00"/><ellipse cx="406.25" cy="176.13" rx="0.7" ry="0.75" fill="#ff0000"/><ellipse cx="408.13" cy="175.88" rx="1.08" ry="1.16" fill="#00ffff"/><ellipse cx="408.13" cy="175.88" rx="0.7" ry="0.75" fill="#0000ff"/><ellipse cx="410.01" cy="175.63" rx="0.7" ry="0.75" fill="#ff8000"/><ellipse cx="395.4" cy="186.7" rx="0.7" ry="0.75" fill="#ff8000"/><ellipse cx="397.1" cy="187.55" rx="0.7" ry="0.75" fill="#0080ff"/><ellipse cx="398.8" cy="188.4" rx="1.08" ry="1.16" fill="#ffff00"/><ellipse cx="398.8" cy="188.4" rx="0.7" ry="0.75" fill="#ff0000"/><ellipse cx="400.64" cy="188.83" rx="1.08" ry="1.16" fill="#00ffff"/><ellipse cx="400.64" cy="188.83" rx="0.7" ry="0.75" fill="#0000ff"/><ellipse cx="402.51" cy="189.2" rx="0.7" ry="0.75" fill="#ff8000"/><ellipse cx="404.37" cy="189.57" rx="0.7" ry="0.75" fill="#0080ff"/><ellipse cx="406.25" cy="189.87" rx="1.08" ry="1.16" fill="#ffff00"/><ellipse cx="406.25" cy="189.87" rx="0.7" ry="0.75" fill="#ff0000"/><ellipse cx="408.13" cy="190.12" rx="1.08" ry="1.16" fill="#00ffff"/><ellipse cx="408.13" cy="190.12" rx="0.7" ry="0.75" fill="#0000ff"/><ellipse cx="410.01" cy="190.37" rx="0.7" ry="0.75" fill="#ff8000"/><ellipse cx="392" cy="181.4" rx="0.95" ry="0.95" fill="#8f0000"/><ellipse cx="392" cy="184.6" rx="0.95" ry="0.95" fill="#8f0000"/><ellipse cx="393.6" cy="183" rx="0.95" ry="0.95" fill="#00008f"/><ellipse cx="394.6" cy="180.8" rx="0.95" ry="0.95" fill="#00008f"/><ellipse cx="394.6" cy="185.2" rx="0.95" ry="0.95" fill="#00008f"/><ellipse cx="391" cy="183" rx="0.95" ry="0.95" fill="#c00000"/><ellipse cx="389.8" cy="183" rx="0.6" ry="1.6" fill="#ff8000"/></g></g>
<rect x="170.8" y="200.9" width="62.40" height="30.00" fill="url(#g1r5)"/>
<g clip-path="url(#cm50)"><g filter="url(#b6)"><ellipse cx="186.6" cy="213.3" rx="1.2" ry="1" fill="#00ffff"/><ellipse cx="186.6" cy="218.4" rx="1.2" ry="1" fill="#00ffff"/><path d="M186,213.6 L188.01,213.6 L190.02,213.6 L192.03,213.6 L194.03,213.6 L196.04,213.6 L198.05,213.6 L200.06,213.6 L202.07,213.6 L204.07,213.6 L206.08,213.6 L208.09,213.6 L210.1,213.6 L212.11,213.6 L214.12,213.6 L216.12,213.6 L218.13,213.6 L220.14,213.6 L222.15,213.6 L224.16,213.6 L226.17,213.6 L228.17,213.6 L230.18,213.6 L232.19,213.6 L234.2,213.6 L234.2,218 L232.19,218 L230.18,218 L228.17,218 L226.17,218 L224.16,218 L222.15,218 L220.14,218 L218.13,218 L216.12,218 L214.12,218 L212.11,218 L210.1,218 L208.09,218 L206.08,218 L204.07,218 L202.07,218 L200.06,218 L198.05,218 L196.04,218 L194.03,218 L192.03,218 L190.02,218 L188.01,218 L186,218 Z" fill="#ffff00" /><path d="M187,214.9 L188.97,214.9 L190.93,214.9 L192.9,214.9 L194.87,214.9 L196.83,214.9 L198.8,214.9 L200.77,214.9 L202.73,214.9 L204.7,214.9 L206.67,214.6 L208.63,214.6 L210.6,214.6 L212.57,214.6 L214.53,214.6 L216.5,214.6 L218.47,214.6 L220.43,214.6 L222.4,214.6 L224.37,214.6 L226.33,214.6 L228.3,214.6 L230.27,214.6 L232.23,214.6 L234.2,214.6 L234.2,217 L232.23,217 L230.27,217 L228.3,217 L226.33,217 L224.37,217 L222.4,217 L220.43,217 L218.47,217 L216.5,217 L214.53,217 L212.57,217 L210.6,217 L208.63,217 L206.67,217 L204.7,216.7 L202.73,216.7 L200.77,216.7 L198.8,216.7 L196.83,216.7 L194.87,216.7 L192.9,216.7 L190.93,216.7 L188.97,216.7 L187,216.7 Z" fill="#ff3000" /><ellipse cx="186.8" cy="215.8" rx="1.1" ry="0.9" fill="#c00000"/><ellipse cx="184.8" cy="215.8" rx="0.8" ry="1.2" fill="#ffff00"/></g></g>
<rect x="240.2" y="200.9" width="62.90" height="30.00" fill="#80ff80"/>
<g clip-path="url(#cm51)"><g filter="url(#b4)"><ellipse cx="261.5" cy="213.5" rx="1.73" ry="2.15" fill="#ffff00" transform="rotate(-25 261.5 213.5)"/><ellipse cx="261.5" cy="213.5" rx="1.05" ry="1.3" fill="#ff0000" transform="rotate(-25 261.5 213.5)"/><ellipse cx="261.5" cy="217.8" rx="1.73" ry="2.15" fill="#00ffff" transform="rotate(25 261.5 217.8)"/><ellipse cx="261.5" cy="217.8" rx="1.05" ry="1.3" fill="#0000ff" transform="rotate(25 261.5 217.8)"/><ellipse cx="264.95" cy="213.5" rx="1.73" ry="2.15" fill="#00ffff" transform="rotate(-25 264.95 213.5)"/><ellipse cx="264.95" cy="213.5" rx="1.05" ry="1.3" fill="#0000ff" transform="rotate(-25 264.95 213.5)"/><ellipse cx="264.95" cy="217.8" rx="1.73" ry="2.15" fill="#ffff00" transform="rotate(25 264.95 217.8)"/><ellipse cx="264.95" cy="217.8" rx="1.05" ry="1.3" fill="#ff0000" transform="rotate(25 264.95 217.8)"/><ellipse cx="268.4" cy="213.5" rx="1.73" ry="2.15" fill="#ffff00" transform="rotate(-25 268.4 213.5)"/><ellipse cx="268.4" cy="213.5" rx="1.05" ry="1.3" fill="#ff0000" transform="rotate(-25 268.4 213.5)"/><ellipse cx="268.4" cy="217.8" rx="1.73" ry="2.15" fill="#00ffff" transform="rotate(25 268.4 217.8)"/><ellipse cx="268.4" cy="217.8" rx="1.05" ry="1.3" fill="#0000ff" transform="rotate(25 268.4 217.8)"/><ellipse cx="271.85" cy="213.5" rx="1.73" ry="2.15" fill="#00ffff" transform="rotate(-25 271.85 213.5)"/><ellipse cx="271.85" cy="213.5" rx="1.05" ry="1.3" fill="#0000ff" transform="rotate(-25 271.85 213.5)"/><ellipse cx="271.85" cy="217.8" rx="1.73" ry="2.15" fill="#ffff00" transform="rotate(25 271.85 217.8)"/><ellipse cx="271.85" cy="217.8" rx="1.05" ry="1.3" fill="#ff0000" transform="rotate(25 271.85 217.8)"/><ellipse cx="275.3" cy="213.5" rx="1.73" ry="2.15" fill="#ffff00" transform="rotate(-25 275.3 213.5)"/><ellipse cx="275.3" cy="213.5" rx="1.05" ry="1.3" fill="#ff0000" transform="rotate(-25 275.3 213.5)"/><ellipse cx="275.3" cy="217.8" rx="1.73" ry="2.15" fill="#00ffff" transform="rotate(25 275.3 217.8)"/><ellipse cx="275.3" cy="217.8" rx="1.05" ry="1.3" fill="#0000ff" transform="rotate(25 275.3 217.8)"/><ellipse cx="278.75" cy="213.5" rx="1.73" ry="2.15" fill="#00ffff" transform="rotate(-25 278.75 213.5)"/><ellipse cx="278.75" cy="213.5" rx="1.05" ry="1.3" fill="#0000ff" transform="rotate(-25 278.75 213.5)"/><ellipse cx="278.75" cy="217.8" rx="1.73" ry="2.15" fill="#ffff00" transform="rotate(25 278.75 217.8)"/><ellipse cx="278.75" cy="217.8" rx="1.05" ry="1.3" fill="#ff0000" transform="rotate(25 278.75 217.8)"/><ellipse cx="282.2" cy="213.5" rx="1.58" ry="1.95" fill="#ffff00" transform="rotate(-25 282.2 213.5)"/><ellipse cx="282.2" cy="213.5" rx="0.84" ry="1.04" fill="#ff8000" transform="rotate(-25 282.2 213.5)"/><ellipse cx="282.2" cy="217.8" rx="1.58" ry="1.95" fill="#00ffff" transform="rotate(25 282.2 217.8)"/><ellipse cx="282.2" cy="217.8" rx="0.84" ry="1.04" fill="#0080ff" transform="rotate(25 282.2 217.8)"/><ellipse cx="285.65" cy="213.5" rx="1.58" ry="1.95" fill="#00ffff" transform="rotate(-25 285.65 213.5)"/><ellipse cx="285.65" cy="213.5" rx="0.84" ry="1.04" fill="#0080ff" transform="rotate(-25 285.65 213.5)"/><ellipse cx="285.65" cy="217.8" rx="1.58" ry="1.95" fill="#ffff00" transform="rotate(25 285.65 217.8)"/><ellipse cx="285.65" cy="217.8" rx="0.84" ry="1.04" fill="#ff8000" transform="rotate(25 285.65 217.8)"/><ellipse cx="289.1" cy="213.5" rx="1.37" ry="1.69" fill="#ffff00" transform="rotate(-25 289.1 213.5)" opacity="0.9"/><ellipse cx="289.1" cy="217.8" rx="1.37" ry="1.69" fill="#00ffff" transform="rotate(25 289.1 217.8)" opacity="0.9"/><ellipse cx="292.55" cy="213.5" rx="1.37" ry="1.69" fill="#00ffff" transform="rotate(-25 292.55 213.5)" opacity="0.8"/><ellipse cx="292.55" cy="217.8" rx="1.37" ry="1.69" fill="#ffff00" transform="rotate(25 292.55 217.8)" opacity="0.8"/><ellipse cx="296" cy="213.5" rx="1.37" ry="1.69" fill="#ffff00" transform="rotate(-25 296 213.5)" opacity="0.7"/><ellipse cx="296" cy="217.8" rx="1.37" ry="1.69" fill="#00ffff" transform="rotate(25 296 217.8)" opacity="0.7"/><ellipse cx="299.45" cy="213.5" rx="1.37" ry="1.69" fill="#00ffff" transform="rotate(-25 299.45 213.5)" opacity="0.6"/><ellipse cx="299.45" cy="217.8" rx="1.37" ry="1.69" fill="#ffff00" transform="rotate(25 299.45 217.8)" opacity="0.6"/><ellipse cx="302.9" cy="213.5" rx="1.37" ry="1.69" fill="#ffff00" transform="rotate(-25 302.9 213.5)" opacity="0.5"/><ellipse cx="302.9" cy="217.8" rx="1.37" ry="1.69" fill="#00ffff" transform="rotate(25 302.9 217.8)" opacity="0.5"/><ellipse cx="258.4" cy="213.6" rx="0.7" ry="0.8" fill="#0000ff"/><ellipse cx="258.4" cy="217.6" rx="0.7" ry="0.8" fill="#0000ff"/><ellipse cx="256.5" cy="216" rx="2.4" ry="2.2" fill="#ffff00"/><ellipse cx="256.5" cy="216.0" rx="1.35" ry="1.3" fill="#e00000" stroke="#000080" stroke-width="0.75"/></g></g>
<rect x="309.5" y="200.9" width="63.10" height="30.00" fill="#80ff80"/>
<g clip-path="url(#cm52)"><g filter="url(#b4)"><ellipse cx="327.5" cy="212.6" rx="0.7" ry="1.1" fill="#ffff00" transform="rotate(-25 327.5 212.6)" opacity="0.95"/><ellipse cx="327.5" cy="219.2" rx="0.7" ry="1.1" fill="#ffff00" transform="rotate(25 327.5 219.2)" opacity="0.95"/><ellipse cx="329.7" cy="212.6" rx="0.7" ry="1.1" fill="#00ffff" transform="rotate(-25 329.7 212.6)" opacity="0.83"/><ellipse cx="329.7" cy="219.2" rx="0.7" ry="1.1" fill="#00ffff" transform="rotate(25 329.7 219.2)" opacity="0.83"/><ellipse cx="331.9" cy="212.6" rx="0.7" ry="1.1" fill="#ffff00" transform="rotate(-25 331.9 212.6)" opacity="0.71"/><ellipse cx="331.9" cy="219.2" rx="0.7" ry="1.1" fill="#ffff00" transform="rotate(25 331.9 219.2)" opacity="0.71"/><ellipse cx="334.1" cy="212.6" rx="0.7" ry="1.1" fill="#00ffff" transform="rotate(-25 334.1 212.6)" opacity="0.59"/><ellipse cx="334.1" cy="219.2" rx="0.7" ry="1.1" fill="#00ffff" transform="rotate(25 334.1 219.2)" opacity="0.59"/><ellipse cx="336.3" cy="212.6" rx="0.7" ry="1.1" fill="#ffff00" transform="rotate(-25 336.3 212.6)" opacity="0.47"/><ellipse cx="336.3" cy="219.2" rx="0.7" ry="1.1" fill="#ffff00" transform="rotate(25 336.3 219.2)" opacity="0.47"/><path d="M325,214.8 L331.5,214.8 L338,214.8 L344.5,214.8 L351,214.8 L351,217 L344.5,217 L338,217 L331.5,217 L325,217 Z" fill="#400060" /><ellipse cx="326" cy="215.9" rx="0.95" ry="1.45" fill="#00008f"/><ellipse cx="328.2" cy="215.9" rx="0.95" ry="1.45" fill="#8f0000"/><ellipse cx="330.4" cy="215.9" rx="0.95" ry="1.45" fill="#00008f"/><ellipse cx="332.6" cy="215.9" rx="0.95" ry="1.45" fill="#8f0000"/><ellipse cx="334.8" cy="215.9" rx="0.95" ry="1.45" fill="#0000ff"/><ellipse cx="337" cy="215.9" rx="0.95" ry="1.45" fill="#ff0000"/><ellipse cx="339.2" cy="215.9" rx="0.95" ry="1.45" fill="#0000ff"/><ellipse cx="341.4" cy="215.9" rx="0.95" ry="1.45" fill="#ff0000"/><ellipse cx="343.6" cy="215.9" rx="0.95" ry="1.45" fill="#0000ff"/><ellipse cx="345.8" cy="215.9" rx="0.95" ry="1.45" fill="#ff0000"/><ellipse cx="348" cy="215.9" rx="0.95" ry="1.45" fill="#0000ff"/><ellipse cx="350.2" cy="215.9" rx="0.95" ry="1.45" fill="#ff8000"/><ellipse cx="352.5" cy="215.9" rx="0.55" ry="1.9" fill="#00ffff" opacity="0.95"/><ellipse cx="354.6" cy="215.9" rx="0.55" ry="1.9" fill="#ffff00" opacity="0.86"/><ellipse cx="356.7" cy="215.9" rx="0.55" ry="1.9" fill="#00ffff" opacity="0.77"/><ellipse cx="358.8" cy="215.9" rx="0.55" ry="1.9" fill="#ffff00" opacity="0.68"/><ellipse cx="360.9" cy="215.9" rx="0.55" ry="1.9" fill="#00ffff" opacity="0.59"/><ellipse cx="363" cy="215.9" rx="0.55" ry="1.9" fill="#ffff00" opacity="0.5"/><ellipse cx="365.1" cy="215.9" rx="0.55" ry="1.9" fill="#00ffff" opacity="0.41"/><ellipse cx="367.2" cy="215.9" rx="0.55" ry="1.9" fill="#ffff00" opacity="0.32"/><ellipse cx="369.3" cy="215.9" rx="0.55" ry="1.9" fill="#00ffff" opacity="0.25"/><ellipse cx="325" cy="215.9" rx="1" ry="1.6" fill="#00008f"/></g></g>
<rect x="379.6" y="200.9" width="62.30" height="30.00" fill="#80ff80"/>
<g clip-path="url(#cm53)"><g filter="url(#b4)"><path d="M400.8,211.4 Q403.2,215.8 400.8,220.2" fill="none" stroke="#ffff00" stroke-width="0.9" opacity="0.95" /><path d="M402.9,211.6 Q405.3,215.8 402.9,220.1" fill="none" stroke="#00ffff" stroke-width="0.9" opacity="0.85" /><path d="M405.1,211.7 Q407.5,215.8 405.1,219.9" fill="none" stroke="#ffff00" stroke-width="0.9" opacity="0.75" /><path d="M407.2,211.9 Q409.6,215.8 407.2,219.8" fill="none" stroke="#00ffff" stroke-width="0.9" opacity="0.65" /><path d="M409.4,212.0 Q411.8,215.8 409.4,219.6" fill="none" stroke="#ffff00" stroke-width="0.9" opacity="0.55" /><path d="M411.6,212.2 Q413.9,215.8 411.6,219.5" fill="none" stroke="#00ffff" stroke-width="0.9" opacity="0.45" /><path d="M413.7,212.3 Q416.1,215.8 413.7,219.3" fill="none" stroke="#ffff00" stroke-width="0.9" opacity="0.35" /><path d="M415.9,212.5 Q418.2,215.8 415.9,219.2" fill="none" stroke="#00ffff" stroke-width="0.9" opacity="0.25" /><path d="M418.0,212.6 Q420.4,215.8 418.0,219.0" fill="none" stroke="#ffff00" stroke-width="0.9" opacity="0.2" /><ellipse cx="398.8" cy="213.8" rx="1.3" ry="1" fill="#ffff00"/><ellipse cx="398.8" cy="217.8" rx="1.3" ry="1" fill="#00ffff"/><ellipse cx="395" cy="215.8" rx="2.3" ry="1.9" fill="#00008f"/><ellipse cx="396.6" cy="214.8" rx="1.2" ry="0.9" fill="#8f0000"/><ellipse cx="397" cy="217" rx="1.1" ry="0.8" fill="#4040ff"/><ellipse cx="399" cy="214.3" rx="1" ry="0.9" fill="#0000ff"/><ellipse cx="399" cy="217.3" rx="1" ry="0.9" fill="#ff0000"/><ellipse cx="400.6" cy="213.9" rx="0.8" ry="0.8" fill="#ff8000"/><ellipse cx="400.6" cy="217.7" rx="0.8" ry="0.8" fill="#0000ff"/><ellipse cx="393.6" cy="215.8" rx="1" ry="1.2" fill="#200040"/></g></g>
<rect x="27.7" y="235.9" width="136.8" height="4.4" fill="url(#cb1)"/>
<rect x="232.0" y="235.9" width="164.3" height="4.4" fill="url(#cb2)"/>
<text x="25.5" y="239.6" font-family="Liberation Serif, serif" font-size="4.4" text-anchor="end" fill="#333">-0.0003</text>
<text x="166.0" y="239.6" font-family="Liberation Serif, serif" font-size="4.4" fill="#333">0.0003</text>
<text x="230.3" y="239.6" font-family="Liberation Serif, serif" font-size="4.85" text-anchor="end" fill="#333">0/-0.006/-0.006/-0.006</text>
<text x="398.0" y="239.6" font-family="Liberation Serif, serif" font-size="4.75" fill="#333">0.0032/0.006/0.006/0.006</text>
</svg></body></html>
